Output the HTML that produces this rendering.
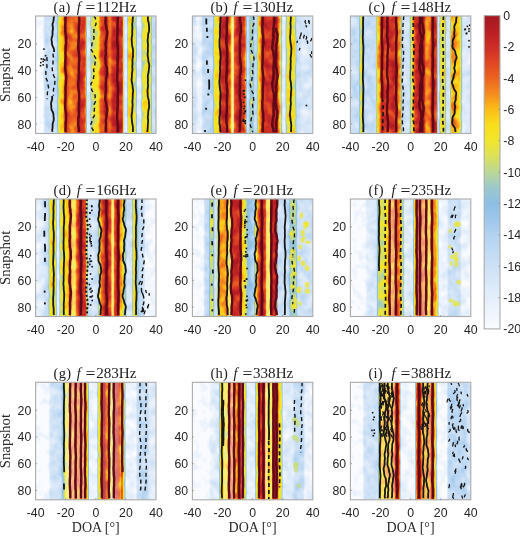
<!DOCTYPE html>
<html><head><meta charset="utf-8"><style>
html,body{margin:0;padding:0;background:#fff;width:520px;height:536px;overflow:hidden}
svg{display:block}
.ti{font-family:"Liberation Serif",serif;font-size:14.5px;fill:#222}
.eq{font-size:17.5px}
.lb{font-family:"Liberation Serif",serif;font-size:14px;fill:#2a2a2a}
.tk{font-family:"Liberation Sans",sans-serif;font-size:12.3px;fill:#262626}
</style></head><body>
<svg width="520" height="536" viewBox="0 0 520 536">
<defs><filter id="tex" x="0" y="0" width="1" height="1" color-interpolation-filters="sRGB"><feTurbulence type="fractalNoise" baseFrequency="0.12 0.1" numOctaves="2" seed="7" result="n"/><feColorMatrix in="n" type="matrix" values="1 0 0 0 0 1 0 0 0 0 1 0 0 0 0 0 0 0 0 1" result="ng"/><feComposite in="SourceGraphic" in2="ng" operator="arithmetic" k1="0" k2="1" k3="0.280" k4="-0.140" result="v"/><feComponentTransfer in="v"><feFuncR type="table" tableValues="0.9804 0.9569 0.9373 0.9176 0.8941 0.8706 0.8471 0.8275 0.8039 0.7765 0.7529 0.7255 0.6980 0.6588 0.6196 0.5882 0.5569 0.5804 0.6078 0.6667 0.7255 0.7922 0.8627 0.9020 0.9412 0.9608 0.9804 0.9804 0.9804 0.9725 0.9608 0.9451 0.9294 0.9020 0.8784 0.8392 0.8039 0.7647 0.7255 0.6863 0.6471"/><feFuncG type="table" tableValues="0.9882 0.9725 0.9608 0.9490 0.9333 0.9216 0.9098 0.8941 0.8824 0.8667 0.8549 0.8392 0.8235 0.8000 0.7765 0.7608 0.7451 0.7647 0.7843 0.8157 0.8431 0.8627 0.8824 0.8941 0.9020 0.8863 0.8706 0.8078 0.7451 0.6471 0.5490 0.4706 0.3922 0.3333 0.2745 0.2235 0.1725 0.1451 0.1176 0.1059 0.0941"/><feFuncB type="table" tableValues="1.0000 0.9961 0.9922 0.9882 0.9843 0.9804 0.9725 0.9686 0.9647 0.9569 0.9529 0.9490 0.9412 0.9333 0.9216 0.9098 0.9020 0.8549 0.8039 0.6980 0.5882 0.4706 0.3529 0.2667 0.1765 0.1412 0.1020 0.0980 0.0941 0.1059 0.1176 0.1216 0.1255 0.1333 0.1373 0.1412 0.1490 0.1451 0.1412 0.1373 0.1333"/></feComponentTransfer></filter>
<clipPath id="ca"><rect x="35.60" y="16.00" width="120.40" height="117.50"/></clipPath>
<clipPath id="cb"><rect x="192.40" y="16.00" width="120.40" height="117.50"/></clipPath>
<clipPath id="cc"><rect x="350.40" y="16.00" width="120.40" height="117.50"/></clipPath>
<clipPath id="cd"><rect x="35.60" y="199.00" width="120.40" height="117.50"/></clipPath>
<clipPath id="ce"><rect x="192.40" y="199.00" width="120.40" height="117.50"/></clipPath>
<clipPath id="cf"><rect x="350.40" y="199.00" width="120.40" height="117.50"/></clipPath>
<clipPath id="cg"><rect x="35.60" y="382.30" width="120.40" height="117.50"/></clipPath>
<clipPath id="ch"><rect x="192.40" y="382.30" width="120.40" height="117.50"/></clipPath>
<clipPath id="ci"><rect x="350.40" y="382.30" width="120.40" height="117.50"/></clipPath>
<linearGradient id="cbar" x1="0" x2="0" y1="0" y2="1"><stop offset="0.0000" stop-color="#a51822"/><stop offset="0.0250" stop-color="#af1b23"/><stop offset="0.0500" stop-color="#b91e24"/><stop offset="0.0750" stop-color="#c32525"/><stop offset="0.1000" stop-color="#cd2c26"/><stop offset="0.1250" stop-color="#d63924"/><stop offset="0.1500" stop-color="#e04623"/><stop offset="0.1750" stop-color="#e65522"/><stop offset="0.2000" stop-color="#ed6420"/><stop offset="0.2250" stop-color="#f1781f"/><stop offset="0.2500" stop-color="#f58c1e"/><stop offset="0.2750" stop-color="#f8a51b"/><stop offset="0.3000" stop-color="#fabe18"/><stop offset="0.3250" stop-color="#face19"/><stop offset="0.3500" stop-color="#fade1a"/><stop offset="0.3750" stop-color="#f5e224"/><stop offset="0.4000" stop-color="#f0e62d"/><stop offset="0.4250" stop-color="#e6e444"/><stop offset="0.4500" stop-color="#dce15a"/><stop offset="0.4750" stop-color="#cadc78"/><stop offset="0.5000" stop-color="#b9d796"/><stop offset="0.5250" stop-color="#aad0b2"/><stop offset="0.5500" stop-color="#9bc8cd"/><stop offset="0.5750" stop-color="#94c3da"/><stop offset="0.6000" stop-color="#8ebee6"/><stop offset="0.6250" stop-color="#96c2e8"/><stop offset="0.6500" stop-color="#9ec6eb"/><stop offset="0.6750" stop-color="#a8ccee"/><stop offset="0.7000" stop-color="#b2d2f0"/><stop offset="0.7250" stop-color="#b9d6f2"/><stop offset="0.7500" stop-color="#c0daf3"/><stop offset="0.7750" stop-color="#c6ddf4"/><stop offset="0.8000" stop-color="#cde1f6"/><stop offset="0.8250" stop-color="#d3e4f7"/><stop offset="0.8500" stop-color="#d8e8f8"/><stop offset="0.8750" stop-color="#deebfa"/><stop offset="0.9000" stop-color="#e4eefb"/><stop offset="0.9250" stop-color="#eaf2fc"/><stop offset="0.9500" stop-color="#eff5fd"/><stop offset="0.9750" stop-color="#f4f8fe"/><stop offset="1.0000" stop-color="#fafcff"/></linearGradient><filter id="soft" x="0" y="0" width="1" height="1" color-interpolation-filters="sRGB"><feGaussianBlur stdDeviation="0.4"/></filter></defs>
<g filter="url(#soft)"><rect width="520" height="536" fill="#fff"/>
<linearGradient id="ga" x1="0" x2="1" y1="0" y2="0"><stop offset="0.0042" stop-color="#000000"/><stop offset="0.0125" stop-color="#000000"/><stop offset="0.0208" stop-color="#000000"/><stop offset="0.0291" stop-color="#000000"/><stop offset="0.0374" stop-color="#000000"/><stop offset="0.0457" stop-color="#000000"/><stop offset="0.0540" stop-color="#000000"/><stop offset="0.0623" stop-color="#000000"/><stop offset="0.0706" stop-color="#1e1e1e"/><stop offset="0.0789" stop-color="#333333"/><stop offset="0.0872" stop-color="#343434"/><stop offset="0.0955" stop-color="#343434"/><stop offset="0.1038" stop-color="#353535"/><stop offset="0.1121" stop-color="#363636"/><stop offset="0.1204" stop-color="#363636"/><stop offset="0.1287" stop-color="#373737"/><stop offset="0.1370" stop-color="#373737"/><stop offset="0.1453" stop-color="#383838"/><stop offset="0.1537" stop-color="#393939"/><stop offset="0.1620" stop-color="#393939"/><stop offset="0.1703" stop-color="#3e3e3e"/><stop offset="0.1786" stop-color="#4a4a4a"/><stop offset="0.1869" stop-color="#7c7c7c"/><stop offset="0.1952" stop-color="#939393"/><stop offset="0.2035" stop-color="#9f9f9f"/><stop offset="0.2118" stop-color="#a8a8a8"/><stop offset="0.2201" stop-color="#acacac"/><stop offset="0.2284" stop-color="#b0b0b0"/><stop offset="0.2367" stop-color="#c3c3c3"/><stop offset="0.2450" stop-color="#e6e6e6"/><stop offset="0.2533" stop-color="#ebebeb"/><stop offset="0.2616" stop-color="#d9d9d9"/><stop offset="0.2699" stop-color="#d1d1d1"/><stop offset="0.2782" stop-color="#cdcdcd"/><stop offset="0.2865" stop-color="#c9c9c9"/><stop offset="0.2949" stop-color="#c5c5c5"/><stop offset="0.3032" stop-color="#c5c5c5"/><stop offset="0.3115" stop-color="#c7c7c7"/><stop offset="0.3198" stop-color="#cacaca"/><stop offset="0.3281" stop-color="#cdcdcd"/><stop offset="0.3364" stop-color="#d0d0d0"/><stop offset="0.3447" stop-color="#d3d3d3"/><stop offset="0.3530" stop-color="#e9e9e9"/><stop offset="0.3613" stop-color="#f2f2f2"/><stop offset="0.3696" stop-color="#e4e4e4"/><stop offset="0.3779" stop-color="#e2e2e2"/><stop offset="0.3862" stop-color="#e1e1e1"/><stop offset="0.3945" stop-color="#dfdfdf"/><stop offset="0.4028" stop-color="#dddddd"/><stop offset="0.4111" stop-color="#d2d2d2"/><stop offset="0.4194" stop-color="#b2b2b2"/><stop offset="0.4277" stop-color="#202020"/><stop offset="0.4360" stop-color="#222222"/><stop offset="0.4444" stop-color="#242424"/><stop offset="0.4527" stop-color="#262626"/><stop offset="0.4610" stop-color="#808080"/><stop offset="0.4693" stop-color="#858585"/><stop offset="0.4776" stop-color="#8a8a8a"/><stop offset="0.4859" stop-color="#8e8e8e"/><stop offset="0.4942" stop-color="#919191"/><stop offset="0.5025" stop-color="#939393"/><stop offset="0.5108" stop-color="#969696"/><stop offset="0.5191" stop-color="#9b9b9b"/><stop offset="0.5274" stop-color="#b2b2b2"/><stop offset="0.5357" stop-color="#c7c7c7"/><stop offset="0.5440" stop-color="#d5d5d5"/><stop offset="0.5523" stop-color="#d9d9d9"/><stop offset="0.5606" stop-color="#dddddd"/><stop offset="0.5689" stop-color="#e1e1e1"/><stop offset="0.5772" stop-color="#e8e8e8"/><stop offset="0.5855" stop-color="#f6f6f6"/><stop offset="0.5939" stop-color="#e6e6e6"/><stop offset="0.6022" stop-color="#d5d5d5"/><stop offset="0.6105" stop-color="#c9c9c9"/><stop offset="0.6188" stop-color="#c8c8c8"/><stop offset="0.6271" stop-color="#d3d3d3"/><stop offset="0.6354" stop-color="#dddddd"/><stop offset="0.6437" stop-color="#e5e5e5"/><stop offset="0.6520" stop-color="#e8e8e8"/><stop offset="0.6603" stop-color="#eaeaea"/><stop offset="0.6686" stop-color="#ededed"/><stop offset="0.6769" stop-color="#f6f6f6"/><stop offset="0.6852" stop-color="#f5f5f5"/><stop offset="0.6935" stop-color="#ededed"/><stop offset="0.7018" stop-color="#eaeaea"/><stop offset="0.7101" stop-color="#e7e7e7"/><stop offset="0.7184" stop-color="#e5e5e5"/><stop offset="0.7267" stop-color="#bbbbbb"/><stop offset="0.7350" stop-color="#353535"/><stop offset="0.7434" stop-color="#1a1a1a"/><stop offset="0.7517" stop-color="#1a1a1a"/><stop offset="0.7600" stop-color="#1a1a1a"/><stop offset="0.7683" stop-color="#9f9f9f"/><stop offset="0.7766" stop-color="#a1a1a1"/><stop offset="0.7849" stop-color="#a3a3a3"/><stop offset="0.7932" stop-color="#a5a5a5"/><stop offset="0.8015" stop-color="#a2a2a2"/><stop offset="0.8098" stop-color="#9a9a9a"/><stop offset="0.8181" stop-color="#919191"/><stop offset="0.8264" stop-color="#8b8b8b"/><stop offset="0.8347" stop-color="#868686"/><stop offset="0.8430" stop-color="#202020"/><stop offset="0.8513" stop-color="#202020"/><stop offset="0.8596" stop-color="#202020"/><stop offset="0.8679" stop-color="#202020"/><stop offset="0.8762" stop-color="#202020"/><stop offset="0.8846" stop-color="#808080"/><stop offset="0.8929" stop-color="#919191"/><stop offset="0.9012" stop-color="#969696"/><stop offset="0.9095" stop-color="#9a9a9a"/><stop offset="0.9178" stop-color="#9d9d9d"/><stop offset="0.9261" stop-color="#9f9f9f"/><stop offset="0.9344" stop-color="#9d9d9d"/><stop offset="0.9427" stop-color="#9a9a9a"/><stop offset="0.9510" stop-color="#969696"/><stop offset="0.9593" stop-color="#8f8f8f"/><stop offset="0.9676" stop-color="#393939"/><stop offset="0.9759" stop-color="#393939"/><stop offset="0.9842" stop-color="#393939"/><stop offset="0.9925" stop-color="#393939"/><stop offset="1.0000" stop-color="#393939"/></linearGradient>
<rect x="35.60" y="16.00" width="120.40" height="117.50" fill="url(#ga)" filter="url(#tex)"/>
<g clip-path="url(#ca)">
<path d="M54.2 16.0 L53.7 18.0 L53.6 20.0 L53.2 22.0 L52.5 24.0 L52.6 26.0 L53.0 28.0 L52.8 30.0 L52.5 32.0 L52.6 34.0 L52.3 36.0 L51.6 38.0 L51.5 40.0 L51.9 42.0 L52.0 44.0 L52.5 46.0 L53.6 48.0 L54.1 50.0 L54.1 52.0" fill="none" stroke="#161616" stroke-width="1.8"/>
<path d="M53.2 53.6 L53.1 55.6 L53.6 57.6 L53.5 59.6 L53.0 61.6 L53.0 63.6 L52.9 65.6 L52.3 67.6 L52.2 69.6 L52.8 71.6 L53.3 73.6 L53.6 75.6 L54.6 77.6 L55.2 79.6 L54.9 81.6 L54.7 83.6 L54.6 85.6 L54.0 87.6 L53.4 89.6 L53.5 91.6 L53.7 93.6 L53.4 95.6" fill="none" stroke="#141414" stroke-width="1.4" stroke-dasharray="4 3"/>
<path d="M46.9 57.1 L46.9 59.1 L47.2 61.1 L47.0 63.1 L46.8 65.1 L47.0 67.1 L46.6 69.1 L45.9 71.1 L45.8 73.1 L46.0 75.1 L45.9 77.1 L46.4 79.1 L47.4 81.1 L48.0 83.1 L48.1 85.1 L48.5 87.1 L48.5 89.1 L47.8 91.1 L47.3 93.1 L47.4 95.1 L47.2 97.1 L46.9 99.1" fill="none" stroke="#141414" stroke-width="1.4" stroke-dasharray="4 3"/>
<path d="M52.1 95.9 L52.2 97.9 L52.0 99.9 L51.3 101.9 L51.0 103.9 L51.3 105.9 L51.4 107.9 L51.6 109.9 L52.7 111.9 L53.4 113.9 L53.5 115.9 L53.7 117.9 L53.8 119.9 L53.2 121.9 L52.6 123.9 L52.6 125.9 L52.6 127.9 L52.2 129.9 L52.4 131.9" fill="none" stroke="#161616" stroke-width="1.8"/>
<path d="M65.5 16.0 L65.4 18.0 L65.4 20.0 L65.5 22.0 L65.3 24.0 L65.1 26.0 L65.2 28.0 L65.3 30.0 L65.3 32.0 L65.7 34.0 L66.0 36.0 L66.1 38.0 L66.1 40.0 L66.2 42.0 L66.1 44.0 L65.7 46.0 L65.6 48.0 L65.6 50.0 L65.4 52.0 L65.4 54.0 L65.6 56.0 L65.6 58.0 L65.3 60.0 L65.3 62.0 L65.3 64.0 L65.1 66.0 L65.1 68.0 L65.4 70.0 L65.7 72.0 L65.8 74.0 L66.1 76.0 L66.3 78.0 L66.1 80.0 L65.9 82.0 L65.9 84.0 L65.7 86.0 L65.4 88.0 L65.5 90.0 L65.6 92.0 L65.5 94.0 L65.5 96.0 L65.5 98.0 L65.4 100.0 L65.1 102.0 L65.1 104.0 L65.2 106.0 L65.2 108.0 L65.4 110.0 L65.9 112.0 L66.1 114.0 L66.1 116.0 L66.1 118.0 L66.1 120.0 L65.8 122.0 L65.6 124.0 L65.7 126.0 L65.6 128.0 L65.5 130.0 L65.6 132.0" fill="none" stroke="#5c0a16" stroke-width="2.4"/>
<path d="M79.2 16.0 L79.3 18.0 L79.3 20.0 L79.3 22.0 L79.3 24.0 L78.9 26.0 L78.8 28.0 L78.9 30.0 L78.8 32.0 L78.7 34.0 L78.8 36.0 L78.9 38.0 L78.6 40.0 L78.4 42.0 L78.4 44.0 L78.3 46.0 L78.2 48.0 L78.5 50.0 L78.8 52.0 L79.0 54.0 L79.2 56.0 L79.4 58.0 L79.3 60.0 L79.1 62.0 L79.0 64.0 L79.0 66.0 L78.8 68.0 L78.8 70.0 L79.0 72.0 L78.9 74.0 L78.7 76.0 L78.7 78.0 L78.6 80.0 L78.2 82.0 L78.1 84.0 L78.3 86.0 L78.4 88.0 L78.6 90.0 L79.0 92.0 L79.2 94.0 L79.2 96.0 L79.2 98.0 L79.2 100.0 L79.1 102.0 L78.8 104.0 L78.9 106.0 L79.0 108.0 L78.9 110.0 L78.9 112.0 L79.0 114.0 L78.8 116.0 L78.4 118.0 L78.3 120.0 L78.3 122.0 L78.1 124.0 L78.3 126.0 L78.7 128.0 L78.9 130.0 L79.0 132.0" fill="none" stroke="#5c0a16" stroke-width="2.4"/>
<path d="M94.0 16.0 L95.4 18.0 L95.5 20.0 L95.7 22.0 L96.1 24.0 L95.1 26.0 L93.9 28.0 L93.9 30.0 L94.0 32.0 L93.4 34.0 L93.6 36.0 L94.1 38.0 L93.5 40.0 L92.3 42.0 L92.0 44.0 L91.6 46.0 L90.8 48.0 L91.2 50.0 L92.7 52.0 L93.6 54.0 L94.3 56.0 L95.6 58.0 L96.2 60.0 L95.3 62.0 L94.8 64.0 L94.9 66.0 L94.1 68.0 L93.5 70.0 L94.1 72.0 L94.5 74.0 L93.8 76.0 L93.5 78.0 L93.3 80.0 L92.1 82.0 L90.9 84.0 L91.1 86.0 L91.5 88.0 L91.7 90.0 L92.9 92.0 L94.7 94.0 L95.2 96.0 L95.1 98.0 L95.6 100.0 L95.4 102.0 L94.2 104.0 L94.0 106.0 L94.5 108.0 L94.3 110.0 L94.1 112.0 L94.6 114.0 L94.3 116.0 L92.9 118.0 L92.0 120.0 L91.8 122.0 L90.9 124.0 L90.6 126.0 L91.9 128.0 L93.1 130.0 L93.6 132.0" fill="none" stroke="#141414" stroke-width="1.4" stroke-dasharray="4 3"/>
<path d="M105.6 16.0 L105.7 18.0 L105.6 20.0 L105.4 22.0 L105.7 24.0 L106.2 26.0 L106.4 28.0 L106.8 30.0 L107.3 32.0 L107.3 34.0 L106.8 36.0 L106.6 38.0 L106.3 40.0 L105.8 42.0 L105.5 44.0 L105.8 46.0 L105.8 48.0 L105.7 50.0 L105.8 52.0 L105.9 54.0 L105.5 56.0 L105.3 58.0 L105.5 60.0 L105.6 62.0 L105.7 64.0 L106.4 66.0 L107.0 68.0 L107.0 70.0 L107.1 72.0 L107.2 74.0 L106.8 76.0 L106.1 78.0 L106.0 80.0 L106.0 82.0 L105.7 84.0 L105.7 86.0 L106.0 88.0 L105.9 90.0 L105.6 92.0 L105.5 94.0 L105.5 96.0 L105.2 98.0 L105.3 100.0 L105.9 102.0 L106.3 104.0 L106.5 106.0 L107.1 108.0 L107.3 110.0 L107.0 112.0 L106.6 114.0 L106.5 116.0 L106.2 118.0 L105.8 120.0 L105.9 122.0 L106.1 124.0 L105.9 126.0 L105.8 128.0 L105.9 130.0 L105.6 132.0" fill="none" stroke="#5c0a16" stroke-width="2.4"/>
<path d="M118.0 16.0 L117.8 18.0 L117.8 20.0 L117.6 22.0 L117.5 24.0 L117.5 26.0 L117.6 28.0 L117.5 30.0 L117.5 32.0 L117.5 34.0 L117.4 36.0 L117.2 38.0 L117.2 40.0 L117.3 42.0 L117.4 44.0 L117.6 46.0 L117.9 48.0 L118.0 50.0 L118.0 52.0 L118.0 54.0 L117.9 56.0 L117.7 58.0 L117.6 60.0 L117.7 62.0 L117.6 64.0 L117.5 66.0 L117.6 68.0 L117.6 70.0 L117.4 72.0 L117.3 74.0 L117.3 76.0 L117.2 78.0 L117.1 80.0 L117.4 82.0 L117.6 84.0 L117.7 86.0 L117.9 88.0 L118.1 90.0 L118.0 92.0 L117.8 94.0 L117.8 96.0 L117.7 98.0 L117.6 100.0 L117.6 102.0 L117.7 104.0 L117.7 106.0 L117.5 108.0 L117.5 110.0 L117.4 112.0 L117.2 114.0 L117.1 116.0 L117.2 118.0 L117.3 120.0 L117.4 122.0 L117.7 124.0 L117.9 126.0 L117.9 128.0 L117.9 130.0 L117.9 132.0" fill="none" stroke="#5c0a16" stroke-width="2.4"/>
<path d="M133.1 16.0 L132.8 18.0 L132.7 20.0 L132.6 22.0 L132.2 24.0 L132.3 26.0 L132.4 28.0 L132.3 30.0 L132.2 32.0 L132.3 34.0 L132.1 36.0 L131.7 38.0 L131.7 40.0 L131.9 42.0 L131.9 44.0 L132.2 46.0 L132.7 48.0 L133.0 50.0 L133.0 52.0 L133.0 54.0 L133.1 56.0 L132.7 58.0 L132.4 60.0 L132.5 62.0 L132.5 64.0 L132.3 66.0 L132.4 68.0 L132.5 70.0 L132.2 72.0 L131.9 74.0 L131.9 76.0 L131.8 78.0 L131.6 80.0 L131.8 82.0 L132.3 84.0 L132.5 86.0 L132.7 88.0 L133.1 90.0 L133.1 92.0 L132.8 94.0 L132.7 96.0 L132.7 98.0 L132.5 100.0 L132.4 102.0 L132.6 104.0 L132.6 106.0 L132.4 108.0 L132.3 110.0 L132.2 112.0 L131.8 114.0 L131.6 116.0 L131.7 118.0 L131.9 120.0 L132.0 122.0 L132.4 124.0 L132.8 126.0 L132.9 128.0 L132.9 130.0 L133.0 132.0" fill="none" stroke="#161616" stroke-width="1.8"/>
<path d="M147.9 16.0 L147.9 18.0 L147.9 20.0 L148.5 22.0 L148.9 24.0 L149.0 26.0 L149.1 28.0 L149.2 30.0 L148.8 32.0 L148.2 34.0 L148.1 36.0 L147.9 38.0 L147.6 40.0 L147.7 42.0 L148.0 44.0 L148.0 46.0 L147.8 48.0 L147.9 50.0 L147.9 52.0 L147.6 54.0 L147.7 56.0 L148.1 58.0 L148.3 60.0 L148.5 62.0 L149.1 64.0 L149.3 66.0 L149.0 68.0 L148.8 70.0 L148.6 72.0 L148.2 74.0 L147.8 76.0 L147.9 78.0 L148.0 80.0 L147.8 82.0 L147.9 84.0 L148.1 86.0 L147.8 88.0 L147.5 90.0 L147.6 92.0 L147.7 94.0 L147.7 96.0 L148.1 98.0 L148.7 100.0 L148.9 102.0 L149.0 104.0 L149.2 106.0 L149.0 108.0 L148.5 110.0 L148.2 112.0 L148.2 114.0 L147.9 116.0 L147.8 118.0 L148.1 120.0 L148.1 122.0 L147.9 124.0 L147.8 126.0 L147.8 128.0 L147.5 130.0 L147.4 132.0" fill="none" stroke="#161616" stroke-width="1.8"/>
<rect x="42.4" y="64.1" width="1.6" height="1.6" fill="#141414"/>
<rect x="42.5" y="58.3" width="1.6" height="1.6" fill="#141414"/>
<rect x="40.5" y="58.1" width="1.6" height="1.6" fill="#141414"/>
<rect x="44.8" y="54.9" width="1.6" height="1.6" fill="#141414"/>
<rect x="44.0" y="59.2" width="1.6" height="1.6" fill="#141414"/>
<rect x="40.0" y="61.8" width="1.6" height="1.6" fill="#141414"/>
<rect x="43.1" y="48.3" width="1.6" height="1.6" fill="#141414"/>
<rect x="39.8" y="64.9" width="1.6" height="1.6" fill="#141414"/>
<rect x="42.4" y="60.6" width="1.6" height="1.6" fill="#141414"/>
</g>
<rect x="35.60" y="16.00" width="120.40" height="117.50" fill="none" stroke="#ababab" stroke-width="1.1"/>
<line x1="35.60" x2="37.10" y1="44.00" y2="44.00" stroke="#8a8a8a" stroke-width="0.8"/>
<line x1="35.60" x2="37.10" y1="70.70" y2="70.70" stroke="#8a8a8a" stroke-width="0.8"/>
<line x1="35.60" x2="37.10" y1="97.40" y2="97.40" stroke="#8a8a8a" stroke-width="0.8"/>
<line x1="35.60" x2="37.10" y1="124.10" y2="124.10" stroke="#8a8a8a" stroke-width="0.8"/>
<line x1="65.70" x2="65.70" y1="133.50" y2="132.00" stroke="#8a8a8a" stroke-width="0.8"/>
<line x1="95.80" x2="95.80" y1="133.50" y2="132.00" stroke="#8a8a8a" stroke-width="0.8"/>
<line x1="125.90" x2="125.90" y1="133.50" y2="132.00" stroke="#8a8a8a" stroke-width="0.8"/>
<text y="11.80" class="ti" x="53.60" letter-spacing="0.3" font-size="15.5px">(a)</text>
<text y="11.80" class="ti" x="76.80" font-style="italic" font-size="16px">f</text>
<text y="12.90" class="ti eq" x="85.60">=</text>
<text y="11.80" class="ti" x="96.20" font-size="15px" textLength="40.30" lengthAdjust="spacingAndGlyphs">112Hz</text>
<text x="35.60" y="151.00" class="tk" text-anchor="middle">-40</text>
<text x="65.70" y="151.00" class="tk" text-anchor="middle">-20</text>
<text x="95.80" y="151.00" class="tk" text-anchor="middle">0</text>
<text x="125.90" y="151.00" class="tk" text-anchor="middle">20</text>
<text x="156.00" y="151.00" class="tk" text-anchor="middle">40</text>
<text x="31.30" y="48.40" class="tk" text-anchor="end">20</text>
<text x="31.30" y="75.10" class="tk" text-anchor="end">40</text>
<text x="31.30" y="101.80" class="tk" text-anchor="end">60</text>
<text x="31.30" y="128.50" class="tk" text-anchor="end">80</text>
<linearGradient id="gb" x1="0" x2="1" y1="0" y2="0"><stop offset="0.0042" stop-color="#313131"/><stop offset="0.0125" stop-color="#2c2c2c"/><stop offset="0.0208" stop-color="#272727"/><stop offset="0.0291" stop-color="#222222"/><stop offset="0.0374" stop-color="#161616"/><stop offset="0.0457" stop-color="#0e0e0e"/><stop offset="0.0540" stop-color="#0f0f0f"/><stop offset="0.0623" stop-color="#111111"/><stop offset="0.0706" stop-color="#121212"/><stop offset="0.0789" stop-color="#202020"/><stop offset="0.0872" stop-color="#393939"/><stop offset="0.0955" stop-color="#3a3a3a"/><stop offset="0.1038" stop-color="#3b3b3b"/><stop offset="0.1121" stop-color="#3b3b3b"/><stop offset="0.1204" stop-color="#3c3c3c"/><stop offset="0.1287" stop-color="#3d3d3d"/><stop offset="0.1370" stop-color="#3d3d3d"/><stop offset="0.1453" stop-color="#3e3e3e"/><stop offset="0.1537" stop-color="#3f3f3f"/><stop offset="0.1620" stop-color="#3f3f3f"/><stop offset="0.1703" stop-color="#4f4f4f"/><stop offset="0.1786" stop-color="#828282"/><stop offset="0.1869" stop-color="#9f9f9f"/><stop offset="0.1952" stop-color="#a1a1a1"/><stop offset="0.2035" stop-color="#a2a2a2"/><stop offset="0.2118" stop-color="#a4a4a4"/><stop offset="0.2201" stop-color="#a6a6a6"/><stop offset="0.2284" stop-color="#c0c0c0"/><stop offset="0.2367" stop-color="#e6e6e6"/><stop offset="0.2450" stop-color="#e9e9e9"/><stop offset="0.2533" stop-color="#e9e9e9"/><stop offset="0.2616" stop-color="#e9e9e9"/><stop offset="0.2699" stop-color="#e9e9e9"/><stop offset="0.2782" stop-color="#ececec"/><stop offset="0.2865" stop-color="#f9f9f9"/><stop offset="0.2949" stop-color="#e8e8e8"/><stop offset="0.3032" stop-color="#dcdcdc"/><stop offset="0.3115" stop-color="#d2d2d2"/><stop offset="0.3198" stop-color="#bababa"/><stop offset="0.3281" stop-color="#999999"/><stop offset="0.3364" stop-color="#999999"/><stop offset="0.3447" stop-color="#cbcbcb"/><stop offset="0.3530" stop-color="#d5d5d5"/><stop offset="0.3613" stop-color="#dedede"/><stop offset="0.3696" stop-color="#e6e6e6"/><stop offset="0.3779" stop-color="#eaeaea"/><stop offset="0.3862" stop-color="#f1f1f1"/><stop offset="0.3945" stop-color="#fcfcfc"/><stop offset="0.4028" stop-color="#f2f2f2"/><stop offset="0.4111" stop-color="#e3e3e3"/><stop offset="0.4194" stop-color="#dddddd"/><stop offset="0.4277" stop-color="#d8d8d8"/><stop offset="0.4360" stop-color="#cbcbcb"/><stop offset="0.4444" stop-color="#b0b0b0"/><stop offset="0.4527" stop-color="#262626"/><stop offset="0.4610" stop-color="#333333"/><stop offset="0.4693" stop-color="#404040"/><stop offset="0.4776" stop-color="#626262"/><stop offset="0.4859" stop-color="#868686"/><stop offset="0.4942" stop-color="#818181"/><stop offset="0.5025" stop-color="#7c7c7c"/><stop offset="0.5108" stop-color="#4f4f4f"/><stop offset="0.5191" stop-color="#3c3c3c"/><stop offset="0.5274" stop-color="#414141"/><stop offset="0.5357" stop-color="#464646"/><stop offset="0.5440" stop-color="#9f9f9f"/><stop offset="0.5523" stop-color="#acacac"/><stop offset="0.5606" stop-color="#b9b9b9"/><stop offset="0.5689" stop-color="#c5c5c5"/><stop offset="0.5772" stop-color="#e0e0e0"/><stop offset="0.5855" stop-color="#f4f4f4"/><stop offset="0.5939" stop-color="#e4e4e4"/><stop offset="0.6022" stop-color="#e4e4e4"/><stop offset="0.6105" stop-color="#e4e4e4"/><stop offset="0.6188" stop-color="#e4e4e4"/><stop offset="0.6271" stop-color="#e4e4e4"/><stop offset="0.6354" stop-color="#e4e4e4"/><stop offset="0.6437" stop-color="#e4e4e4"/><stop offset="0.6520" stop-color="#e4e4e4"/><stop offset="0.6603" stop-color="#e4e4e4"/><stop offset="0.6686" stop-color="#f6f6f6"/><stop offset="0.6769" stop-color="#f6f6f6"/><stop offset="0.6852" stop-color="#f6f6f6"/><stop offset="0.6935" stop-color="#f6f6f6"/><stop offset="0.7018" stop-color="#f6f6f6"/><stop offset="0.7101" stop-color="#cecece"/><stop offset="0.7184" stop-color="#bcbcbc"/><stop offset="0.7267" stop-color="#aaaaaa"/><stop offset="0.7350" stop-color="#999999"/><stop offset="0.7434" stop-color="#353535"/><stop offset="0.7517" stop-color="#1a1a1a"/><stop offset="0.7600" stop-color="#1a1a1a"/><stop offset="0.7683" stop-color="#1a1a1a"/><stop offset="0.7766" stop-color="#4f4f4f"/><stop offset="0.7849" stop-color="#9b9b9b"/><stop offset="0.7932" stop-color="#9f9f9f"/><stop offset="0.8015" stop-color="#9f9f9f"/><stop offset="0.8098" stop-color="#9f9f9f"/><stop offset="0.8181" stop-color="#9f9f9f"/><stop offset="0.8264" stop-color="#9f9f9f"/><stop offset="0.8347" stop-color="#9f9f9f"/><stop offset="0.8430" stop-color="#9f9f9f"/><stop offset="0.8513" stop-color="#9f9f9f"/><stop offset="0.8596" stop-color="#626262"/><stop offset="0.8679" stop-color="#383838"/><stop offset="0.8762" stop-color="#363636"/><stop offset="0.8846" stop-color="#343434"/><stop offset="0.8929" stop-color="#303030"/><stop offset="0.9012" stop-color="#292929"/><stop offset="0.9095" stop-color="#232323"/><stop offset="0.9178" stop-color="#202020"/><stop offset="0.9261" stop-color="#222222"/><stop offset="0.9344" stop-color="#232323"/><stop offset="0.9427" stop-color="#242424"/><stop offset="0.9510" stop-color="#252525"/><stop offset="0.9593" stop-color="#272727"/><stop offset="0.9676" stop-color="#282828"/><stop offset="0.9759" stop-color="#292929"/><stop offset="0.9842" stop-color="#2a2a2a"/><stop offset="0.9925" stop-color="#2c2c2c"/><stop offset="1.0000" stop-color="#2d2d2d"/></linearGradient>
<rect x="192.40" y="16.00" width="120.40" height="117.50" fill="url(#gb)" filter="url(#tex)"/>
<g clip-path="url(#cb)">
<path d="M206.3 18.4 L206.3 20.4 L206.3 22.4 L206.4 24.4" fill="none" stroke="#161616" stroke-width="1.8"/>
<path d="M206.8 27.8 L206.9 29.8 L206.9 31.8" fill="none" stroke="#161616" stroke-width="1.8"/>
<path d="M207.4 36.0 L207.4 38.0" fill="none" stroke="#161616" stroke-width="1.8"/>
<path d="M206.9 60.6 L206.9 62.6 L206.9 64.7" fill="none" stroke="#161616" stroke-width="1.8"/>
<path d="M208.1 68.9 L208.1 70.9 L208.1 72.9" fill="none" stroke="#161616" stroke-width="1.8"/>
<path d="M209.0 79.5 L209.2 81.5 L209.2 83.5 L209.2 85.5 L209.2 87.5 L209.1 89.5" fill="none" stroke="#161616" stroke-width="1.8"/>
<path d="M208.3 93.5 L208.3 95.5" fill="none" stroke="#161616" stroke-width="1.8"/>
<path d="M206.1 107.7 L206.2 109.7" fill="none" stroke="#161616" stroke-width="1.8"/>
<path d="M205.0 130.0 L205.0 132.0" fill="none" stroke="#161616" stroke-width="1.8"/>
<rect x="231.70" y="16.00" width="2.20" height="117.50" fill="#ffffff" fill-opacity="0.50"/>
<path d="M220.6 16.0 L220.5 18.0 L220.4 20.0 L220.4 22.0 L220.2 24.0 L219.9 26.0 L220.0 28.0 L220.1 30.0 L219.9 32.0 L219.9 34.0 L220.0 36.0 L219.8 38.0 L219.5 40.0 L219.5 42.0 L219.5 44.0 L219.5 46.0 L219.7 48.0 L220.1 50.0 L220.3 52.0 L220.4 54.0 L220.6 56.0 L220.6 58.0 L220.3 60.0 L220.1 62.0 L220.2 64.0 L220.1 66.0 L219.9 68.0 L220.1 70.0 L220.2 72.0 L219.9 74.0 L219.8 76.0 L219.7 78.0 L219.5 80.0 L219.3 82.0 L219.5 84.0 L219.7 86.0 L219.8 88.0 L220.1 90.0 L220.5 92.0 L220.5 94.0 L220.4 96.0 L220.4 98.0 L220.3 100.0 L220.1 102.0 L220.0 104.0 L220.2 106.0 L220.2 108.0 L220.0 110.0 L220.1 112.0 L220.0 114.0 L219.6 116.0 L219.4 118.0 L219.5 120.0 L219.4 122.0 L219.5 124.0 L219.9 126.0 L220.2 128.0 L220.2 130.0 L220.4 132.0" fill="none" stroke="#161616" stroke-width="1.8"/>
<path d="M227.3 16.0 L227.1 18.0 L227.1 20.0 L227.0 22.0 L226.7 24.0 L226.7 26.0 L226.8 28.0 L226.8 30.0 L226.7 32.0 L226.7 34.0 L226.6 36.0 L226.4 38.0 L226.3 40.0 L226.4 42.0 L226.5 44.0 L226.6 46.0 L226.9 48.0 L227.2 50.0 L227.2 52.0 L227.2 54.0 L227.3 56.0 L227.1 58.0 L226.8 60.0 L226.9 62.0 L226.9 64.0 L226.8 66.0 L226.8 68.0 L226.9 70.0 L226.7 72.0 L226.5 74.0 L226.5 76.0 L226.4 78.0 L226.2 80.0 L226.3 82.0 L226.7 84.0 L226.8 86.0 L227.0 88.0 L227.2 90.0 L227.3 92.0 L227.1 94.0 L227.0 96.0 L227.0 98.0 L226.9 100.0 L226.8 102.0 L226.9 104.0 L227.0 106.0 L226.8 108.0 L226.8 110.0 L226.7 112.0 L226.5 114.0 L226.2 116.0 L226.3 118.0 L226.4 120.0 L226.4 122.0 L226.7 124.0 L227.1 126.0 L227.1 128.0 L227.1 130.0 L227.2 132.0" fill="none" stroke="#5c0a16" stroke-width="2.4"/>
<path d="M239.9 16.0 L239.9 18.0 L239.9 20.0 L240.2 22.0 L240.7 24.0 L240.8 26.0 L240.9 28.0 L241.1 30.0 L240.9 32.0 L240.4 34.0 L240.2 36.0 L240.1 38.0 L239.8 40.0 L239.7 42.0 L240.0 44.0 L240.0 46.0 L239.9 48.0 L239.9 50.0 L240.0 52.0 L239.7 54.0 L239.7 56.0 L240.0 58.0 L240.2 60.0 L240.3 62.0 L240.7 64.0 L241.1 66.0 L240.9 68.0 L240.8 70.0 L240.7 72.0 L240.4 74.0 L239.9 76.0 L239.9 78.0 L240.0 80.0 L239.9 82.0 L239.9 84.0 L240.1 86.0 L240.0 88.0 L239.7 90.0 L239.7 92.0 L239.8 94.0 L239.7 96.0 L239.9 98.0 L240.4 100.0 L240.7 102.0 L240.8 104.0 L241.0 106.0 L241.0 108.0 L240.6 110.0 L240.3 112.0 L240.3 114.0 L240.1 116.0 L239.9 118.0 L240.1 120.0 L240.2 122.0 L240.0 124.0 L239.9 126.0 L239.9 128.0 L239.7 130.0 L239.5 132.0" fill="none" stroke="#5c0a16" stroke-width="2.4"/>
<rect x="243.2" y="107.9" width="1.6" height="1.6" fill="#141414"/>
<rect x="242.9" y="101.6" width="1.6" height="1.6" fill="#141414"/>
<rect x="243.1" y="93.3" width="1.6" height="1.6" fill="#141414"/>
<rect x="243.6" y="105.6" width="1.6" height="1.6" fill="#141414"/>
<rect x="244.4" y="110.8" width="1.6" height="1.6" fill="#141414"/>
<rect x="244.4" y="120.0" width="1.6" height="1.6" fill="#141414"/>
<rect x="244.6" y="110.2" width="1.6" height="1.6" fill="#141414"/>
<rect x="242.6" y="120.3" width="1.6" height="1.6" fill="#141414"/>
<rect x="244.5" y="122.6" width="1.6" height="1.6" fill="#141414"/>
<rect x="243.6" y="112.5" width="1.6" height="1.6" fill="#141414"/>
<rect x="242.7" y="118.7" width="1.6" height="1.6" fill="#141414"/>
<rect x="243.6" y="89.8" width="1.6" height="1.6" fill="#141414"/>
<rect x="242.4" y="119.9" width="1.6" height="1.6" fill="#141414"/>
<rect x="244.6" y="79.4" width="1.6" height="1.6" fill="#141414"/>
<rect x="244.1" y="96.5" width="1.6" height="1.6" fill="#141414"/>
<rect x="242.6" y="90.3" width="1.6" height="1.6" fill="#141414"/>
<rect x="244.0" y="120.9" width="1.6" height="1.6" fill="#141414"/>
<path d="M253.1 16.0 L253.9 18.0 L253.8 20.0 L253.9 22.0 L253.9 24.0 L253.0 26.0 L252.3 28.0 L252.5 30.0 L252.5 32.0 L252.1 34.0 L252.4 36.0 L252.6 38.0 L251.9 40.0 L251.1 42.0 L251.0 44.0 L250.7 46.0 L250.3 48.0 L251.0 50.0 L252.1 52.0 L252.6 54.0 L253.2 56.0 L254.0 58.0 L254.0 60.0 L253.3 62.0 L253.1 64.0 L253.0 66.0 L252.4 68.0 L252.2 70.0 L252.8 72.0 L252.8 74.0 L252.2 76.0 L252.1 78.0 L251.8 80.0 L250.8 82.0 L250.2 84.0 L250.6 86.0 L251.0 88.0 L251.3 90.0 L252.4 92.0 L253.5 94.0 L253.5 96.0 L253.5 98.0 L253.7 100.0 L253.3 102.0 L252.5 104.0 L252.6 106.0 L253.0 108.0 L252.7 110.0 L252.7 112.0 L253.0 114.0 L252.5 116.0 L251.4 118.0 L251.0 120.0 L250.8 122.0 L250.2 124.0 L250.4 126.0 L251.5 128.0 L252.3 130.0 L252.6 132.0" fill="none" stroke="#141414" stroke-width="1.4" stroke-dasharray="4 3"/>
<path d="M262.7 16.0 L262.6 18.0 L262.6 20.0 L262.7 22.0 L262.5 24.0 L262.3 26.0 L262.4 28.0 L262.5 30.0 L262.5 32.0 L262.8 34.0 L263.2 36.0 L263.3 38.0 L263.3 40.0 L263.4 42.0 L263.3 44.0 L262.9 46.0 L262.8 48.0 L262.8 50.0 L262.6 52.0 L262.6 54.0 L262.7 56.0 L262.8 58.0 L262.6 60.0 L262.5 62.0 L262.5 64.0 L262.3 66.0 L262.3 68.0 L262.5 70.0 L262.8 72.0 L262.9 74.0 L263.2 76.0 L263.5 78.0 L263.4 80.0 L263.2 82.0 L263.1 84.0 L262.9 86.0 L262.7 88.0 L262.7 90.0 L262.8 92.0 L262.7 94.0 L262.7 96.0 L262.7 98.0 L262.6 100.0 L262.3 102.0 L262.3 104.0 L262.4 106.0 L262.4 108.0 L262.6 110.0 L263.0 112.0 L263.2 114.0 L263.3 116.0 L263.3 118.0 L263.4 120.0 L263.1 122.0 L262.8 124.0 L262.9 126.0 L262.8 128.0 L262.7 130.0 L262.8 132.0" fill="none" stroke="#5c0a16" stroke-width="2.4"/>
<path d="M273.9 16.0 L274.3 18.0 L274.3 20.0 L274.4 22.0 L274.3 24.0 L273.8 26.0 L273.4 28.0 L273.5 30.0 L273.5 32.0 L273.3 34.0 L273.4 36.0 L273.6 38.0 L273.1 40.0 L272.7 42.0 L272.6 44.0 L272.4 46.0 L272.2 48.0 L272.6 50.0 L273.3 52.0 L273.6 54.0 L273.9 56.0 L274.4 58.0 L274.4 60.0 L274.0 62.0 L273.9 64.0 L273.8 66.0 L273.5 68.0 L273.4 70.0 L273.7 72.0 L273.7 74.0 L273.4 76.0 L273.3 78.0 L273.1 80.0 L272.5 82.0 L272.2 84.0 L272.4 86.0 L272.6 88.0 L272.8 90.0 L273.5 92.0 L274.1 94.0 L274.1 96.0 L274.1 98.0 L274.3 100.0 L274.0 102.0 L273.5 104.0 L273.6 106.0 L273.8 108.0 L273.6 110.0 L273.6 112.0 L273.8 114.0 L273.5 116.0 L272.8 118.0 L272.6 120.0 L272.5 122.0 L272.2 124.0 L272.3 126.0 L273.0 128.0 L273.4 130.0 L273.6 132.0" fill="none" stroke="#5c0a16" stroke-width="2.4"/>
<path d="M276.1 27.8 L276.2 29.8 L276.6 31.8 L277.4 33.8 L277.6 35.8 L277.4 37.8 L277.3 39.8 L277.2 41.8 L276.5 43.8 L276.1 45.8 L276.2 47.8 L276.1 49.8 L275.9 51.8 L276.1 53.8 L276.3 55.8 L275.9 57.8 L275.6 59.8 L275.7 61.8 L275.7 63.8 L275.6 65.8 L276.1 67.8 L276.8 69.8 L277.0 71.8 L277.3 73.8 L277.7 75.8 L277.5 77.8 L276.9 79.8 L276.7 81.8 L276.5 83.8 L276.1 85.8 L276.0 87.8 L276.4 89.8 L276.3 91.8 L276.0 93.8 L276.0 95.8 L275.9 97.8 L275.5 99.8 L275.3 101.8 L275.7 103.8 L276.0 105.8 L276.3 107.8 L277.0 109.8 L277.5 111.8 L277.4 113.8 L277.3 115.8 L277.3 117.8 L276.8 119.8 L276.3 121.8 L276.3 123.8 L276.5 125.8 L276.3 127.8 L276.2 129.8 L276.4 131.8" fill="none" stroke="#5c0a16" stroke-width="2.4"/>
<path d="M290.9 16.0 L290.8 18.0 L290.8 20.0 L290.5 22.0 L290.5 24.0 L290.7 26.0 L290.7 28.0 L290.5 30.0 L290.5 32.0 L290.4 34.0 L290.1 36.0 L290.1 38.0 L290.3 40.0 L290.5 42.0 L290.7 44.0 L291.1 46.0 L291.4 48.0 L291.3 50.0 L291.2 52.0 L291.2 54.0 L290.9 56.0 L290.6 58.0 L290.7 60.0 L290.8 62.0 L290.6 64.0 L290.6 66.0 L290.7 68.0 L290.5 70.0 L290.2 72.0 L290.2 74.0 L290.2 76.0 L290.1 78.0 L290.3 80.0 L290.8 82.0 L291.0 84.0 L291.1 86.0 L291.3 88.0 L291.3 90.0 L291.0 92.0 L290.9 94.0 L290.9 96.0 L290.7 98.0 L290.6 100.0 L290.8 102.0 L290.9 104.0 L290.6 106.0 L290.5 108.0 L290.4 110.0 L290.1 112.0 L289.9 114.0 L290.1 116.0 L290.4 118.0 L290.5 120.0 L290.9 122.0 L291.2 124.0 L291.3 126.0 L291.1 128.0 L291.1 130.0 L291.0 132.0" fill="none" stroke="#161616" stroke-width="1.8"/>
<path d="M310.5 54.1 q-0.8 1.6 1.5 3.3" fill="none" stroke="#161616" stroke-width="1.3"/>
<path d="M297.6 40.7 q-0.4 1.0 -0.7 2.1" fill="none" stroke="#161616" stroke-width="1.3"/>
<path d="M306.2 25.0 q-0.7 1.1 0.8 2.1" fill="none" stroke="#161616" stroke-width="1.3"/>
<path d="M311.7 51.1 q0.1 1.5 -0.1 2.9" fill="none" stroke="#161616" stroke-width="1.3"/>
<path d="M306.7 40.5 q1.8 1.7 0.5 3.4" fill="none" stroke="#161616" stroke-width="1.3"/>
<path d="M304.5 34.7 q-0.8 1.9 -1.1 3.8" fill="none" stroke="#161616" stroke-width="1.3"/>
<path d="M312.0 37.9 q-0.3 1.7 -1.6 3.4" fill="none" stroke="#161616" stroke-width="1.3"/>
<path d="M305.7 20.2 q-1.8 1.8 0.6 3.5" fill="none" stroke="#161616" stroke-width="1.3"/>
<path d="M306.4 36.0 q0.8 1.8 -0.6 3.7" fill="none" stroke="#161616" stroke-width="1.3"/>
<path d="M308.2 20.3 q1.9 1.1 0.4 2.2" fill="none" stroke="#161616" stroke-width="1.3"/>
<path d="M300.4 35.6 q-0.5 1.7 -0.7 3.5" fill="none" stroke="#161616" stroke-width="1.3"/>
<path d="M301.4 32.5 q-0.5 1.7 -0.8 3.5" fill="none" stroke="#161616" stroke-width="1.3"/>
<path d="M308.8 20.5 q-0.8 1.7 0.9 3.4" fill="none" stroke="#161616" stroke-width="1.3"/>
<path d="M300.0 47.9 q-0.3 1.3 -0.9 2.6" fill="none" stroke="#161616" stroke-width="1.3"/>
<rect x="305.6" y="104.7" width="1.6" height="1.6" fill="#141414"/>
</g>
<rect x="192.40" y="16.00" width="120.40" height="117.50" fill="none" stroke="#ababab" stroke-width="1.1"/>
<line x1="192.40" x2="193.90" y1="44.00" y2="44.00" stroke="#8a8a8a" stroke-width="0.8"/>
<line x1="192.40" x2="193.90" y1="70.70" y2="70.70" stroke="#8a8a8a" stroke-width="0.8"/>
<line x1="192.40" x2="193.90" y1="97.40" y2="97.40" stroke="#8a8a8a" stroke-width="0.8"/>
<line x1="192.40" x2="193.90" y1="124.10" y2="124.10" stroke="#8a8a8a" stroke-width="0.8"/>
<line x1="222.50" x2="222.50" y1="133.50" y2="132.00" stroke="#8a8a8a" stroke-width="0.8"/>
<line x1="252.60" x2="252.60" y1="133.50" y2="132.00" stroke="#8a8a8a" stroke-width="0.8"/>
<line x1="282.70" x2="282.70" y1="133.50" y2="132.00" stroke="#8a8a8a" stroke-width="0.8"/>
<text y="11.80" class="ti" x="210.40" letter-spacing="0.3" font-size="15.5px">(b)</text>
<text y="11.80" class="ti" x="233.60" font-style="italic" font-size="16px">f</text>
<text y="12.90" class="ti eq" x="242.40">=</text>
<text y="11.80" class="ti" x="253.00" font-size="15px" textLength="40.30" lengthAdjust="spacingAndGlyphs">130Hz</text>
<text x="192.40" y="151.00" class="tk" text-anchor="middle">-40</text>
<text x="222.50" y="151.00" class="tk" text-anchor="middle">-20</text>
<text x="252.60" y="151.00" class="tk" text-anchor="middle">0</text>
<text x="282.70" y="151.00" class="tk" text-anchor="middle">20</text>
<text x="312.80" y="151.00" class="tk" text-anchor="middle">40</text>
<text x="188.10" y="48.40" class="tk" text-anchor="end">20</text>
<text x="188.10" y="75.10" class="tk" text-anchor="end">40</text>
<text x="188.10" y="101.80" class="tk" text-anchor="end">60</text>
<text x="188.10" y="128.50" class="tk" text-anchor="end">80</text>
<linearGradient id="gc" x1="0" x2="1" y1="0" y2="0"><stop offset="0.0042" stop-color="#333333"/><stop offset="0.0125" stop-color="#343434"/><stop offset="0.0208" stop-color="#353535"/><stop offset="0.0291" stop-color="#363636"/><stop offset="0.0374" stop-color="#363636"/><stop offset="0.0457" stop-color="#373737"/><stop offset="0.0540" stop-color="#383838"/><stop offset="0.0623" stop-color="#393939"/><stop offset="0.0706" stop-color="#393939"/><stop offset="0.0789" stop-color="#8c8c8c"/><stop offset="0.0872" stop-color="#8c8c8c"/><stop offset="0.0955" stop-color="#8c8c8c"/><stop offset="0.1038" stop-color="#818181"/><stop offset="0.1121" stop-color="#686868"/><stop offset="0.1204" stop-color="#393939"/><stop offset="0.1287" stop-color="#393939"/><stop offset="0.1370" stop-color="#393939"/><stop offset="0.1453" stop-color="#393939"/><stop offset="0.1537" stop-color="#393939"/><stop offset="0.1620" stop-color="#393939"/><stop offset="0.1703" stop-color="#393939"/><stop offset="0.1786" stop-color="#393939"/><stop offset="0.1869" stop-color="#393939"/><stop offset="0.1952" stop-color="#393939"/><stop offset="0.2035" stop-color="#393939"/><stop offset="0.2118" stop-color="#393939"/><stop offset="0.2201" stop-color="#a6a6a6"/><stop offset="0.2284" stop-color="#ababab"/><stop offset="0.2367" stop-color="#b0b0b0"/><stop offset="0.2450" stop-color="#bfbfbf"/><stop offset="0.2533" stop-color="#dbdbdb"/><stop offset="0.2616" stop-color="#f4f4f4"/><stop offset="0.2699" stop-color="#e7e7e7"/><stop offset="0.2782" stop-color="#e2e2e2"/><stop offset="0.2865" stop-color="#e0e0e0"/><stop offset="0.2949" stop-color="#dedede"/><stop offset="0.3032" stop-color="#e1e1e1"/><stop offset="0.3115" stop-color="#f0f0f0"/><stop offset="0.3198" stop-color="#e4e4e4"/><stop offset="0.3281" stop-color="#e4e4e4"/><stop offset="0.3364" stop-color="#e4e4e4"/><stop offset="0.3447" stop-color="#e4e4e4"/><stop offset="0.3530" stop-color="#e4e4e4"/><stop offset="0.3613" stop-color="#e4e4e4"/><stop offset="0.3696" stop-color="#e4e4e4"/><stop offset="0.3779" stop-color="#f4f4f4"/><stop offset="0.3862" stop-color="#dfdfdf"/><stop offset="0.3945" stop-color="#c7c7c7"/><stop offset="0.4028" stop-color="#c0c0c0"/><stop offset="0.4111" stop-color="#b9b9b9"/><stop offset="0.4194" stop-color="#b2b2b2"/><stop offset="0.4277" stop-color="#464646"/><stop offset="0.4360" stop-color="#3c3c3c"/><stop offset="0.4444" stop-color="#323232"/><stop offset="0.4527" stop-color="#2d2d2d"/><stop offset="0.4610" stop-color="#2d2d2d"/><stop offset="0.4693" stop-color="#2d2d2d"/><stop offset="0.4776" stop-color="#2d2d2d"/><stop offset="0.4859" stop-color="#2d2d2d"/><stop offset="0.4942" stop-color="#424242"/><stop offset="0.5025" stop-color="#8c8c8c"/><stop offset="0.5108" stop-color="#9d9d9d"/><stop offset="0.5191" stop-color="#aeaeae"/><stop offset="0.5274" stop-color="#c3c3c3"/><stop offset="0.5357" stop-color="#dddddd"/><stop offset="0.5440" stop-color="#e4e4e4"/><stop offset="0.5523" stop-color="#e8e8e8"/><stop offset="0.5606" stop-color="#ececec"/><stop offset="0.5689" stop-color="#fbfbfb"/><stop offset="0.5772" stop-color="#fbfbfb"/><stop offset="0.5855" stop-color="#fbfbfb"/><stop offset="0.5939" stop-color="#fbfbfb"/><stop offset="0.6022" stop-color="#fbfbfb"/><stop offset="0.6105" stop-color="#fbfbfb"/><stop offset="0.6188" stop-color="#d2d2d2"/><stop offset="0.6271" stop-color="#c3c3c3"/><stop offset="0.6354" stop-color="#bcbcbc"/><stop offset="0.6437" stop-color="#bebebe"/><stop offset="0.6520" stop-color="#c0c0c0"/><stop offset="0.6603" stop-color="#c2c2c2"/><stop offset="0.6686" stop-color="#d8d8d8"/><stop offset="0.6769" stop-color="#f0f0f0"/><stop offset="0.6852" stop-color="#fbfbfb"/><stop offset="0.6935" stop-color="#ededed"/><stop offset="0.7018" stop-color="#e5e5e5"/><stop offset="0.7101" stop-color="#dddddd"/><stop offset="0.7184" stop-color="#d4d4d4"/><stop offset="0.7267" stop-color="#313131"/><stop offset="0.7350" stop-color="#262626"/><stop offset="0.7434" stop-color="#6c6c6c"/><stop offset="0.7517" stop-color="#999999"/><stop offset="0.7600" stop-color="#9b9b9b"/><stop offset="0.7683" stop-color="#9c9c9c"/><stop offset="0.7766" stop-color="#9d9d9d"/><stop offset="0.7849" stop-color="#9f9f9f"/><stop offset="0.7932" stop-color="#444444"/><stop offset="0.8015" stop-color="#2d2d2d"/><stop offset="0.8098" stop-color="#2d2d2d"/><stop offset="0.8181" stop-color="#2d2d2d"/><stop offset="0.8264" stop-color="#2d2d2d"/><stop offset="0.8347" stop-color="#afafaf"/><stop offset="0.8430" stop-color="#b5b5b5"/><stop offset="0.8513" stop-color="#bbbbbb"/><stop offset="0.8596" stop-color="#b8b8b8"/><stop offset="0.8679" stop-color="#b6b6b6"/><stop offset="0.8762" stop-color="#b3b3b3"/><stop offset="0.8846" stop-color="#b0b0b0"/><stop offset="0.8929" stop-color="#adadad"/><stop offset="0.9012" stop-color="#aaaaaa"/><stop offset="0.9095" stop-color="#a7a7a7"/><stop offset="0.9178" stop-color="#8c8c8c"/><stop offset="0.9261" stop-color="#464646"/><stop offset="0.9344" stop-color="#202020"/><stop offset="0.9427" stop-color="#202020"/><stop offset="0.9510" stop-color="#202020"/><stop offset="0.9593" stop-color="#202020"/><stop offset="0.9676" stop-color="#202020"/><stop offset="0.9759" stop-color="#202020"/><stop offset="0.9842" stop-color="#202020"/><stop offset="0.9925" stop-color="#202020"/><stop offset="1.0000" stop-color="#202020"/></linearGradient>
<rect x="350.40" y="16.00" width="120.40" height="117.50" fill="url(#gc)" filter="url(#tex)"/>
<g clip-path="url(#cc)">
<path d="M363.2 16.0 L363.2 18.0 L363.1 20.0 L363.0 22.0 L363.0 24.0 L363.1 26.0 L363.1 28.0 L363.0 30.0 L363.0 32.0 L363.0 34.0 L362.8 36.0 L362.8 38.0 L362.9 40.0 L363.0 42.0 L363.1 44.0 L363.3 46.0 L363.4 48.0 L363.4 50.0 L363.3 52.0 L363.3 54.0 L363.2 56.0 L363.1 58.0 L363.1 60.0 L363.1 62.0 L363.1 64.0 L363.1 66.0 L363.1 68.0 L363.0 70.0 L362.9 72.0 L362.9 74.0 L362.9 76.0 L362.8 78.0 L362.9 80.0 L363.1 82.0 L363.2 84.0 L363.3 86.0 L363.4 88.0 L363.4 90.0 L363.3 92.0 L363.2 94.0 L363.2 96.0 L363.1 98.0 L363.1 100.0 L363.1 102.0 L363.2 104.0 L363.1 106.0 L363.0 108.0 L363.0 110.0 L362.9 112.0 L362.8 114.0 L362.8 116.0 L362.9 118.0 L363.0 120.0 L363.1 122.0 L363.3 124.0 L363.4 126.0 L363.3 128.0 L363.3 130.0 L363.3 132.0" fill="none" stroke="#161616" stroke-width="1.8"/>
<path d="M382.2 16.0 L382.1 18.0 L382.0 20.0 L381.9 22.0 L381.9 24.0 L382.0 26.0 L382.0 28.0 L381.8 30.0 L381.8 32.0 L381.8 34.0 L381.6 36.0 L381.6 38.0 L381.8 40.0 L381.9 42.0 L382.0 44.0 L382.3 46.0 L382.5 48.0 L382.4 50.0 L382.3 52.0 L382.3 54.0 L382.1 56.0 L381.9 58.0 L382.0 60.0 L382.0 62.0 L381.9 64.0 L381.9 66.0 L382.0 68.0 L381.9 70.0 L381.6 72.0 L381.6 74.0 L381.6 76.0 L381.6 78.0 L381.8 80.0 L382.1 82.0 L382.2 84.0 L382.3 86.0 L382.4 88.0 L382.4 90.0 L382.2 92.0 L382.1 94.0 L382.1 96.0 L382.0 98.0" fill="none" stroke="#5c0a16" stroke-width="2.4"/>
<path d="M382.4 98.2 L382.5 100.2 L382.7 102.2 L382.9 104.2 L383.0 106.2 L383.2 108.2 L383.3 110.2 L383.1 112.2 L383.0 114.2 L383.0 116.2 L382.8 118.2 L382.7 120.2 L382.7 122.2 L382.8 124.2 L382.7 126.2 L382.7 128.2 L382.7 130.2 L382.6 132.2" fill="none" stroke="#141414" stroke-width="1.7" stroke-dasharray="4 3"/>
<path d="M387.4 16.0 L387.5 18.0 L387.3 20.0 L387.3 22.0 L387.5 24.0 L387.4 26.0 L387.2 28.0 L387.2 30.0 L387.2 32.0 L387.0 34.0 L387.0 36.0 L387.3 38.0 L387.6 40.0 L387.7 42.0 L388.0 44.0 L388.2 46.0 L388.0 48.0 L387.8 50.0 L387.8 52.0 L387.6 54.0 L387.3 56.0 L387.4 58.0 L387.5 60.0 L387.4 62.0 L387.3 64.0 L387.4 66.0 L387.2 68.0 L387.0 70.0 L387.0 72.0 L387.1 74.0 L387.2 76.0 L387.4 78.0 L387.8 80.0 L388.0 82.0 L388.0 84.0 L388.0 86.0 L388.0 88.0 L387.7 90.0 L387.5 92.0 L387.6 94.0 L387.5 96.0 L387.4 98.0 L387.5 100.0 L387.6 102.0 L387.3 104.0 L387.1 106.0 L387.1 108.0 L387.0 110.0 L386.9 112.0 L387.1 114.0 L387.5 116.0 L387.6 118.0 L387.8 120.0 L388.1 122.0 L388.0 124.0 L387.8 126.0 L387.8 128.0 L387.7 130.0 L387.5 132.0" fill="none" stroke="#5c0a16" stroke-width="2.4"/>
<path d="M396.1 16.0 L396.1 18.0 L396.1 20.0 L396.0 22.0 L396.2 24.0 L396.4 26.0 L396.5 28.0 L396.6 30.0 L396.8 32.0 L396.8 34.0 L396.6 36.0 L396.5 38.0 L396.4 40.0 L396.1 42.0 L396.1 44.0 L396.2 46.0 L396.2 48.0 L396.1 50.0 L396.2 52.0 L396.2 54.0 L396.0 56.0 L396.0 58.0 L396.1 60.0 L396.1 62.0 L396.2 64.0 L396.5 66.0 L396.7 68.0 L396.7 70.0 L396.7 72.0 L396.7 74.0 L396.5 76.0 L396.3 78.0 L396.2 80.0 L396.2 82.0 L396.1 84.0 L396.2 86.0 L396.3 88.0 L396.2 90.0 L396.1 92.0 L396.1 94.0 L396.0 96.0 L395.9 98.0 L396.0 100.0 L396.3 102.0 L396.4 104.0 L396.5 106.0 L396.8 108.0 L396.8 110.0 L396.6 112.0 L396.5 114.0 L396.5 116.0 L396.3 118.0 L396.1 120.0 L396.2 122.0 L396.3 124.0 L396.2 126.0 L396.2 128.0 L396.2 130.0 L396.0 132.0" fill="none" stroke="#5c0a16" stroke-width="2.4"/>
<path d="M403.8 16.0 L403.6 18.0 L403.5 20.0 L403.4 22.0 L403.1 24.0 L402.9 26.0 L403.0 28.0 L403.0 30.0 L402.9 32.0 L402.9 34.0 L402.9 36.0 L402.6 38.0 L402.3 40.0 L402.4 42.0 L402.4 44.0 L402.4 46.0 L402.8 48.0 L403.3 50.0 L403.5 52.0 L403.6 54.0 L403.7 56.0 L403.6 58.0 L403.2 60.0 L403.1 62.0 L403.2 64.0 L403.0 66.0 L402.9 68.0 L403.2 70.0 L403.1 72.0 L402.8 74.0 L402.6 76.0 L402.6 78.0 L402.3 80.0 L402.2 82.0 L402.5 84.0 L402.8 86.0 L403.0 88.0 L403.4 90.0 L403.7 92.0 L403.6 94.0 L403.4 96.0 L403.4 98.0 L403.3 100.0 L403.0 102.0 L403.1 104.0 L403.3 106.0 L403.1 108.0 L403.0 110.0 L403.0 112.0 L402.8 114.0 L402.4 116.0 L402.3 118.0 L402.4 120.0 L402.3 122.0 L402.5 124.0 L403.1 126.0 L403.4 128.0 L403.4 130.0 L403.5 132.0" fill="none" stroke="#141414" stroke-width="1.4" stroke-dasharray="4 3"/>
<path d="M413.6 16.0 L413.5 18.0 L413.4 20.0 L413.2 22.0 L413.2 24.0 L413.4 26.0 L413.3 28.0 L413.1 30.0 L413.1 32.0 L413.0 34.0 L412.7 36.0 L412.7 38.0 L413.0 40.0 L413.2 42.0 L413.4 44.0 L413.9 46.0 L414.2 48.0 L414.0 50.0 L413.9 52.0 L413.9 54.0 L413.6 56.0 L413.3 58.0 L413.4 60.0 L413.5 62.0 L413.3 64.0 L413.3 66.0 L413.4 68.0 L413.1 70.0 L412.8 72.0 L412.8 74.0 L412.8 76.0 L412.7 78.0 L413.0 80.0 L413.5 82.0 L413.8 84.0 L413.9 86.0 L414.1 88.0 L414.1 90.0 L413.7 92.0 L413.6 94.0 L413.6 96.0 L413.4 98.0 L413.3 100.0 L413.5 102.0 L413.6 104.0 L413.3 106.0 L413.1 108.0 L413.1 110.0 L412.8 112.0 L412.5 114.0 L412.8 116.0 L413.1 118.0 L413.2 120.0 L413.6 122.0 L414.0 124.0 L414.0 126.0 L413.9 128.0 L413.9 130.0 L413.8 132.0" fill="none" stroke="#141414" stroke-width="1.7" stroke-dasharray="4 3"/>
<path d="M420.1 16.0 L419.9 18.0 L420.1 20.0 L420.1 22.0 L419.7 24.0 L419.5 26.0 L419.8 28.0 L419.9 30.0 L420.1 32.0 L420.8 34.0 L421.5 36.0 L421.5 38.0 L421.5 40.0 L421.6 42.0 L421.1 44.0 L420.4 46.0 L420.3 48.0 L420.2 50.0 L420.0 52.0 L420.0 54.0 L420.3 56.0 L420.2 58.0 L419.8 60.0 L419.7 62.0 L419.7 64.0 L419.4 66.0 L419.5 68.0 L420.2 70.0 L420.7 72.0 L421.0 74.0 L421.5 76.0 L421.8 78.0 L421.3 80.0 L421.0 82.0 L420.9 84.0 L420.4 86.0 L420.0 88.0 L420.2 90.0 L420.4 92.0 L420.2 94.0 L420.1 96.0 L420.2 98.0 L419.7 100.0 L419.3 102.0 L419.4 104.0 L419.7 106.0 L419.8 108.0 L420.3 110.0 L421.2 112.0 L421.4 114.0 L421.4 116.0 L421.5 118.0 L421.3 120.0 L420.7 122.0 L420.4 124.0 L420.5 126.0 L420.4 128.0 L420.2 130.0 L420.5 132.0" fill="none" stroke="#5c0a16" stroke-width="2.4"/>
<path d="M421.9 16.0 L422.0 18.0 L421.7 20.0 L421.7 22.0 L422.4 24.0 L422.9 26.0 L423.1 28.0 L423.5 30.0 L423.9 32.0 L423.5 34.0 L422.9 36.0 L422.7 38.0 L422.3 40.0 L421.7 42.0 L421.8 44.0 L422.1 46.0 L422.0 48.0 L421.9 50.0 L422.1 52.0 L422.0 54.0 L421.5 56.0 L421.6 58.0 L421.9 60.0 L422.1 62.0 L422.4 64.0 L423.2 66.0 L423.6 68.0 L423.5 70.0 L423.5 72.0 L423.4 74.0 L422.7 76.0 L422.1 78.0 L422.2 80.0 L422.1 82.0 L421.9 84.0 L422.1 86.0 L422.3 88.0 L422.0 90.0 L421.7 92.0 L421.7 94.0 L421.6 96.0 L421.4 98.0 L421.9 100.0 L422.6 102.0 L422.9 104.0 L423.3 106.0 L423.7 108.0 L423.6 110.0 L423.1 112.0 L422.8 114.0 L422.7 116.0 L422.2 118.0 L422.0 120.0 L422.3 122.0 L422.4 124.0 L422.0 126.0 L422.1 128.0 L422.0 130.0 L421.5 132.0" fill="none" stroke="#5c0a16" stroke-width="2.4"/>
<path d="M432.9 16.0 L432.9 18.0 L432.8 20.0 L432.8 22.0 L432.9 24.0 L432.8 26.0 L432.7 28.0 L432.7 30.0 L432.7 32.0 L432.6 34.0 L432.6 36.0 L432.8 38.0 L433.0 40.0 L433.1 42.0 L433.2 44.0 L433.3 46.0 L433.2 48.0 L433.1 50.0 L433.0 52.0 L432.9 54.0 L432.8 56.0 L432.8 58.0 L432.9 60.0 L432.8 62.0 L432.8 64.0 L432.8 66.0 L432.7 68.0 L432.5 70.0 L432.6 72.0 L432.7 74.0 L432.7 76.0 L432.9 78.0 L433.1 80.0 L433.2 82.0 L433.2 84.0 L433.2 86.0 L433.2 88.0 L433.0 90.0 L432.9 92.0 L432.9 94.0 L432.9 96.0 L432.8 98.0 L432.9 100.0 L432.9 102.0 L432.8 104.0 L432.7 106.0 L432.6 108.0 L432.6 110.0 L432.5 112.0 L432.7 114.0 L432.9 116.0 L433.0 118.0 L433.1 120.0 L433.3 122.0 L433.2 124.0 L433.1 126.0 L433.1 128.0 L433.0 130.0 L432.9 132.0" fill="none" stroke="#5c0a16" stroke-width="2.4"/>
<path d="M443.5 16.0 L443.4 18.0 L443.3 20.0 L443.2 22.0 L443.0 24.0 L443.0 26.0 L443.1 28.0 L443.1 30.0 L443.0 32.0 L443.0 34.0 L443.0 36.0 L442.7 38.0 L442.7 40.0 L442.8 42.0 L442.8 44.0 L442.9 46.0 L443.2 48.0 L443.4 50.0 L443.4 52.0 L443.5 54.0 L443.5 56.0 L443.3 58.0 L443.1 60.0 L443.2 62.0 L443.1 64.0 L443.1 66.0 L443.1 68.0 L443.2 70.0 L443.0 72.0 L442.8 74.0 L442.8 76.0 L442.7 78.0 L442.6 80.0 L442.7 82.0 L443.0 84.0 L443.1 86.0 L443.3 88.0 L443.5 90.0 L443.5 92.0 L443.4 94.0 L443.3 96.0 L443.3 98.0 L443.1 100.0 L443.1 102.0 L443.2 104.0 L443.2 106.0 L443.1 108.0 L443.1 110.0 L443.0 112.0 L442.8 114.0 L442.6 116.0 L442.7 118.0 L442.8 120.0 L442.8 122.0 L443.1 124.0 L443.3 126.0 L443.4 128.0 L443.4 130.0 L443.5 132.0" fill="none" stroke="#141414" stroke-width="1.7" stroke-dasharray="4 3"/>
<path d="M456.6 16.0 L456.4 18.0 L456.1 20.0 L456.1 22.0 L455.3 24.0 L454.3 26.0 L454.3 28.0 L454.6 30.0 L454.3 32.0 L454.1 34.0 L454.5 36.0 L454.0 38.0 L452.8 40.0 L452.6 42.0 L452.7 44.0 L452.3 46.0 L452.8 48.0 L454.4 50.0 L455.3 52.0 L455.6 54.0 L456.4 56.0 L456.6 58.0 L455.7 60.0 L455.0 62.0 L455.1 64.0 L454.7 66.0 L454.2 68.0 L454.7 70.0 L455.0 72.0 L454.3 74.0 L453.7 76.0 L453.5 78.0 L452.7 80.0 L451.8 82.0 L452.3 84.0 L453.2 86.0 L453.6 88.0 L454.6 90.0 L456.0 92.0 L456.3 94.0 L455.8 96.0 L455.8 98.0 L455.7 100.0 L454.8 102.0 L454.5 104.0 L455.1 106.0 L455.1 108.0 L454.6 110.0 L454.8 112.0 L454.5 114.0 L453.2 116.0 L452.4 118.0 L452.5 120.0 L452.2 122.0 L452.3 124.0 L453.6 126.0 L454.9 128.0 L455.2 130.0 L455.7 132.0" fill="none" stroke="#161616" stroke-width="1.8"/>
<rect x="466.6" y="25.6" width="1.6" height="1.6" fill="#141414"/>
<rect x="468.2" y="46.1" width="1.6" height="1.6" fill="#141414"/>
<rect x="464.5" y="28.4" width="1.6" height="1.6" fill="#141414"/>
<rect x="468.2" y="39.9" width="1.6" height="1.6" fill="#141414"/>
<rect x="468.2" y="30.5" width="1.6" height="1.6" fill="#141414"/>
<rect x="464.2" y="28.8" width="1.6" height="1.6" fill="#141414"/>
<rect x="468.2" y="28.1" width="1.6" height="1.6" fill="#141414"/>
<rect x="465.5" y="32.8" width="1.6" height="1.6" fill="#141414"/>
<rect x="465.9" y="32.5" width="1.6" height="1.6" fill="#141414"/>
<rect x="468.9" y="24.5" width="1.6" height="1.6" fill="#141414"/>
</g>
<rect x="350.40" y="16.00" width="120.40" height="117.50" fill="none" stroke="#ababab" stroke-width="1.1"/>
<line x1="350.40" x2="351.90" y1="44.00" y2="44.00" stroke="#8a8a8a" stroke-width="0.8"/>
<line x1="350.40" x2="351.90" y1="70.70" y2="70.70" stroke="#8a8a8a" stroke-width="0.8"/>
<line x1="350.40" x2="351.90" y1="97.40" y2="97.40" stroke="#8a8a8a" stroke-width="0.8"/>
<line x1="350.40" x2="351.90" y1="124.10" y2="124.10" stroke="#8a8a8a" stroke-width="0.8"/>
<line x1="380.50" x2="380.50" y1="133.50" y2="132.00" stroke="#8a8a8a" stroke-width="0.8"/>
<line x1="410.60" x2="410.60" y1="133.50" y2="132.00" stroke="#8a8a8a" stroke-width="0.8"/>
<line x1="440.70" x2="440.70" y1="133.50" y2="132.00" stroke="#8a8a8a" stroke-width="0.8"/>
<text y="11.80" class="ti" x="368.40" letter-spacing="0.3" font-size="15.5px">(c)</text>
<text y="11.80" class="ti" x="391.60" font-style="italic" font-size="16px">f</text>
<text y="12.90" class="ti eq" x="400.40">=</text>
<text y="11.80" class="ti" x="411.00" font-size="15px" textLength="40.30" lengthAdjust="spacingAndGlyphs">148Hz</text>
<text x="350.40" y="151.00" class="tk" text-anchor="middle">-40</text>
<text x="380.50" y="151.00" class="tk" text-anchor="middle">-20</text>
<text x="410.60" y="151.00" class="tk" text-anchor="middle">0</text>
<text x="440.70" y="151.00" class="tk" text-anchor="middle">20</text>
<text x="470.80" y="151.00" class="tk" text-anchor="middle">40</text>
<text x="346.10" y="48.40" class="tk" text-anchor="end">20</text>
<text x="346.10" y="75.10" class="tk" text-anchor="end">40</text>
<text x="346.10" y="101.80" class="tk" text-anchor="end">60</text>
<text x="346.10" y="128.50" class="tk" text-anchor="end">80</text>
<linearGradient id="gd" x1="0" x2="1" y1="0" y2="0"><stop offset="0.0042" stop-color="#141414"/><stop offset="0.0125" stop-color="#161616"/><stop offset="0.0208" stop-color="#181818"/><stop offset="0.0291" stop-color="#1a1a1a"/><stop offset="0.0374" stop-color="#1b1b1b"/><stop offset="0.0457" stop-color="#1d1d1d"/><stop offset="0.0540" stop-color="#1f1f1f"/><stop offset="0.0623" stop-color="#232323"/><stop offset="0.0706" stop-color="#2a2a2a"/><stop offset="0.0789" stop-color="#303030"/><stop offset="0.0872" stop-color="#373737"/><stop offset="0.0955" stop-color="#393939"/><stop offset="0.1038" stop-color="#393939"/><stop offset="0.1121" stop-color="#6f6f6f"/><stop offset="0.1204" stop-color="#9f9f9f"/><stop offset="0.1287" stop-color="#9f9f9f"/><stop offset="0.1370" stop-color="#9f9f9f"/><stop offset="0.1453" stop-color="#9c9c9c"/><stop offset="0.1537" stop-color="#959595"/><stop offset="0.1620" stop-color="#8f8f8f"/><stop offset="0.1703" stop-color="#888888"/><stop offset="0.1786" stop-color="#202020"/><stop offset="0.1869" stop-color="#232323"/><stop offset="0.1952" stop-color="#262626"/><stop offset="0.2035" stop-color="#8d8d8d"/><stop offset="0.2118" stop-color="#8f8f8f"/><stop offset="0.2201" stop-color="#919191"/><stop offset="0.2284" stop-color="#969696"/><stop offset="0.2367" stop-color="#9e9e9e"/><stop offset="0.2450" stop-color="#a6a6a6"/><stop offset="0.2533" stop-color="#a7a7a7"/><stop offset="0.2616" stop-color="#a9a9a9"/><stop offset="0.2699" stop-color="#ababab"/><stop offset="0.2782" stop-color="#bdbdbd"/><stop offset="0.2865" stop-color="#f2f2f2"/><stop offset="0.2949" stop-color="#c2c2c2"/><stop offset="0.3032" stop-color="#ababab"/><stop offset="0.3115" stop-color="#aaaaaa"/><stop offset="0.3198" stop-color="#a8a8a8"/><stop offset="0.3281" stop-color="#a6a6a6"/><stop offset="0.3364" stop-color="#c3c3c3"/><stop offset="0.3447" stop-color="#d3d3d3"/><stop offset="0.3530" stop-color="#e3e3e3"/><stop offset="0.3613" stop-color="#f6f6f6"/><stop offset="0.3696" stop-color="#f6f6f6"/><stop offset="0.3779" stop-color="#f6f6f6"/><stop offset="0.3862" stop-color="#f6f6f6"/><stop offset="0.3945" stop-color="#e3e3e3"/><stop offset="0.4028" stop-color="#e0e0e0"/><stop offset="0.4111" stop-color="#dddddd"/><stop offset="0.4194" stop-color="#c7c7c7"/><stop offset="0.4277" stop-color="#838383"/><stop offset="0.4360" stop-color="#323232"/><stop offset="0.4444" stop-color="#2f2f2f"/><stop offset="0.4527" stop-color="#2d2d2d"/><stop offset="0.4610" stop-color="#2b2b2b"/><stop offset="0.4693" stop-color="#282828"/><stop offset="0.4776" stop-color="#272727"/><stop offset="0.4859" stop-color="#2a2a2a"/><stop offset="0.4942" stop-color="#2e2e2e"/><stop offset="0.5025" stop-color="#323232"/><stop offset="0.5108" stop-color="#363636"/><stop offset="0.5191" stop-color="#393939"/><stop offset="0.5274" stop-color="#8c8c8c"/><stop offset="0.5357" stop-color="#a6a6a6"/><stop offset="0.5440" stop-color="#c3c3c3"/><stop offset="0.5523" stop-color="#cdcdcd"/><stop offset="0.5606" stop-color="#d7d7d7"/><stop offset="0.5689" stop-color="#e1e1e1"/><stop offset="0.5772" stop-color="#f6f6f6"/><stop offset="0.5855" stop-color="#f6f6f6"/><stop offset="0.5939" stop-color="#f6f6f6"/><stop offset="0.6022" stop-color="#f6f6f6"/><stop offset="0.6105" stop-color="#dadada"/><stop offset="0.6188" stop-color="#d7d7d7"/><stop offset="0.6271" stop-color="#d4d4d4"/><stop offset="0.6354" stop-color="#9f9f9f"/><stop offset="0.6437" stop-color="#9f9f9f"/><stop offset="0.6520" stop-color="#c6c6c6"/><stop offset="0.6603" stop-color="#dfdfdf"/><stop offset="0.6686" stop-color="#e2e2e2"/><stop offset="0.6769" stop-color="#f6f6f6"/><stop offset="0.6852" stop-color="#f6f6f6"/><stop offset="0.6935" stop-color="#f6f6f6"/><stop offset="0.7018" stop-color="#bbbbbb"/><stop offset="0.7101" stop-color="#b4b4b4"/><stop offset="0.7184" stop-color="#afafaf"/><stop offset="0.7267" stop-color="#999999"/><stop offset="0.7350" stop-color="#828282"/><stop offset="0.7434" stop-color="#7a7a7a"/><stop offset="0.7517" stop-color="#4f4f4f"/><stop offset="0.7600" stop-color="#2d2d2d"/><stop offset="0.7683" stop-color="#2d2d2d"/><stop offset="0.7766" stop-color="#2d2d2d"/><stop offset="0.7849" stop-color="#2d2d2d"/><stop offset="0.7932" stop-color="#2d2d2d"/><stop offset="0.8015" stop-color="#2d2d2d"/><stop offset="0.8098" stop-color="#9f9f9f"/><stop offset="0.8181" stop-color="#9f9f9f"/><stop offset="0.8264" stop-color="#9f9f9f"/><stop offset="0.8347" stop-color="#999999"/><stop offset="0.8430" stop-color="#7e7e7e"/><stop offset="0.8513" stop-color="#5b5b5b"/><stop offset="0.8596" stop-color="#454545"/><stop offset="0.8679" stop-color="#3d3d3d"/><stop offset="0.8762" stop-color="#373737"/><stop offset="0.8846" stop-color="#343434"/><stop offset="0.8929" stop-color="#313131"/><stop offset="0.9012" stop-color="#2e2e2e"/><stop offset="0.9095" stop-color="#0d0d0d"/><stop offset="0.9178" stop-color="#0c0c0c"/><stop offset="0.9261" stop-color="#0c0c0c"/><stop offset="0.9344" stop-color="#0b0b0b"/><stop offset="0.9427" stop-color="#0a0a0a"/><stop offset="0.9510" stop-color="#0a0a0a"/><stop offset="0.9593" stop-color="#090909"/><stop offset="0.9676" stop-color="#090909"/><stop offset="0.9759" stop-color="#080808"/><stop offset="0.9842" stop-color="#070707"/><stop offset="0.9925" stop-color="#070707"/><stop offset="1.0000" stop-color="#060606"/></linearGradient>
<rect x="35.60" y="199.00" width="120.40" height="117.50" fill="url(#gd)" filter="url(#tex)"/>
<g clip-path="url(#cd)">
<rect x="71.50" y="199.00" width="4.00" height="117.50" fill="#ffffff" fill-opacity="0.30"/>
<rect x="111.30" y="199.00" width="2.60" height="117.50" fill="#ffffff" fill-opacity="0.35"/>
<rect x="56.70" y="199.00" width="2.40" height="117.50" fill="#ffffff" fill-opacity="0.30"/>
<path d="M45.0 201.3 L45.0 203.3 L45.1 205.3 L45.1 207.3" fill="none" stroke="#161616" stroke-width="1.8"/>
<path d="M45.1 213.1 L45.1 215.1 L44.9 217.1 L44.8 219.1 L44.8 221.1" fill="none" stroke="#161616" stroke-width="1.8"/>
<path d="M44.3 230.7 L44.3 232.7 L44.3 234.7 L44.3 236.7" fill="none" stroke="#161616" stroke-width="1.8"/>
<path d="M44.8 243.7 L44.9 245.7 L45.1 247.7 L45.1 249.7 L45.0 251.7" fill="none" stroke="#161616" stroke-width="1.8"/>
<path d="M44.9 257.8 L44.9 259.8 L45.1 261.8" fill="none" stroke="#161616" stroke-width="1.8"/>
<path d="M44.7 290.6 L44.6 292.6" fill="none" stroke="#161616" stroke-width="1.8"/>
<path d="M44.8 302.4 L44.9 304.4" fill="none" stroke="#161616" stroke-width="1.8"/>
<path d="M53.9 199.0 L53.7 201.0 L53.7 203.0 L53.6 205.0 L53.4 207.0 L53.4 209.0 L53.5 211.0 L53.5 213.0 L53.4 215.0 L53.4 217.0 L53.4 219.0 L53.2 221.0 L53.1 223.0 L53.2 225.0 L53.3 227.0 L53.3 229.0 L53.6 231.0 L53.8 233.0 L53.8 235.0 L53.8 237.0 L53.8 239.0 L53.7 241.0 L53.5 243.0 L53.5 245.0 L53.5 247.0 L53.5 249.0 L53.5 251.0 L53.6 253.0 L53.4 255.0 L53.3 257.0 L53.3 259.0 L53.2 261.0 L53.1 263.0 L53.2 265.0 L53.4 267.0 L53.5 269.0 L53.6 271.0 L53.8 273.0 L53.9 275.0 L53.7 277.0 L53.7 279.0 L53.7 281.0 L53.5 283.0 L53.5 285.0 L53.6 287.0 L53.6 289.0 L53.5 291.0 L53.5 293.0 L53.4 295.0 L53.2 297.0 L53.1 299.0 L53.2 301.0 L53.2 303.0 L53.2 305.0 L53.5 307.0 L53.7 309.0 L53.7 311.0 L53.7 313.0 L53.8 315.0" fill="none" stroke="#161616" stroke-width="1.8"/>
<path d="M63.7 199.0 L63.7 201.0 L63.7 203.0 L63.6 205.0 L63.5 207.0 L63.6 209.0 L63.7 211.0 L63.8 213.0 L64.0 215.0 L64.2 217.0 L64.2 219.0 L64.1 221.0 L64.1 223.0 L64.0 225.0 L63.7 227.0 L63.7 229.0 L63.7 231.0 L63.7 233.0 L63.7 235.0 L63.7 237.0 L63.7 239.0 L63.6 241.0 L63.5 243.0 L63.6 245.0 L63.5 247.0 L63.6 249.0 L63.8 251.0 L64.0 253.0 L64.1 255.0 L64.2 257.0 L64.2 259.0 L64.1 261.0 L63.9 263.0 L63.9 265.0 L63.8 267.0 L63.7 269.0 L63.7 271.0 L63.8 273.0 L63.7 275.0 L63.6 277.0 L63.7 279.0 L63.6 281.0 L63.4 283.0 L63.5 285.0 L63.7 287.0 L63.7 289.0 L63.9 291.0 L64.1 293.0 L64.2 295.0 L64.1 297.0 L64.1 299.0 L64.0 301.0 L63.8 303.0 L63.7 305.0 L63.8 307.0 L63.8 309.0 L63.7 311.0 L63.8 313.0 L63.8 315.0" fill="none" stroke="#161616" stroke-width="1.8"/>
<path d="M69.8 199.0 L69.8 201.0 L69.7 203.0 L69.6 205.0 L69.8 207.0 L70.2 209.0 L70.3 211.0 L70.6 213.0 L71.0 215.0 L70.9 217.0 L70.6 219.0 L70.5 221.0 L70.3 223.0 L69.9 225.0 L69.7 227.0 L69.9 229.0 L69.9 231.0 L69.8 233.0 L69.9 235.0 L70.0 237.0 L69.7 239.0 L69.5 241.0 L69.7 243.0 L69.8 245.0 L69.8 247.0 L70.3 249.0 L70.7 251.0 L70.8 253.0 L70.8 255.0 L70.9 257.0 L70.6 259.0 L70.1 261.0 L70.0 263.0 L70.0 265.0 L69.8 267.0 L69.8 269.0 L70.1 271.0 L70.0 273.0 L69.7 275.0 L69.7 277.0 L69.7 279.0 L69.5 281.0 L69.5 283.0 L70.0 285.0 L70.2 287.0 L70.4 289.0 L70.8 291.0 L71.0 293.0 L70.7 295.0 L70.5 297.0 L70.4 299.0 L70.1 301.0 L69.9 303.0 L70.0 305.0 L70.1 307.0 L70.0 309.0 L69.9 311.0 L70.0 313.0 L69.7 315.0" fill="none" stroke="#5c0a16" stroke-width="2.4"/>
<path d="M80.8 199.0 L80.7 201.0 L80.8 203.0 L80.8 205.0 L80.6 207.0 L80.6 209.0 L80.7 211.0 L80.7 213.0 L80.8 215.0 L81.1 217.0 L81.3 219.0 L81.3 221.0 L81.3 223.0 L81.3 225.0 L81.1 227.0 L80.9 229.0 L80.8 231.0 L80.8 233.0 L80.7 235.0 L80.8 237.0 L80.9 239.0 L80.8 241.0 L80.6 243.0 L80.6 245.0 L80.6 247.0 L80.5 249.0 L80.6 251.0 L80.9 253.0 L81.0 255.0 L81.1 257.0 L81.4 259.0 L81.4 261.0 L81.2 263.0 L81.1 265.0 L81.0 267.0 L80.9 269.0 L80.8 271.0 L80.9 273.0 L80.9 275.0 L80.8 277.0 L80.8 279.0 L80.8 281.0 L80.6 283.0 L80.5 285.0 L80.5 287.0 L80.7 289.0 L80.7 291.0 L80.9 293.0 L81.2 295.0 L81.3 297.0 L81.3 299.0 L81.3 301.0 L81.2 303.0 L81.0 305.0 L80.9 307.0 L80.9 309.0 L80.9 311.0 L80.8 313.0 L80.9 315.0" fill="none" stroke="#5c0a16" stroke-width="2.4"/>
<path d="M86.7 199.0 L86.7 201.0 L86.5 203.0 L86.7 205.0 L86.8 207.0 L86.5 209.0 L86.3 211.0 L86.4 213.0 L86.3 215.0 L86.2 217.0 L86.7 219.0 L87.2 221.0 L87.4 223.0 L87.6 225.0 L87.9 227.0 L87.7 229.0 L87.3 231.0 L87.1 233.0 L87.0 235.0 L86.7 237.0 L86.6 239.0 L86.9 241.0 L86.8 243.0 L86.6 245.0 L86.6 247.0 L86.5 249.0 L86.1 251.0 L86.0 253.0 L86.4 255.0 L86.6 257.0 L86.8 259.0 L87.4 261.0 L87.8 263.0 L87.7 265.0 L87.6 267.0 L87.6 269.0 L87.2 271.0 L86.8 273.0 L86.9 275.0 L87.0 277.0 L86.8 279.0 L86.8 281.0 L86.9 283.0 L86.7 285.0 L86.2 287.0 L86.2 289.0 L86.2 291.0 L86.1 293.0 L86.4 295.0 L87.0 297.0 L87.3 299.0 L87.4 301.0 L87.7 303.0 L87.8 305.0 L87.4 307.0 L87.1 309.0 L87.2 311.0 L87.0 313.0 L86.8 315.0" fill="none" stroke="#141414" stroke-width="2" stroke-dasharray="2 2.2"/>
<rect x="89.5" y="240.9" width="1.6" height="1.6" fill="#141414"/>
<rect x="89.3" y="212.1" width="1.6" height="1.6" fill="#141414"/>
<rect x="90.4" y="235.2" width="1.6" height="1.6" fill="#141414"/>
<rect x="91.0" y="209.6" width="1.6" height="1.6" fill="#141414"/>
<rect x="91.3" y="278.2" width="1.6" height="1.6" fill="#141414"/>
<rect x="91.4" y="299.7" width="1.6" height="1.6" fill="#141414"/>
<rect x="91.3" y="265.9" width="1.6" height="1.6" fill="#141414"/>
<rect x="88.6" y="283.7" width="1.6" height="1.6" fill="#141414"/>
<rect x="89.1" y="236.6" width="1.6" height="1.6" fill="#141414"/>
<rect x="90.6" y="260.4" width="1.6" height="1.6" fill="#141414"/>
<rect x="89.8" y="304.2" width="1.6" height="1.6" fill="#141414"/>
<rect x="90.4" y="241.0" width="1.6" height="1.6" fill="#141414"/>
<rect x="89.4" y="296.0" width="1.6" height="1.6" fill="#141414"/>
<rect x="90.0" y="287.6" width="1.6" height="1.6" fill="#141414"/>
<rect x="89.7" y="225.7" width="1.6" height="1.6" fill="#141414"/>
<rect x="90.2" y="291.3" width="1.6" height="1.6" fill="#141414"/>
<rect x="89.1" y="288.6" width="1.6" height="1.6" fill="#141414"/>
<rect x="91.4" y="290.1" width="1.6" height="1.6" fill="#141414"/>
<rect x="91.1" y="205.7" width="1.6" height="1.6" fill="#141414"/>
<rect x="90.5" y="296.1" width="1.6" height="1.6" fill="#141414"/>
<rect x="88.7" y="233.6" width="1.6" height="1.6" fill="#141414"/>
<rect x="89.4" y="260.6" width="1.6" height="1.6" fill="#141414"/>
<rect x="89.9" y="254.9" width="1.6" height="1.6" fill="#141414"/>
<rect x="90.9" y="205.1" width="1.6" height="1.6" fill="#141414"/>
<rect x="88.8" y="218.3" width="1.6" height="1.6" fill="#141414"/>
<rect x="89.0" y="212.1" width="1.6" height="1.6" fill="#141414"/>
<rect x="91.5" y="295.2" width="1.6" height="1.6" fill="#141414"/>
<rect x="88.9" y="258.0" width="1.6" height="1.6" fill="#141414"/>
<rect x="89.5" y="238.1" width="1.6" height="1.6" fill="#141414"/>
<rect x="89.7" y="273.3" width="1.6" height="1.6" fill="#141414"/>
<rect x="90.4" y="243.0" width="1.6" height="1.6" fill="#141414"/>
<rect x="89.2" y="239.6" width="1.6" height="1.6" fill="#141414"/>
<rect x="89.0" y="263.6" width="1.6" height="1.6" fill="#141414"/>
<rect x="90.7" y="245.1" width="1.6" height="1.6" fill="#141414"/>
<rect x="88.8" y="223.8" width="1.6" height="1.6" fill="#141414"/>
<path d="M99.9 199.0 L99.8 201.0 L99.5 203.0 L99.1 205.0 L99.3 207.0 L99.7 209.0 L99.4 211.0 L98.9 213.0 L99.0 215.0 L98.6 217.0 L98.1 219.0 L98.4 221.0 L99.3 223.0 L99.6 225.0 L100.2 227.0 L101.2 229.0 L101.5 231.0 L101.0 233.0 L100.8 235.0 L100.6 237.0 L99.8 239.0 L99.4 241.0 L99.7 243.0 L99.7 245.0 L99.4 247.0 L99.5 249.0 L99.5 251.0 L98.8 253.0 L98.2 255.0 L98.4 257.0 L98.4 259.0 L98.5 261.0 L99.4 263.0 L100.5 265.0 L100.8 267.0 L101.0 269.0 L101.3 271.0 L101.0 273.0 L100.1 275.0 L100.0 277.0 L100.0 279.0 L99.6 281.0 L99.6 283.0 L100.0 285.0 L99.8 287.0 L99.1 289.0 L98.9 291.0 L98.7 293.0 L98.0 295.0 L98.0 297.0 L98.8 299.0 L99.3 301.0 L99.7 303.0 L100.7 305.0 L101.3 307.0 L100.9 309.0 L100.6 311.0 L100.6 313.0 L100.2 315.0" fill="none" stroke="#161616" stroke-width="1.8"/>
<path d="M106.4 199.0 L106.4 201.0 L106.4 203.0 L106.5 205.0 L106.4 207.0 L106.2 209.0 L106.3 211.0 L106.3 213.0 L106.3 215.0 L106.5 217.0 L106.7 219.0 L106.8 221.0 L106.8 223.0 L106.9 225.0 L106.8 227.0 L106.6 229.0 L106.5 231.0 L106.5 233.0 L106.4 235.0 L106.3 237.0 L106.5 239.0 L106.5 241.0 L106.4 243.0 L106.3 245.0 L106.3 247.0 L106.2 249.0 L106.1 251.0 L106.3 253.0 L106.5 255.0 L106.6 257.0 L106.7 259.0 L106.9 261.0 L106.9 263.0 L106.7 265.0 L106.7 267.0 L106.6 269.0 L106.4 271.0 L106.4 273.0 L106.5 275.0 L106.5 277.0 L106.4 279.0 L106.5 281.0 L106.4 283.0 L106.2 285.0 L106.2 287.0 L106.2 289.0 L106.2 291.0 L106.3 293.0 L106.6 295.0 L106.8 297.0 L106.8 299.0 L106.8 301.0 L106.9 303.0 L106.7 305.0 L106.5 307.0 L106.6 309.0 L106.5 311.0 L106.5 313.0 L106.5 315.0" fill="none" stroke="#5c0a16" stroke-width="2.4"/>
<path d="M118.0 199.0 L118.1 201.0 L118.1 203.0 L117.9 205.0 L117.9 207.0 L118.1 209.0 L118.2 211.0 L118.3 213.0 L118.5 215.0 L118.6 217.0 L118.6 219.0 L118.5 221.0 L118.4 223.0 L118.2 225.0 L118.1 227.0 L118.1 229.0 L118.1 231.0 L118.1 233.0 L118.1 235.0 L118.2 237.0 L118.1 239.0 L117.9 241.0 L118.0 243.0 L118.0 245.0 L118.0 247.0 L118.1 249.0 L118.4 251.0 L118.5 253.0 L118.5 255.0 L118.6 257.0 L118.6 259.0 L118.4 261.0 L118.2 263.0 L118.2 265.0 L118.1 267.0 L118.0 269.0 L118.1 271.0 L118.2 273.0 L118.1 275.0 L118.0 277.0 L118.0 279.0 L117.9 281.0 L117.8 283.0 L118.0 285.0 L118.1 287.0 L118.2 289.0 L118.4 291.0 L118.6 293.0 L118.6 295.0 L118.5 297.0 L118.4 299.0 L118.4 301.0 L118.2 303.0 L118.1 305.0 L118.2 307.0 L118.2 309.0 L118.1 311.0 L118.2 313.0 L118.1 315.0" fill="none" stroke="#5c0a16" stroke-width="2.4"/>
<path d="M124.5 199.0 L124.4 201.0 L124.1 203.0 L123.7 205.0 L124.0 207.0 L124.3 209.0 L123.9 211.0 L123.5 213.0 L123.6 215.0 L123.2 217.0 L122.7 219.0 L123.1 221.0 L123.9 223.0 L124.3 225.0 L124.9 227.0 L125.9 229.0 L126.0 231.0 L125.5 233.0 L125.3 235.0 L125.1 237.0 L124.3 239.0 L123.9 241.0 L124.3 243.0 L124.3 245.0 L124.0 247.0 L124.1 249.0 L124.1 251.0 L123.3 253.0 L122.8 255.0 L123.0 257.0 L123.1 259.0 L123.2 261.0 L124.2 263.0 L125.2 265.0 L125.4 267.0 L125.6 269.0 L125.9 271.0 L125.5 273.0 L124.7 275.0 L124.6 277.0 L124.6 279.0 L124.2 281.0 L124.2 283.0 L124.6 285.0 L124.4 287.0 L123.7 289.0 L123.5 291.0 L123.2 293.0 L122.6 295.0 L122.6 297.0 L123.4 299.0 L124.0 301.0 L124.4 303.0 L125.4 305.0 L125.9 307.0 L125.5 309.0 L125.2 311.0 L125.2 313.0 L124.7 315.0" fill="none" stroke="#161616" stroke-width="1.8"/>
<path d="M135.9 199.0 L135.9 201.0 L135.9 203.0 L135.8 205.0 L135.8 207.0 L136.0 209.0 L136.2 211.0 L136.3 213.0 L136.5 215.0 L136.6 217.0 L136.5 219.0 L136.4 221.0 L136.3 223.0 L136.1 225.0 L135.9 227.0 L135.9 229.0 L136.0 231.0 L135.9 233.0 L136.0 235.0 L136.0 237.0 L135.9 239.0 L135.8 241.0 L135.8 243.0 L135.9 245.0 L135.9 247.0 L136.1 249.0 L136.4 251.0 L136.5 253.0 L136.5 255.0 L136.6 257.0 L136.5 259.0 L136.2 261.0 L136.1 263.0 L136.1 265.0 L136.0 267.0 L135.9 269.0 L136.0 271.0 L136.1 273.0 L135.9 275.0 L135.9 277.0 L135.9 279.0 L135.7 281.0 L135.7 283.0 L135.9 285.0 L136.1 287.0 L136.2 289.0 L136.4 291.0 L136.6 293.0 L136.5 295.0 L136.4 297.0 L136.4 299.0 L136.2 301.0 L136.0 303.0 L136.0 305.0 L136.1 307.0 L136.1 309.0 L136.0 311.0 L136.1 313.0 L136.0 315.0" fill="none" stroke="#161616" stroke-width="1.8"/>
<path d="M142.2 199.0 L141.9 201.0 L142.1 203.0 L142.3 205.0 L141.8 207.0 L141.3 209.0 L141.6 211.0 L141.8 213.0 L141.8 215.0 L142.6 217.0 L143.6 219.0 L143.8 221.0 L143.8 223.0 L144.1 225.0 L143.7 227.0 L142.8 229.0 L142.4 231.0 L142.4 233.0 L142.0 235.0 L141.9 237.0 L142.4 239.0 L142.4 241.0 L141.9 243.0 L141.7 245.0 L141.7 247.0 L141.3 249.0 L141.2 251.0 L142.0 253.0 L142.6 255.0 L142.9 257.0 L143.7 259.0 L144.2 261.0 L143.9 263.0 L143.4 265.0 L143.2 267.0 L142.8 269.0 L142.1 271.0 L142.2 273.0 L142.6 275.0 L142.3 277.0 L142.1 279.0 L142.3 281.0 L141.9 283.0 L141.2 285.0 L141.2 287.0 L141.5 289.0 L141.5 291.0 L142.0 293.0 L143.1 295.0 L143.7 297.0 L143.6 299.0 L143.8 301.0 L143.8 303.0 L143.1 305.0 L142.6 307.0 L142.7 309.0 L142.6 311.0 L142.3 313.0 L142.5 315.0" fill="none" stroke="#141414" stroke-width="1.4" stroke-dasharray="4 3"/>
<path d="M145.8 289.8 q-0.3 1.6 0.8 3.2" fill="none" stroke="#161616" stroke-width="1.3"/>
<path d="M148.9 293.2 q0.8 1.3 0.1 2.6" fill="none" stroke="#161616" stroke-width="1.3"/>
<path d="M141.5 291.9 q1.7 1.5 1.2 3.1" fill="none" stroke="#161616" stroke-width="1.3"/>
<path d="M145.1 310.2 q-0.1 2.0 -1.1 4.0" fill="none" stroke="#161616" stroke-width="1.3"/>
<path d="M142.1 306.9 q1.2 1.8 1.5 3.7" fill="none" stroke="#161616" stroke-width="1.3"/>
<path d="M148.6 303.8 q0.4 1.7 -1.4 3.4" fill="none" stroke="#161616" stroke-width="1.3"/>
<path d="M140.7 280.9 q-1.6 2.0 -1.7 3.9" fill="none" stroke="#161616" stroke-width="1.3"/>
<path d="M141.8 309.5 q1.4 1.2 -1.1 2.4" fill="none" stroke="#161616" stroke-width="1.3"/>
<path d="M142.1 308.1 q1.8 1.8 1.3 3.7" fill="none" stroke="#161616" stroke-width="1.3"/>
<path d="M147.5 306.3 q0.0 1.0 0.6 2.1" fill="none" stroke="#161616" stroke-width="1.3"/>
</g>
<rect x="35.60" y="199.00" width="120.40" height="117.50" fill="none" stroke="#ababab" stroke-width="1.1"/>
<line x1="35.60" x2="37.10" y1="227.00" y2="227.00" stroke="#8a8a8a" stroke-width="0.8"/>
<line x1="35.60" x2="37.10" y1="253.70" y2="253.70" stroke="#8a8a8a" stroke-width="0.8"/>
<line x1="35.60" x2="37.10" y1="280.40" y2="280.40" stroke="#8a8a8a" stroke-width="0.8"/>
<line x1="35.60" x2="37.10" y1="307.10" y2="307.10" stroke="#8a8a8a" stroke-width="0.8"/>
<line x1="65.70" x2="65.70" y1="316.50" y2="315.00" stroke="#8a8a8a" stroke-width="0.8"/>
<line x1="95.80" x2="95.80" y1="316.50" y2="315.00" stroke="#8a8a8a" stroke-width="0.8"/>
<line x1="125.90" x2="125.90" y1="316.50" y2="315.00" stroke="#8a8a8a" stroke-width="0.8"/>
<text y="194.80" class="ti" x="53.60" letter-spacing="0.3" font-size="15.5px">(d)</text>
<text y="194.80" class="ti" x="76.80" font-style="italic" font-size="16px">f</text>
<text y="195.90" class="ti eq" x="85.60">=</text>
<text y="194.80" class="ti" x="96.20" font-size="15px" textLength="40.30" lengthAdjust="spacingAndGlyphs">166Hz</text>
<text x="35.60" y="334.00" class="tk" text-anchor="middle">-40</text>
<text x="65.70" y="334.00" class="tk" text-anchor="middle">-20</text>
<text x="95.80" y="334.00" class="tk" text-anchor="middle">0</text>
<text x="125.90" y="334.00" class="tk" text-anchor="middle">20</text>
<text x="156.00" y="334.00" class="tk" text-anchor="middle">40</text>
<text x="31.30" y="231.40" class="tk" text-anchor="end">20</text>
<text x="31.30" y="258.10" class="tk" text-anchor="end">40</text>
<text x="31.30" y="284.80" class="tk" text-anchor="end">60</text>
<text x="31.30" y="311.50" class="tk" text-anchor="end">80</text>
<linearGradient id="ge" x1="0" x2="1" y1="0" y2="0"><stop offset="0.0042" stop-color="#000000"/><stop offset="0.0125" stop-color="#010101"/><stop offset="0.0208" stop-color="#010101"/><stop offset="0.0291" stop-color="#020202"/><stop offset="0.0374" stop-color="#030303"/><stop offset="0.0457" stop-color="#030303"/><stop offset="0.0540" stop-color="#040404"/><stop offset="0.0623" stop-color="#040404"/><stop offset="0.0706" stop-color="#050505"/><stop offset="0.0789" stop-color="#060606"/><stop offset="0.0872" stop-color="#060606"/><stop offset="0.0955" stop-color="#171717"/><stop offset="0.1038" stop-color="#393939"/><stop offset="0.1121" stop-color="#3b3b3b"/><stop offset="0.1204" stop-color="#3d3d3d"/><stop offset="0.1287" stop-color="#3e3e3e"/><stop offset="0.1370" stop-color="#404040"/><stop offset="0.1453" stop-color="#797979"/><stop offset="0.1537" stop-color="#868686"/><stop offset="0.1620" stop-color="#868686"/><stop offset="0.1703" stop-color="#868686"/><stop offset="0.1786" stop-color="#606060"/><stop offset="0.1869" stop-color="#2d2d2d"/><stop offset="0.1952" stop-color="#2f2f2f"/><stop offset="0.2035" stop-color="#323232"/><stop offset="0.2118" stop-color="#b3b3b3"/><stop offset="0.2201" stop-color="#b7b7b7"/><stop offset="0.2284" stop-color="#bbbbbb"/><stop offset="0.2367" stop-color="#bbbbbb"/><stop offset="0.2450" stop-color="#bbbbbb"/><stop offset="0.2533" stop-color="#bbbbbb"/><stop offset="0.2616" stop-color="#bbbbbb"/><stop offset="0.2699" stop-color="#bbbbbb"/><stop offset="0.2782" stop-color="#bbbbbb"/><stop offset="0.2865" stop-color="#e4e4e4"/><stop offset="0.2949" stop-color="#999999"/><stop offset="0.3032" stop-color="#979797"/><stop offset="0.3115" stop-color="#959595"/><stop offset="0.3198" stop-color="#9b9b9b"/><stop offset="0.3281" stop-color="#dddddd"/><stop offset="0.3364" stop-color="#e5e5e5"/><stop offset="0.3447" stop-color="#e5e5e5"/><stop offset="0.3530" stop-color="#e6e6e6"/><stop offset="0.3613" stop-color="#e6e6e6"/><stop offset="0.3696" stop-color="#e7e7e7"/><stop offset="0.3779" stop-color="#e8e8e8"/><stop offset="0.3862" stop-color="#e8e8e8"/><stop offset="0.3945" stop-color="#e9e9e9"/><stop offset="0.4028" stop-color="#f6f6f6"/><stop offset="0.4111" stop-color="#aeaeae"/><stop offset="0.4194" stop-color="#a0a0a0"/><stop offset="0.4277" stop-color="#979797"/><stop offset="0.4360" stop-color="#939393"/><stop offset="0.4444" stop-color="#8e8e8e"/><stop offset="0.4527" stop-color="#737373"/><stop offset="0.4610" stop-color="#646464"/><stop offset="0.4693" stop-color="#5f5f5f"/><stop offset="0.4776" stop-color="#5b5b5b"/><stop offset="0.4859" stop-color="#565656"/><stop offset="0.4942" stop-color="#525252"/><stop offset="0.5025" stop-color="#4d4d4d"/><stop offset="0.5108" stop-color="#484848"/><stop offset="0.5191" stop-color="#808080"/><stop offset="0.5274" stop-color="#a1a1a1"/><stop offset="0.5357" stop-color="#b1b1b1"/><stop offset="0.5440" stop-color="#c5c5c5"/><stop offset="0.5523" stop-color="#d7d7d7"/><stop offset="0.5606" stop-color="#e7e7e7"/><stop offset="0.5689" stop-color="#fbfbfb"/><stop offset="0.5772" stop-color="#f9f9f9"/><stop offset="0.5855" stop-color="#f7f7f7"/><stop offset="0.5939" stop-color="#e2e2e2"/><stop offset="0.6022" stop-color="#dfdfdf"/><stop offset="0.6105" stop-color="#cbcbcb"/><stop offset="0.6188" stop-color="#9f9f9f"/><stop offset="0.6271" stop-color="#9f9f9f"/><stop offset="0.6354" stop-color="#9f9f9f"/><stop offset="0.6437" stop-color="#9f9f9f"/><stop offset="0.6520" stop-color="#e7e7e7"/><stop offset="0.6603" stop-color="#ececec"/><stop offset="0.6686" stop-color="#ededed"/><stop offset="0.6769" stop-color="#ededed"/><stop offset="0.6852" stop-color="#ededed"/><stop offset="0.6935" stop-color="#e8e8e8"/><stop offset="0.7018" stop-color="#9c9c9c"/><stop offset="0.7101" stop-color="#333333"/><stop offset="0.7184" stop-color="#333333"/><stop offset="0.7267" stop-color="#333333"/><stop offset="0.7350" stop-color="#333333"/><stop offset="0.7434" stop-color="#333333"/><stop offset="0.7517" stop-color="#333333"/><stop offset="0.7600" stop-color="#333333"/><stop offset="0.7683" stop-color="#333333"/><stop offset="0.7766" stop-color="#333333"/><stop offset="0.7849" stop-color="#363636"/><stop offset="0.7932" stop-color="#3d3d3d"/><stop offset="0.8015" stop-color="#434343"/><stop offset="0.8098" stop-color="#686868"/><stop offset="0.8181" stop-color="#808080"/><stop offset="0.8264" stop-color="#808080"/><stop offset="0.8347" stop-color="#808080"/><stop offset="0.8430" stop-color="#808080"/><stop offset="0.8513" stop-color="#808080"/><stop offset="0.8596" stop-color="#808080"/><stop offset="0.8679" stop-color="#4f4f4f"/><stop offset="0.8762" stop-color="#333333"/><stop offset="0.8846" stop-color="#323232"/><stop offset="0.8929" stop-color="#323232"/><stop offset="0.9012" stop-color="#323232"/><stop offset="0.9095" stop-color="#313131"/><stop offset="0.9178" stop-color="#313131"/><stop offset="0.9261" stop-color="#303030"/><stop offset="0.9344" stop-color="#303030"/><stop offset="0.9427" stop-color="#2f2f2f"/><stop offset="0.9510" stop-color="#2f2f2f"/><stop offset="0.9593" stop-color="#2f2f2f"/><stop offset="0.9676" stop-color="#2e2e2e"/><stop offset="0.9759" stop-color="#2e2e2e"/><stop offset="0.9842" stop-color="#2d2d2d"/><stop offset="0.9925" stop-color="#2d2d2d"/><stop offset="1.0000" stop-color="#2d2d2d"/></linearGradient>
<rect x="192.40" y="199.00" width="120.40" height="117.50" fill="url(#ge)" filter="url(#tex)"/>
<g clip-path="url(#ce)">
<rect x="227.80" y="199.00" width="3.00" height="117.50" fill="#ffffff" fill-opacity="0.30"/>
<rect x="266.00" y="199.00" width="4.00" height="117.50" fill="#ffffff" fill-opacity="0.35"/>
<path d="M212.2 202.5 L212.2 204.5 L212.1 206.5" fill="none" stroke="#161616" stroke-width="1.8"/>
<path d="M212.0 214.3 L212.0 216.3 L212.0 218.3" fill="none" stroke="#161616" stroke-width="1.8"/>
<path d="M212.5 227.2 L212.5 229.2 L212.6 231.2" fill="none" stroke="#161616" stroke-width="1.8"/>
<path d="M212.1 241.3 L212.2 243.3 L212.2 245.3" fill="none" stroke="#161616" stroke-width="1.8"/>
<path d="M212.3 254.2 L212.4 256.2" fill="none" stroke="#161616" stroke-width="1.8"/>
<path d="M212.8 269.5 L212.9 271.5 L212.9 273.5" fill="none" stroke="#161616" stroke-width="1.8"/>
<path d="M211.9 283.6 L211.7 285.6" fill="none" stroke="#161616" stroke-width="1.8"/>
<path d="M212.5 298.9 L212.4 300.9" fill="none" stroke="#161616" stroke-width="1.8"/>
<path d="M212.4 309.4 L212.3 311.4" fill="none" stroke="#161616" stroke-width="1.8"/>
<path d="M219.1 199.0 L219.0 201.0 L218.9 203.0 L218.9 205.0 L218.7 207.0 L218.6 209.0 L218.7 211.0 L218.7 213.0 L218.6 215.0 L218.7 217.0 L218.7 219.0 L218.5 221.0 L218.4 223.0 L218.4 225.0 L218.4 227.0 L218.4 229.0 L218.6 231.0 L218.9 233.0 L218.9 235.0 L219.0 237.0 L219.1 239.0 L219.0 241.0 L218.8 243.0 L218.8 245.0 L218.8 247.0 L218.7 249.0 L218.7 251.0 L218.8 253.0 L218.7 255.0 L218.6 257.0 L218.5 259.0 L218.5 261.0 L218.3 263.0 L218.3 265.0 L218.5 267.0 L218.6 269.0 L218.7 271.0 L218.9 273.0 L219.1 275.0 L219.0 277.0 L218.9 279.0 L218.9 281.0 L218.8 283.0 L218.7 285.0 L218.8 287.0 L218.8 289.0 L218.8 291.0 L218.7 293.0 L218.7 295.0 L218.6 297.0 L218.4 299.0 L218.3 301.0 L218.4 303.0 L218.4 305.0 L218.5 307.0 L218.8 309.0 L218.9 311.0 L218.9 313.0 L219.0 315.0" fill="none" stroke="#161616" stroke-width="1.8"/>
<path d="M227.8 199.0 L227.6 201.0 L227.5 203.0 L227.3 205.0 L227.0 207.0 L227.1 209.0 L227.2 211.0 L227.1 213.0 L227.0 215.0 L227.1 217.0 L226.8 219.0 L226.5 221.0 L226.5 223.0 L226.7 225.0 L226.8 227.0 L227.1 229.0 L227.6 231.0 L227.8 233.0 L227.8 235.0 L227.8 237.0 L227.8 239.0 L227.4 241.0 L227.2 243.0 L227.3 245.0 L227.2 247.0 L227.1 249.0 L227.2 251.0 L227.3 253.0 L227.0 255.0 L226.7 257.0 L226.7 259.0 L226.5 261.0 L226.4 263.0 L226.7 265.0 L227.2 267.0 L227.4 269.0 L227.6 271.0 L227.9 273.0 L227.9 275.0 L227.6 277.0 L227.5 279.0 L227.5 281.0 L227.2 283.0 L227.2 285.0 L227.4 287.0 L227.4 289.0 L227.1 291.0 L227.1 293.0 L227.0 295.0 L226.5 297.0 L226.4 299.0 L226.6 301.0 L226.7 303.0 L226.8 305.0 L227.3 307.0 L227.7 309.0 L227.7 311.0 L227.7 313.0 L227.8 315.0" fill="none" stroke="#161616" stroke-width="1.8"/>
<path d="M231.3 199.0 L231.2 201.0 L231.3 203.0 L231.4 205.0 L231.2 207.0 L230.9 209.0 L231.0 211.0 L231.1 213.0 L231.1 215.0 L231.5 217.0 L232.0 219.0 L232.1 221.0 L232.2 223.0 L232.3 225.0 L232.1 227.0 L231.7 229.0 L231.5 231.0 L231.5 233.0 L231.3 235.0 L231.2 237.0 L231.4 239.0 L231.5 241.0 L231.2 243.0 L231.1 245.0 L231.1 247.0 L230.9 249.0 L230.8 251.0 L231.2 253.0 L231.5 255.0 L231.7 257.0 L232.0 259.0 L232.4 261.0 L232.2 263.0 L231.9 265.0 L231.9 267.0 L231.7 269.0 L231.3 271.0 L231.4 273.0 L231.5 275.0 L231.4 277.0 L231.3 279.0 L231.4 281.0 L231.2 283.0 L230.9 285.0 L230.8 287.0 L231.0 289.0 L231.0 291.0 L231.2 293.0 L231.8 295.0 L232.1 297.0 L232.1 299.0 L232.2 301.0 L232.2 303.0 L231.8 305.0 L231.6 307.0 L231.6 309.0 L231.6 311.0 L231.4 313.0 L231.5 315.0" fill="none" stroke="#5c0a16" stroke-width="2.4"/>
<path d="M240.5 199.0 L240.5 201.0 L240.6 203.0 L240.4 205.0 L240.4 207.0 L240.5 209.0 L240.7 211.0 L240.7 213.0 L241.0 215.0 L241.2 217.0 L241.2 219.0 L241.1 221.0 L241.0 223.0 L240.9 225.0 L240.6 227.0 L240.5 229.0 L240.6 231.0 L240.5 233.0 L240.5 235.0 L240.6 237.0 L240.6 239.0 L240.4 241.0 L240.4 243.0 L240.4 245.0 L240.4 247.0 L240.5 249.0 L240.8 251.0 L241.0 253.0 L241.0 255.0 L241.1 257.0 L241.2 259.0 L241.0 261.0 L240.8 263.0 L240.8 265.0 L240.7 267.0 L240.5 269.0 L240.6 271.0 L240.7 273.0 L240.6 275.0 L240.5 277.0 L240.5 279.0 L240.4 281.0 L240.3 283.0 L240.3 285.0 L240.5 287.0 L240.6 289.0 L240.8 291.0 L241.1 293.0 L241.2 295.0 L241.1 297.0 L241.0 299.0 L241.0 301.0 L240.7 303.0 L240.6 305.0 L240.7 307.0 L240.7 309.0 L240.6 311.0 L240.7 313.0 L240.7 315.0" fill="none" stroke="#5c0a16" stroke-width="2.4"/>
<rect x="244.5" y="242.2" width="1.6" height="1.6" fill="#141414"/>
<rect x="244.5" y="240.2" width="1.6" height="1.6" fill="#141414"/>
<rect x="244.6" y="208.8" width="1.6" height="1.6" fill="#141414"/>
<rect x="244.9" y="313.3" width="1.6" height="1.6" fill="#141414"/>
<rect x="244.6" y="286.8" width="1.6" height="1.6" fill="#141414"/>
<rect x="243.7" y="280.2" width="1.6" height="1.6" fill="#141414"/>
<rect x="245.8" y="278.2" width="1.6" height="1.6" fill="#141414"/>
<rect x="245.0" y="255.8" width="1.6" height="1.6" fill="#141414"/>
<rect x="245.4" y="304.4" width="1.6" height="1.6" fill="#141414"/>
<rect x="243.6" y="210.3" width="1.6" height="1.6" fill="#141414"/>
<rect x="245.8" y="306.7" width="1.6" height="1.6" fill="#141414"/>
<rect x="245.0" y="251.1" width="1.6" height="1.6" fill="#141414"/>
<rect x="245.7" y="220.9" width="1.6" height="1.6" fill="#141414"/>
<rect x="244.1" y="222.4" width="1.6" height="1.6" fill="#141414"/>
<rect x="245.2" y="236.0" width="1.6" height="1.6" fill="#141414"/>
<rect x="243.9" y="280.2" width="1.6" height="1.6" fill="#141414"/>
<rect x="246.5" y="233.8" width="1.6" height="1.6" fill="#141414"/>
<rect x="245.6" y="247.6" width="1.6" height="1.6" fill="#141414"/>
<rect x="246.2" y="267.7" width="1.6" height="1.6" fill="#141414"/>
<rect x="244.1" y="224.6" width="1.6" height="1.6" fill="#141414"/>
<rect x="243.2" y="255.3" width="1.6" height="1.6" fill="#141414"/>
<rect x="244.5" y="219.2" width="1.6" height="1.6" fill="#141414"/>
<rect x="244.4" y="236.8" width="1.6" height="1.6" fill="#141414"/>
<rect x="245.9" y="215.9" width="1.6" height="1.6" fill="#141414"/>
<rect x="246.7" y="255.4" width="1.6" height="1.6" fill="#141414"/>
<rect x="245.3" y="254.0" width="1.6" height="1.6" fill="#141414"/>
<rect x="246.1" y="295.5" width="1.6" height="1.6" fill="#141414"/>
<rect x="245.1" y="255.6" width="1.6" height="1.6" fill="#141414"/>
<rect x="245.7" y="299.7" width="1.6" height="1.6" fill="#141414"/>
<rect x="244.5" y="285.2" width="1.6" height="1.6" fill="#141414"/>
<rect x="246.6" y="253.9" width="1.6" height="1.6" fill="#141414"/>
<rect x="243.9" y="226.6" width="1.6" height="1.6" fill="#141414"/>
<rect x="245.7" y="278.4" width="1.6" height="1.6" fill="#141414"/>
<rect x="246.6" y="299.3" width="1.6" height="1.6" fill="#141414"/>
<rect x="244.0" y="221.3" width="1.6" height="1.6" fill="#141414"/>
<rect x="244.0" y="221.0" width="1.6" height="1.6" fill="#141414"/>
<rect x="245.6" y="299.9" width="1.6" height="1.6" fill="#141414"/>
<rect x="246.3" y="229.0" width="1.6" height="1.6" fill="#141414"/>
<rect x="246.2" y="235.8" width="1.6" height="1.6" fill="#141414"/>
<path d="M256.0 199.0 L256.0 201.0 L255.7 203.0 L255.5 205.0 L255.9 207.0 L256.0 209.0 L255.4 211.0 L255.2 213.0 L255.2 215.0 L254.8 217.0 L254.6 219.0 L255.4 221.0 L256.2 223.0 L256.5 225.0 L257.3 227.0 L258.0 229.0 L257.6 231.0 L257.1 233.0 L256.9 235.0 L256.5 237.0 L255.7 239.0 L255.8 241.0 L256.2 243.0 L256.0 245.0 L255.7 247.0 L255.9 249.0 L255.5 251.0 L254.7 253.0 L254.6 255.0 L255.0 257.0 L255.0 259.0 L255.5 261.0 L256.7 263.0 L257.4 265.0 L257.4 267.0 L257.5 269.0 L257.6 271.0 L256.8 273.0 L256.2 275.0 L256.3 277.0 L256.2 279.0 L255.9 281.0 L256.1 283.0 L256.4 285.0 L255.8 287.0 L255.2 289.0 L255.1 291.0 L254.7 293.0 L254.3 295.0 L254.8 297.0 L255.8 299.0 L256.2 301.0 L256.8 303.0 L257.6 305.0 L257.7 307.0 L257.1 309.0 L256.9 311.0 L256.8 313.0 L256.2 315.0" fill="none" stroke="#161616" stroke-width="1.8"/>
<path d="M261.8 199.0 L261.8 201.0 L261.8 203.0 L261.7 205.0 L261.6 207.0 L261.7 209.0 L261.8 211.0 L261.9 213.0 L262.0 215.0 L262.3 217.0 L262.3 219.0 L262.2 221.0 L262.2 223.0 L262.1 225.0 L261.9 227.0 L261.8 229.0 L261.8 231.0 L261.8 233.0 L261.7 235.0 L261.8 237.0 L261.9 239.0 L261.7 241.0 L261.6 243.0 L261.7 245.0 L261.6 247.0 L261.7 249.0 L261.9 251.0 L262.1 253.0 L262.1 255.0 L262.2 257.0 L262.3 259.0 L262.2 261.0 L262.0 263.0 L262.0 265.0 L261.9 267.0 L261.8 269.0 L261.8 271.0 L261.9 273.0 L261.9 275.0 L261.8 277.0 L261.8 279.0 L261.7 281.0 L261.6 283.0 L261.6 285.0 L261.7 287.0 L261.8 289.0 L261.9 291.0 L262.2 293.0 L262.3 295.0 L262.2 297.0 L262.2 299.0 L262.2 301.0 L262.0 303.0 L261.8 305.0 L261.9 307.0 L261.9 309.0 L261.8 311.0 L261.9 313.0 L261.9 315.0" fill="none" stroke="#5c0a16" stroke-width="2.4"/>
<path d="M271.4 199.0 L271.5 201.0 L271.4 203.0 L271.4 205.0 L271.4 207.0 L271.2 209.0 L271.2 211.0 L271.2 213.0 L271.2 215.0 L271.2 217.0 L271.2 219.0 L271.2 221.0 L271.0 223.0 L271.0 225.0 L271.0 227.0 L270.9 229.0 L270.9 231.0 L271.1 233.0 L271.3 235.0 L271.3 237.0 L271.4 239.0 L271.5 241.0 L271.4 243.0 L271.3 245.0 L271.3 247.0 L271.3 249.0 L271.2 251.0 L271.2 253.0 L271.3 255.0 L271.2 257.0 L271.1 259.0 L271.1 261.0 L271.0 263.0 L270.9 265.0 L270.9 267.0 L271.0 269.0 L271.0 271.0 L271.1 273.0 L271.3 275.0 L271.4 277.0 L271.4 279.0 L271.4 281.0 L271.4 283.0 L271.3 285.0 L271.2 287.0 L271.3 289.0 L271.3 291.0 L271.2 293.0 L271.3 295.0 L271.3 297.0 L271.1 299.0 L271.0 301.0 L271.0 303.0 L270.9 305.0 L270.9 307.0 L271.0 309.0 L271.2 311.0 L271.3 313.0 L271.3 315.0" fill="none" stroke="#5c0a16" stroke-width="2.4"/>
<path d="M277.2 199.0 L277.3 201.0 L277.2 203.0 L277.2 205.0 L277.0 207.0 L276.4 209.0 L276.2 211.0 L276.4 213.0 L276.3 215.0 L276.2 217.0 L276.4 219.0 L276.3 221.0 L275.7 223.0 L275.4 225.0 L275.5 227.0 L275.3 229.0 L275.3 231.0 L276.0 233.0 L276.6 235.0 L276.8 237.0 L277.1 239.0 L277.5 241.0 L277.1 243.0 L276.7 245.0 L276.7 247.0 L276.6 249.0 L276.2 251.0 L276.4 253.0 L276.7 255.0 L276.4 257.0 L276.1 259.0 L276.0 261.0 L275.7 263.0 L275.1 265.0 L275.1 267.0 L275.5 269.0 L275.7 271.0 L276.1 273.0 L276.9 275.0 L277.2 277.0 L277.0 279.0 L277.0 281.0 L277.1 283.0 L276.6 285.0 L276.3 287.0 L276.6 289.0 L276.7 291.0 L276.5 293.0 L276.5 295.0 L276.5 297.0 L276.0 299.0 L275.4 301.0 L275.4 303.0 L275.2 305.0 L275.1 307.0 L275.6 309.0 L276.3 311.0 L276.6 313.0 L276.8 315.0" fill="none" stroke="#5c0a16" stroke-width="2.4"/>
<path d="M284.8 199.0 L284.8 201.0 L284.8 203.0 L284.6 205.0 L284.8 207.0 L285.0 209.0 L285.2 211.0 L285.3 213.0 L285.6 215.0 L285.6 217.0 L285.4 219.0 L285.3 221.0 L285.1 223.0 L284.9 225.0 L284.7 227.0 L284.8 229.0 L284.9 231.0 L284.8 233.0 L284.9 235.0 L284.9 237.0 L284.7 239.0 L284.6 241.0 L284.7 243.0 L284.8 245.0 L284.8 247.0 L285.1 249.0 L285.4 251.0 L285.5 253.0 L285.5 255.0 L285.5 257.0 L285.3 259.0 L285.0 261.0 L285.0 263.0 L284.9 265.0 L284.8 267.0 L284.8 269.0 L285.0 271.0 L284.9 273.0 L284.7 275.0 L284.7 277.0 L284.7 279.0 L284.6 281.0 L284.6 283.0 L284.9 285.0 L285.1 287.0 L285.2 289.0 L285.5 291.0 L285.6 293.0 L285.4 295.0 L285.3 297.0 L285.2 299.0 L285.0 301.0 L284.8 303.0 L284.9 305.0 L285.0 307.0 L284.9 309.0 L284.9 311.0 L284.9 313.0 L284.7 315.0" fill="none" stroke="#161616" stroke-width="1.8"/>
<path d="M294.2 199.0 L293.8 201.0 L293.7 203.0 L293.3 205.0 L293.0 207.0 L293.3 209.0 L293.4 211.0 L293.1 213.0 L293.0 215.0 L293.0 217.0 L292.4 219.0 L292.0 221.0 L292.4 223.0 L292.8 225.0 L293.0 227.0 L293.7 229.0 L294.6 231.0 L294.6 233.0 L294.4 235.0 L294.5 237.0 L294.2 239.0 L293.5 241.0 L293.3 243.0 L293.5 245.0 L293.4 247.0 L293.2 249.0 L293.5 251.0 L293.3 253.0 L292.6 255.0 L292.4 257.0 L292.4 259.0 L292.1 261.0 L292.2 263.0 L293.1 265.0 L293.8 267.0 L294.0 269.0 L294.5 271.0 L294.8 273.0 L294.4 275.0 L293.9 277.0 L293.9 279.0 L293.7 281.0 L293.3 283.0 L293.5 285.0 L293.8 287.0 L293.5 289.0 L293.1 291.0 L293.0 293.0 L292.6 295.0 L291.9 297.0 L292.0 299.0 L292.5 301.0 L292.7 303.0 L293.2 305.0 L294.1 307.0 L294.5 309.0 L294.3 311.0 L294.3 313.0 L294.3 315.0" fill="none" stroke="#141414" stroke-width="1.4" stroke-dasharray="4 3"/>
<ellipse cx="292.5" cy="266.2" rx="2.5" ry="1.5" fill="#f0e62d" fill-opacity="0.75"/>
<ellipse cx="292.4" cy="251.0" rx="2.2" ry="1.9" fill="#f0e62d" fill-opacity="0.75"/>
<ellipse cx="293.9" cy="305.9" rx="2.1" ry="2.6" fill="#f0e62d" fill-opacity="0.75"/>
<ellipse cx="291.1" cy="233.9" rx="2.5" ry="1.7" fill="#f0e62d" fill-opacity="0.75"/>
<ellipse cx="295.7" cy="301.0" rx="1.6" ry="3.4" fill="#f0e62d" fill-opacity="0.75"/>
<ellipse cx="292.6" cy="286.6" rx="2.6" ry="2.1" fill="#f0e62d" fill-opacity="0.75"/>
<ellipse cx="294.5" cy="274.0" rx="2.7" ry="2.0" fill="#f0e62d" fill-opacity="0.75"/>
<ellipse cx="294.9" cy="306.5" rx="2.5" ry="2.6" fill="#f0e62d" fill-opacity="0.75"/>
<ellipse cx="291.1" cy="257.1" rx="2.0" ry="2.9" fill="#f0e62d" fill-opacity="0.75"/>
<ellipse cx="294.5" cy="264.8" rx="1.8" ry="2.8" fill="#f0e62d" fill-opacity="0.75"/>
<ellipse cx="306.0" cy="223.8" rx="2.8" ry="2.8" fill="#f0e62d" fill-opacity="0.75"/>
<ellipse cx="299.9" cy="303.4" rx="1.7" ry="2.2" fill="#f0e62d" fill-opacity="0.75"/>
<ellipse cx="307.0" cy="268.1" rx="2.3" ry="2.8" fill="#f0e62d" fill-opacity="0.75"/>
<ellipse cx="303.9" cy="237.9" rx="1.8" ry="1.6" fill="#f0e62d" fill-opacity="0.75"/>
<ellipse cx="307.0" cy="284.7" rx="2.3" ry="3.0" fill="#f0e62d" fill-opacity="0.75"/>
<ellipse cx="302.7" cy="233.0" rx="2.1" ry="3.2" fill="#f0e62d" fill-opacity="0.75"/>
<ellipse cx="298.9" cy="258.2" rx="1.9" ry="3.0" fill="#f0e62d" fill-opacity="0.75"/>
<ellipse cx="302.6" cy="240.1" rx="2.1" ry="2.6" fill="#f0e62d" fill-opacity="0.75"/>
<ellipse cx="307.7" cy="242.2" rx="2.8" ry="1.7" fill="#f0e62d" fill-opacity="0.75"/>
<ellipse cx="301.6" cy="215.4" rx="1.7" ry="3.1" fill="#f0e62d" fill-opacity="0.75"/>
<ellipse cx="307.1" cy="224.4" rx="1.8" ry="2.3" fill="#f0e62d" fill-opacity="0.75"/>
<ellipse cx="307.3" cy="291.1" rx="2.6" ry="2.7" fill="#f0e62d" fill-opacity="0.75"/>
<ellipse cx="300.2" cy="247.0" rx="1.8" ry="2.6" fill="#f0e62d" fill-opacity="0.75"/>
<ellipse cx="305.2" cy="226.2" rx="1.9" ry="3.1" fill="#f0e62d" fill-opacity="0.75"/>
<ellipse cx="298.8" cy="289.8" rx="2.8" ry="3.4" fill="#f0e62d" fill-opacity="0.75"/>
<ellipse cx="303.0" cy="263.3" rx="2.4" ry="2.8" fill="#f0e62d" fill-opacity="0.75"/>
</g>
<rect x="192.40" y="199.00" width="120.40" height="117.50" fill="none" stroke="#ababab" stroke-width="1.1"/>
<line x1="192.40" x2="193.90" y1="227.00" y2="227.00" stroke="#8a8a8a" stroke-width="0.8"/>
<line x1="192.40" x2="193.90" y1="253.70" y2="253.70" stroke="#8a8a8a" stroke-width="0.8"/>
<line x1="192.40" x2="193.90" y1="280.40" y2="280.40" stroke="#8a8a8a" stroke-width="0.8"/>
<line x1="192.40" x2="193.90" y1="307.10" y2="307.10" stroke="#8a8a8a" stroke-width="0.8"/>
<line x1="222.50" x2="222.50" y1="316.50" y2="315.00" stroke="#8a8a8a" stroke-width="0.8"/>
<line x1="252.60" x2="252.60" y1="316.50" y2="315.00" stroke="#8a8a8a" stroke-width="0.8"/>
<line x1="282.70" x2="282.70" y1="316.50" y2="315.00" stroke="#8a8a8a" stroke-width="0.8"/>
<text y="194.80" class="ti" x="210.40" letter-spacing="0.3" font-size="15.5px">(e)</text>
<text y="194.80" class="ti" x="233.60" font-style="italic" font-size="16px">f</text>
<text y="195.90" class="ti eq" x="242.40">=</text>
<text y="194.80" class="ti" x="253.00" font-size="15px" textLength="40.30" lengthAdjust="spacingAndGlyphs">201Hz</text>
<text x="192.40" y="334.00" class="tk" text-anchor="middle">-40</text>
<text x="222.50" y="334.00" class="tk" text-anchor="middle">-20</text>
<text x="252.60" y="334.00" class="tk" text-anchor="middle">0</text>
<text x="282.70" y="334.00" class="tk" text-anchor="middle">20</text>
<text x="312.80" y="334.00" class="tk" text-anchor="middle">40</text>
<text x="188.10" y="231.40" class="tk" text-anchor="end">20</text>
<text x="188.10" y="258.10" class="tk" text-anchor="end">40</text>
<text x="188.10" y="284.80" class="tk" text-anchor="end">60</text>
<text x="188.10" y="311.50" class="tk" text-anchor="end">80</text>
<linearGradient id="gf" x1="0" x2="1" y1="0" y2="0"><stop offset="0.0042" stop-color="#000000"/><stop offset="0.0125" stop-color="#000000"/><stop offset="0.0208" stop-color="#000000"/><stop offset="0.0291" stop-color="#040404"/><stop offset="0.0374" stop-color="#040404"/><stop offset="0.0457" stop-color="#000000"/><stop offset="0.0540" stop-color="#000000"/><stop offset="0.0623" stop-color="#000000"/><stop offset="0.0706" stop-color="#000000"/><stop offset="0.0789" stop-color="#000000"/><stop offset="0.0872" stop-color="#000000"/><stop offset="0.0955" stop-color="#000000"/><stop offset="0.1038" stop-color="#000000"/><stop offset="0.1121" stop-color="#000000"/><stop offset="0.1204" stop-color="#000000"/><stop offset="0.1287" stop-color="#0d0d0d"/><stop offset="0.1370" stop-color="#1a1a1a"/><stop offset="0.1453" stop-color="#202020"/><stop offset="0.1537" stop-color="#212121"/><stop offset="0.1620" stop-color="#222222"/><stop offset="0.1703" stop-color="#222222"/><stop offset="0.1786" stop-color="#232323"/><stop offset="0.1869" stop-color="#242424"/><stop offset="0.1952" stop-color="#242424"/><stop offset="0.2035" stop-color="#252525"/><stop offset="0.2118" stop-color="#262626"/><stop offset="0.2201" stop-color="#3b3b3b"/><stop offset="0.2284" stop-color="#868686"/><stop offset="0.2367" stop-color="#888888"/><stop offset="0.2450" stop-color="#8b8b8b"/><stop offset="0.2533" stop-color="#8c8c8c"/><stop offset="0.2616" stop-color="#8c8c8c"/><stop offset="0.2699" stop-color="#8c8c8c"/><stop offset="0.2782" stop-color="#8c8c8c"/><stop offset="0.2865" stop-color="#999999"/><stop offset="0.2949" stop-color="#a9a9a9"/><stop offset="0.3032" stop-color="#adadad"/><stop offset="0.3115" stop-color="#b0b0b0"/><stop offset="0.3198" stop-color="#bbbbbb"/><stop offset="0.3281" stop-color="#e1e1e1"/><stop offset="0.3364" stop-color="#bcbcbc"/><stop offset="0.3447" stop-color="#bdbdbd"/><stop offset="0.3530" stop-color="#bfbfbf"/><stop offset="0.3613" stop-color="#c1c1c1"/><stop offset="0.3696" stop-color="#c3c3c3"/><stop offset="0.3779" stop-color="#f6f6f6"/><stop offset="0.3862" stop-color="#d9d9d9"/><stop offset="0.3945" stop-color="#c9c9c9"/><stop offset="0.4028" stop-color="#c5c5c5"/><stop offset="0.4111" stop-color="#bfbfbf"/><stop offset="0.4194" stop-color="#aeaeae"/><stop offset="0.4277" stop-color="#8a8a8a"/><stop offset="0.4360" stop-color="#838383"/><stop offset="0.4444" stop-color="#3d3d3d"/><stop offset="0.4527" stop-color="#1a1a1a"/><stop offset="0.4610" stop-color="#1b1b1b"/><stop offset="0.4693" stop-color="#1b1b1b"/><stop offset="0.4776" stop-color="#1c1c1c"/><stop offset="0.4859" stop-color="#1d1d1d"/><stop offset="0.4942" stop-color="#1e1e1e"/><stop offset="0.5025" stop-color="#1e1e1e"/><stop offset="0.5108" stop-color="#1f1f1f"/><stop offset="0.5191" stop-color="#202020"/><stop offset="0.5274" stop-color="#8f8f8f"/><stop offset="0.5357" stop-color="#a3a3a3"/><stop offset="0.5440" stop-color="#b4b4b4"/><stop offset="0.5523" stop-color="#eeeeee"/><stop offset="0.5606" stop-color="#dddddd"/><stop offset="0.5689" stop-color="#e3e3e3"/><stop offset="0.5772" stop-color="#f3f3f3"/><stop offset="0.5855" stop-color="#d7d7d7"/><stop offset="0.5939" stop-color="#cacaca"/><stop offset="0.6022" stop-color="#c8c8c8"/><stop offset="0.6105" stop-color="#c6c6c6"/><stop offset="0.6188" stop-color="#c4c4c4"/><stop offset="0.6271" stop-color="#dadada"/><stop offset="0.6354" stop-color="#b6b6b6"/><stop offset="0.6437" stop-color="#a7a7a7"/><stop offset="0.6520" stop-color="#a9a9a9"/><stop offset="0.6603" stop-color="#ababab"/><stop offset="0.6686" stop-color="#c7c7c7"/><stop offset="0.6769" stop-color="#fbfbfb"/><stop offset="0.6852" stop-color="#d4d4d4"/><stop offset="0.6935" stop-color="#bfbfbf"/><stop offset="0.7018" stop-color="#bababa"/><stop offset="0.7101" stop-color="#b5b5b5"/><stop offset="0.7184" stop-color="#9e9e9e"/><stop offset="0.7267" stop-color="#858585"/><stop offset="0.7350" stop-color="#0d0d0d"/><stop offset="0.7434" stop-color="#0d0d0d"/><stop offset="0.7517" stop-color="#0e0e0e"/><stop offset="0.7600" stop-color="#0f0f0f"/><stop offset="0.7683" stop-color="#101010"/><stop offset="0.7766" stop-color="#101010"/><stop offset="0.7849" stop-color="#111111"/><stop offset="0.7932" stop-color="#121212"/><stop offset="0.8015" stop-color="#131313"/><stop offset="0.8098" stop-color="#232323"/><stop offset="0.8181" stop-color="#333333"/><stop offset="0.8264" stop-color="#333333"/><stop offset="0.8347" stop-color="#333333"/><stop offset="0.8430" stop-color="#333333"/><stop offset="0.8513" stop-color="#333333"/><stop offset="0.8596" stop-color="#333333"/><stop offset="0.8679" stop-color="#333333"/><stop offset="0.8762" stop-color="#333333"/><stop offset="0.8846" stop-color="#333333"/><stop offset="0.8929" stop-color="#333333"/><stop offset="0.9012" stop-color="#333333"/><stop offset="0.9095" stop-color="#333333"/><stop offset="0.9178" stop-color="#202020"/><stop offset="0.9261" stop-color="#0d0d0d"/><stop offset="0.9344" stop-color="#0e0e0e"/><stop offset="0.9427" stop-color="#0e0e0e"/><stop offset="0.9510" stop-color="#0f0f0f"/><stop offset="0.9593" stop-color="#101010"/><stop offset="0.9676" stop-color="#101010"/><stop offset="0.9759" stop-color="#111111"/><stop offset="0.9842" stop-color="#121212"/><stop offset="0.9925" stop-color="#131313"/><stop offset="1.0000" stop-color="#131313"/></linearGradient>
<rect x="350.40" y="199.00" width="120.40" height="117.50" fill="url(#gf)" filter="url(#tex)"/>
<g clip-path="url(#cf)">
<rect x="390.50" y="199.00" width="4.40" height="117.50" fill="#ffffff" fill-opacity="0.35"/>
<rect x="421.10" y="199.00" width="4.00" height="117.50" fill="#ffffff" fill-opacity="0.35"/>
<rect x="417.70" y="199.00" width="1.40" height="117.50" fill="#ffffff" fill-opacity="0.25"/>
<rect x="427.20" y="199.00" width="3.40" height="117.50" fill="#ffffff" fill-opacity="0.30"/>
<path d="M379.0 199.0 L379.0 201.0 L379.0 203.0 L379.1 205.0 L379.4 207.0 L379.4 209.0 L379.5 211.0 L379.5 213.0 L379.4 215.0 L379.2 217.0 L379.1 219.0 L379.0 221.0 L378.9 223.0 L378.9 225.0 L379.0 227.0 L379.0 229.0 L378.9 231.0 L379.0 233.0 L379.0 235.0 L378.8 237.0 L378.8 239.0 L379.0 241.0 L379.1 243.0 L379.2 245.0 L379.4 247.0 L379.5 249.0 L379.5 251.0 L379.4 253.0 L379.3 255.0 L379.1 257.0 L379.0 259.0 L379.0 261.0 L379.0 263.0 L378.9 265.0 L379.0 267.0 L379.1 269.0 L379.0 271.0" fill="none" stroke="#161616" stroke-width="1.8"/>
<path d="M385.2 199.0 L385.1 201.0 L385.2 203.0 L385.2 205.0 L385.0 207.0 L385.0 209.0 L385.1 211.0 L385.2 213.0 L385.3 215.0 L385.6 217.0 L385.7 219.0 L385.6 221.0 L385.6 223.0 L385.6 225.0 L385.4 227.0 L385.2 229.0 L385.2 231.0 L385.2 233.0 L385.1 235.0 L385.2 237.0 L385.3 239.0 L385.2 241.0 L385.1 243.0 L385.1 245.0 L385.1 247.0 L385.0 249.0 L385.1 251.0 L385.4 253.0 L385.5 255.0 L385.6 257.0 L385.7 259.0 L385.7 261.0 L385.5 263.0 L385.4 265.0 L385.4 267.0 L385.2 269.0 L385.2 271.0 L385.3 273.0 L385.3 275.0 L385.2 277.0 L385.2 279.0 L385.2 281.0 L385.0 283.0 L384.9 285.0 L385.0 287.0 L385.1 289.0 L385.2 291.0 L385.4 293.0 L385.6 295.0 L385.6 297.0 L385.6 299.0 L385.6 301.0 L385.5 303.0 L385.3 305.0 L385.3 307.0 L385.3 309.0 L385.3 311.0 L385.2 313.0 L385.3 315.0" fill="none" stroke="#141414" stroke-width="1.7" stroke-dasharray="4 3"/>
<path d="M389.8 199.0 L389.7 201.0 L389.7 203.0 L389.6 205.0 L389.5 207.0 L389.6 209.0 L389.6 211.0 L389.5 213.0 L389.5 215.0 L389.5 217.0 L389.4 219.0 L389.3 221.0 L389.4 223.0 L389.5 225.0 L389.5 227.0 L389.7 229.0 L389.9 231.0 L389.9 233.0 L389.8 235.0 L389.8 237.0 L389.8 239.0 L389.6 241.0 L389.6 243.0 L389.6 245.0 L389.6 247.0 L389.6 249.0 L389.6 251.0 L389.6 253.0 L389.4 255.0 L389.4 257.0 L389.4 259.0 L389.3 261.0 L389.4 263.0 L389.6 265.0 L389.7 267.0 L389.7 269.0 L389.8 271.0 L389.9 273.0 L389.8 275.0 L389.7 277.0 L389.7 279.0 L389.7 281.0 L389.6 283.0 L389.6 285.0 L389.7 287.0 L389.6 289.0 L389.5 291.0 L389.5 293.0 L389.4 295.0 L389.3 297.0 L389.3 299.0 L389.4 301.0 L389.5 303.0 L389.6 305.0 L389.8 307.0 L389.8 309.0 L389.8 311.0 L389.8 313.0 L389.8 315.0" fill="none" stroke="#5c0a16" stroke-width="2.4"/>
<path d="M395.8 199.0 L395.8 201.0 L395.7 203.0 L395.7 205.0 L395.8 207.0 L396.0 209.0 L396.0 211.0 L396.1 213.0 L396.3 215.0 L396.2 217.0 L396.1 219.0 L396.0 221.0 L395.9 223.0 L395.8 225.0 L395.7 227.0 L395.8 229.0 L395.8 231.0 L395.8 233.0 L395.8 235.0 L395.8 237.0 L395.7 239.0 L395.7 241.0 L395.8 243.0 L395.8 245.0 L395.8 247.0 L396.0 249.0 L396.2 251.0 L396.2 253.0 L396.2 255.0 L396.2 257.0 L396.0 259.0 L395.9 261.0 L395.9 263.0 L395.8 265.0 L395.8 267.0 L395.8 269.0 L395.9 271.0 L395.8 273.0 L395.7 275.0 L395.7 277.0 L395.7 279.0 L395.6 281.0 L395.7 283.0 L395.9 285.0 L396.0 287.0 L396.1 289.0 L396.2 291.0 L396.2 293.0 L396.1 295.0 L396.0 297.0 L396.0 299.0 L395.9 301.0 L395.8 303.0 L395.9 305.0 L395.9 307.0 L395.8 309.0 L395.8 311.0 L395.8 313.0 L395.7 315.0" fill="none" stroke="#5c0a16" stroke-width="2.4"/>
<path d="M400.7 199.0 L400.7 201.0 L400.7 203.0 L400.7 205.0 L400.8 207.0 L400.7 209.0 L400.6 211.0 L400.6 213.0 L400.6 215.0 L400.5 217.0 L400.6 219.0 L400.8 221.0 L401.0 223.0 L401.0 225.0 L401.2 227.0 L401.2 229.0 L401.0 231.0 L400.9 233.0 L400.9 235.0 L400.8 237.0 L400.7 239.0 L400.8 241.0 L400.8 243.0 L400.7 245.0 L400.7 247.0 L400.7 249.0 L400.5 251.0 L400.4 253.0 L400.5 255.0 L400.6 257.0 L400.7 259.0 L400.9 261.0 L401.1 263.0 L401.1 265.0 L401.1 267.0 L401.1 269.0 L401.0 271.0 L400.8 273.0 L400.8 275.0 L400.8 277.0 L400.8 279.0 L400.7 281.0 L400.8 283.0 L400.8 285.0 L400.6 287.0 L400.5 289.0 L400.5 291.0 L400.4 293.0 L400.5 295.0 L400.7 297.0 L400.9 299.0 L401.0 301.0 L401.1 303.0 L401.2 305.0 L401.1 307.0 L400.9 309.0 L400.9 311.0 L400.9 313.0 L400.8 315.0" fill="none" stroke="#141414" stroke-width="1.7" stroke-dasharray="4 3"/>
<path d="M416.6 199.0 L416.6 201.0 L416.6 203.0 L416.7 205.0 L416.6 207.0 L416.5 209.0 L416.5 211.0 L416.5 213.0 L416.5 215.0 L416.7 217.0 L416.9 219.0 L416.9 221.0 L417.0 223.0 L417.0 225.0 L417.0 227.0 L416.8 229.0 L416.7 231.0 L416.7 233.0 L416.6 235.0 L416.6 237.0 L416.7 239.0 L416.7 241.0 L416.6 243.0 L416.5 245.0 L416.6 247.0 L416.5 249.0 L416.4 251.0 L416.5 253.0 L416.7 255.0 L416.7 257.0 L416.9 259.0 L417.0 261.0 L417.0 263.0 L416.9 265.0 L416.9 267.0 L416.8 269.0 L416.7 271.0 L416.6 273.0 L416.7 275.0 L416.7 277.0 L416.6 279.0 L416.7 281.0 L416.6 283.0 L416.5 285.0 L416.4 287.0 L416.5 289.0 L416.5 291.0 L416.6 293.0 L416.8 295.0 L416.9 297.0 L416.9 299.0 L417.0 301.0 L417.0 303.0 L416.9 305.0 L416.7 307.0 L416.7 309.0 L416.7 311.0 L416.7 313.0 L416.7 315.0" fill="none" stroke="#5c0a16" stroke-width="2.4"/>
<path d="M420.0 199.0 L420.0 201.0 L420.0 203.0 L420.0 205.0 L419.9 207.0 L419.9 209.0 L420.0 211.0 L420.1 213.0 L420.2 215.0 L420.4 217.0 L420.4 219.0 L420.4 221.0 L420.3 223.0 L420.3 225.0 L420.1 227.0 L420.0 229.0 L420.0 231.0 L420.0 233.0 L420.0 235.0 L420.0 237.0 L420.1 239.0 L419.9 241.0 L419.9 243.0 L419.9 245.0 L419.9 247.0 L419.9 249.0 L420.1 251.0 L420.2 253.0 L420.3 255.0 L420.4 257.0 L420.4 259.0 L420.4 261.0 L420.2 263.0 L420.2 265.0 L420.1 267.0 L420.0 269.0 L420.0 271.0 L420.1 273.0 L420.1 275.0 L420.0 277.0 L420.0 279.0 L420.0 281.0 L419.8 283.0 L419.8 285.0 L420.0 287.0 L420.0 289.0 L420.1 291.0 L420.3 293.0 L420.4 295.0 L420.4 297.0 L420.3 299.0 L420.3 301.0 L420.2 303.0 L420.1 305.0 L420.1 307.0 L420.1 309.0 L420.1 311.0 L420.1 313.0 L420.1 315.0" fill="none" stroke="#5c0a16" stroke-width="2.4"/>
<path d="M426.2 199.0 L426.4 201.0 L426.4 203.0 L426.4 205.0 L426.5 207.0 L426.4 209.0 L426.3 211.0 L426.2 213.0 L426.3 215.0 L426.2 217.0 L426.2 219.0 L426.3 221.0 L426.2 223.0 L426.1 225.0 L426.0 227.0 L426.0 229.0 L425.9 231.0 L425.9 233.0 L426.1 235.0 L426.2 237.0 L426.3 239.0 L426.4 241.0 L426.5 243.0 L426.4 245.0 L426.3 247.0 L426.4 249.0 L426.3 251.0 L426.2 253.0 L426.3 255.0 L426.3 257.0 L426.2 259.0 L426.2 261.0 L426.2 263.0 L426.1 265.0 L425.9 267.0 L425.9 269.0 L426.0 271.0 L426.0 273.0 L426.1 275.0 L426.3 277.0 L426.4 279.0 L426.4 281.0 L426.4 283.0 L426.4 285.0 L426.3 287.0 L426.2 289.0 L426.3 291.0 L426.3 293.0 L426.3 295.0 L426.3 297.0 L426.3 299.0 L426.1 301.0 L426.0 303.0 L426.0 305.0 L425.9 307.0 L425.8 309.0 L426.0 311.0 L426.1 313.0 L426.2 315.0" fill="none" stroke="#5c0a16" stroke-width="2.4"/>
<path d="M431.8 199.0 L431.8 201.0 L431.8 203.0 L431.7 205.0 L431.7 207.0 L431.8 209.0 L431.9 211.0 L432.0 213.0 L432.1 215.0 L432.2 217.0 L432.2 219.0 L432.1 221.0 L432.1 223.0 L432.0 225.0 L431.8 227.0 L431.8 229.0 L431.8 231.0 L431.8 233.0 L431.8 235.0 L431.9 237.0 L431.8 239.0 L431.7 241.0 L431.7 243.0 L431.7 245.0 L431.7 247.0 L431.8 249.0 L432.0 251.0 L432.1 253.0 L432.1 255.0 L432.2 257.0 L432.2 259.0 L432.1 261.0 L431.9 263.0 L431.9 265.0 L431.9 267.0 L431.8 269.0 L431.8 271.0 L431.9 273.0 L431.8 275.0 L431.8 277.0 L431.8 279.0 L431.7 281.0 L431.6 283.0 L431.7 285.0 L431.8 287.0 L431.9 289.0 L432.0 291.0 L432.2 293.0 L432.2 295.0 L432.1 297.0 L432.1 299.0 L432.0 301.0 L431.9 303.0 L431.8 305.0 L431.9 307.0 L431.9 309.0 L431.8 311.0 L431.9 313.0 L431.9 315.0" fill="none" stroke="#5c0a16" stroke-width="2.4"/>
<ellipse cx="456.0" cy="259.9" rx="2.3" ry="2.4" fill="#e6e444" fill-opacity="0.75"/>
<ellipse cx="451.3" cy="263.6" rx="1.6" ry="2.5" fill="#e6e444" fill-opacity="0.75"/>
<ellipse cx="455.9" cy="255.1" rx="2.3" ry="3.4" fill="#e6e444" fill-opacity="0.75"/>
<ellipse cx="458.3" cy="224.3" rx="2.7" ry="2.7" fill="#e6e444" fill-opacity="0.75"/>
<ellipse cx="449.9" cy="246.7" rx="1.9" ry="1.7" fill="#e6e444" fill-opacity="0.75"/>
<ellipse cx="454.8" cy="303.6" rx="2.0" ry="3.2" fill="#e6e444" fill-opacity="0.75"/>
<ellipse cx="456.3" cy="224.2" rx="2.8" ry="2.7" fill="#e6e444" fill-opacity="0.75"/>
<ellipse cx="458.7" cy="282.3" rx="2.6" ry="2.2" fill="#e6e444" fill-opacity="0.75"/>
<ellipse cx="457.5" cy="303.8" rx="2.8" ry="2.4" fill="#e6e444" fill-opacity="0.75"/>
<ellipse cx="457.0" cy="259.2" rx="1.7" ry="1.6" fill="#e6e444" fill-opacity="0.75"/>
<ellipse cx="450.2" cy="230.8" rx="1.7" ry="2.5" fill="#e6e444" fill-opacity="0.75"/>
<ellipse cx="456.4" cy="264.4" rx="2.1" ry="2.8" fill="#e6e444" fill-opacity="0.75"/>
<ellipse cx="452.4" cy="257.1" rx="2.6" ry="2.3" fill="#e6e444" fill-opacity="0.75"/>
<ellipse cx="451.2" cy="300.6" rx="2.6" ry="2.2" fill="#e6e444" fill-opacity="0.75"/>
<path d="M455.1 236.0 q-2.0 1.7 -1.1 3.5" fill="none" stroke="#161616" stroke-width="1.3"/>
<path d="M453.5 250.9 q-1.2 1.2 -0.1 2.4" fill="none" stroke="#161616" stroke-width="1.3"/>
<path d="M453.5 214.9 q-1.9 1.5 -1.1 3.0" fill="none" stroke="#161616" stroke-width="1.3"/>
<path d="M452.5 214.8 q-1.9 1.6 -1.4 3.2" fill="none" stroke="#161616" stroke-width="1.3"/>
<path d="M455.9 228.8 q-0.4 1.9 -1.7 3.8" fill="none" stroke="#161616" stroke-width="1.3"/>
<path d="M455.4 206.4 q-1.6 2.2 -1.4 4.4" fill="none" stroke="#161616" stroke-width="1.3"/>
<path d="M456.1 214.6 q-1.5 1.8 -0.6 3.6" fill="none" stroke="#161616" stroke-width="1.3"/>
<path d="M451.9 247.6 q-0.1 1.3 0.9 2.7" fill="none" stroke="#161616" stroke-width="1.3"/>
</g>
<rect x="350.40" y="199.00" width="120.40" height="117.50" fill="none" stroke="#ababab" stroke-width="1.1"/>
<line x1="350.40" x2="351.90" y1="227.00" y2="227.00" stroke="#8a8a8a" stroke-width="0.8"/>
<line x1="350.40" x2="351.90" y1="253.70" y2="253.70" stroke="#8a8a8a" stroke-width="0.8"/>
<line x1="350.40" x2="351.90" y1="280.40" y2="280.40" stroke="#8a8a8a" stroke-width="0.8"/>
<line x1="350.40" x2="351.90" y1="307.10" y2="307.10" stroke="#8a8a8a" stroke-width="0.8"/>
<line x1="380.50" x2="380.50" y1="316.50" y2="315.00" stroke="#8a8a8a" stroke-width="0.8"/>
<line x1="410.60" x2="410.60" y1="316.50" y2="315.00" stroke="#8a8a8a" stroke-width="0.8"/>
<line x1="440.70" x2="440.70" y1="316.50" y2="315.00" stroke="#8a8a8a" stroke-width="0.8"/>
<text y="194.80" class="ti" x="368.40" letter-spacing="0.3" font-size="15.5px">(f)</text>
<text y="194.80" class="ti" x="391.60" font-style="italic" font-size="16px">f</text>
<text y="195.90" class="ti eq" x="400.40">=</text>
<text y="194.80" class="ti" x="411.00" font-size="15px" textLength="40.30" lengthAdjust="spacingAndGlyphs">235Hz</text>
<text x="350.40" y="334.00" class="tk" text-anchor="middle">-40</text>
<text x="380.50" y="334.00" class="tk" text-anchor="middle">-20</text>
<text x="410.60" y="334.00" class="tk" text-anchor="middle">0</text>
<text x="440.70" y="334.00" class="tk" text-anchor="middle">20</text>
<text x="470.80" y="334.00" class="tk" text-anchor="middle">40</text>
<text x="346.10" y="231.40" class="tk" text-anchor="end">20</text>
<text x="346.10" y="258.10" class="tk" text-anchor="end">40</text>
<text x="346.10" y="284.80" class="tk" text-anchor="end">60</text>
<text x="346.10" y="311.50" class="tk" text-anchor="end">80</text>
<linearGradient id="gg" x1="0" x2="1" y1="0" y2="0"><stop offset="0.0042" stop-color="#000000"/><stop offset="0.0125" stop-color="#000000"/><stop offset="0.0208" stop-color="#000000"/><stop offset="0.0291" stop-color="#000000"/><stop offset="0.0374" stop-color="#000000"/><stop offset="0.0457" stop-color="#000000"/><stop offset="0.0540" stop-color="#000000"/><stop offset="0.0623" stop-color="#000000"/><stop offset="0.0706" stop-color="#000000"/><stop offset="0.0789" stop-color="#000000"/><stop offset="0.0872" stop-color="#000000"/><stop offset="0.0955" stop-color="#000000"/><stop offset="0.1038" stop-color="#000000"/><stop offset="0.1121" stop-color="#101010"/><stop offset="0.1204" stop-color="#232323"/><stop offset="0.1287" stop-color="#2d2d2d"/><stop offset="0.1370" stop-color="#2e2e2e"/><stop offset="0.1453" stop-color="#2e2e2e"/><stop offset="0.1537" stop-color="#2f2f2f"/><stop offset="0.1620" stop-color="#2f2f2f"/><stop offset="0.1703" stop-color="#303030"/><stop offset="0.1786" stop-color="#313131"/><stop offset="0.1869" stop-color="#313131"/><stop offset="0.1952" stop-color="#323232"/><stop offset="0.2035" stop-color="#333333"/><stop offset="0.2118" stop-color="#3d3d3d"/><stop offset="0.2201" stop-color="#515151"/><stop offset="0.2284" stop-color="#686868"/><stop offset="0.2367" stop-color="#818181"/><stop offset="0.2450" stop-color="#8e8e8e"/><stop offset="0.2533" stop-color="#939393"/><stop offset="0.2616" stop-color="#939393"/><stop offset="0.2699" stop-color="#939393"/><stop offset="0.2782" stop-color="#939393"/><stop offset="0.2865" stop-color="#ededed"/><stop offset="0.2949" stop-color="#c3c3c3"/><stop offset="0.3032" stop-color="#c3c3c3"/><stop offset="0.3115" stop-color="#c3c3c3"/><stop offset="0.3198" stop-color="#c3c3c3"/><stop offset="0.3281" stop-color="#dcdcdc"/><stop offset="0.3364" stop-color="#e0e0e0"/><stop offset="0.3447" stop-color="#cbcbcb"/><stop offset="0.3530" stop-color="#cbcbcb"/><stop offset="0.3613" stop-color="#cbcbcb"/><stop offset="0.3696" stop-color="#cbcbcb"/><stop offset="0.3779" stop-color="#f3f3f3"/><stop offset="0.3862" stop-color="#cbcbcb"/><stop offset="0.3945" stop-color="#cbcbcb"/><stop offset="0.4028" stop-color="#cbcbcb"/><stop offset="0.4111" stop-color="#e9e9e9"/><stop offset="0.4194" stop-color="#a5a5a5"/><stop offset="0.4277" stop-color="#a3a3a3"/><stop offset="0.4360" stop-color="#a0a0a0"/><stop offset="0.4444" stop-color="#131313"/><stop offset="0.4527" stop-color="#131313"/><stop offset="0.4610" stop-color="#131313"/><stop offset="0.4693" stop-color="#131313"/><stop offset="0.4776" stop-color="#131313"/><stop offset="0.4859" stop-color="#131313"/><stop offset="0.4942" stop-color="#131313"/><stop offset="0.5025" stop-color="#131313"/><stop offset="0.5108" stop-color="#131313"/><stop offset="0.5191" stop-color="#939393"/><stop offset="0.5274" stop-color="#959595"/><stop offset="0.5357" stop-color="#979797"/><stop offset="0.5440" stop-color="#999999"/><stop offset="0.5523" stop-color="#f6f6f6"/><stop offset="0.5606" stop-color="#f5f5f5"/><stop offset="0.5689" stop-color="#f4f4f4"/><stop offset="0.5772" stop-color="#f3f3f3"/><stop offset="0.5855" stop-color="#c3c3c3"/><stop offset="0.5939" stop-color="#c3c3c3"/><stop offset="0.6022" stop-color="#c3c3c3"/><stop offset="0.6105" stop-color="#ededed"/><stop offset="0.6188" stop-color="#939393"/><stop offset="0.6271" stop-color="#939393"/><stop offset="0.6354" stop-color="#939393"/><stop offset="0.6437" stop-color="#939393"/><stop offset="0.6520" stop-color="#f1f1f1"/><stop offset="0.6603" stop-color="#e8e8e8"/><stop offset="0.6686" stop-color="#e7e7e7"/><stop offset="0.6769" stop-color="#e6e6e6"/><stop offset="0.6852" stop-color="#e5e5e5"/><stop offset="0.6935" stop-color="#cbcbcb"/><stop offset="0.7018" stop-color="#b7b7b7"/><stop offset="0.7101" stop-color="#bfbfbf"/><stop offset="0.7184" stop-color="#e5e5e5"/><stop offset="0.7267" stop-color="#a3a3a3"/><stop offset="0.7350" stop-color="#8f8f8f"/><stop offset="0.7434" stop-color="#636363"/><stop offset="0.7517" stop-color="#0d0d0d"/><stop offset="0.7600" stop-color="#0e0e0e"/><stop offset="0.7683" stop-color="#0e0e0e"/><stop offset="0.7766" stop-color="#0f0f0f"/><stop offset="0.7849" stop-color="#0f0f0f"/><stop offset="0.7932" stop-color="#101010"/><stop offset="0.8015" stop-color="#111111"/><stop offset="0.8098" stop-color="#111111"/><stop offset="0.8181" stop-color="#121212"/><stop offset="0.8264" stop-color="#121212"/><stop offset="0.8347" stop-color="#131313"/><stop offset="0.8430" stop-color="#393939"/><stop offset="0.8513" stop-color="#393939"/><stop offset="0.8596" stop-color="#393939"/><stop offset="0.8679" stop-color="#393939"/><stop offset="0.8762" stop-color="#393939"/><stop offset="0.8846" stop-color="#393939"/><stop offset="0.8929" stop-color="#393939"/><stop offset="0.9012" stop-color="#393939"/><stop offset="0.9095" stop-color="#393939"/><stop offset="0.9178" stop-color="#393939"/><stop offset="0.9261" stop-color="#393939"/><stop offset="0.9344" stop-color="#393939"/><stop offset="0.9427" stop-color="#202020"/><stop offset="0.9510" stop-color="#202020"/><stop offset="0.9593" stop-color="#202020"/><stop offset="0.9676" stop-color="#202020"/><stop offset="0.9759" stop-color="#202020"/><stop offset="0.9842" stop-color="#202020"/><stop offset="0.9925" stop-color="#202020"/><stop offset="1.0000" stop-color="#202020"/></linearGradient>
<rect x="35.60" y="382.30" width="120.40" height="117.50" fill="url(#gg)" filter="url(#tex)"/>
<g clip-path="url(#cg)">
<rect x="70.80" y="382.30" width="4.00" height="117.50" fill="#ffffff" fill-opacity="0.45"/>
<rect x="76.60" y="382.30" width="3.60" height="117.50" fill="#ffffff" fill-opacity="0.40"/>
<rect x="81.90" y="382.30" width="2.80" height="117.50" fill="#ffffff" fill-opacity="0.40"/>
<rect x="114.40" y="382.30" width="4.40" height="117.50" fill="#ffffff" fill-opacity="0.35"/>
<rect x="109.80" y="382.30" width="3.60" height="117.50" fill="#ffffff" fill-opacity="0.45"/>
<rect x="65.30" y="382.30" width="4.00" height="117.50" fill="#ffffff" fill-opacity="0.40"/>
<rect x="103.10" y="382.30" width="3.00" height="117.50" fill="#ffffff" fill-opacity="0.20"/>
<path d="M63.9 382.3 L63.9 384.3 L63.9 386.3 L63.9 388.3 L64.1 390.3 L64.1 392.3 L64.2 394.3 L64.3 396.3 L64.2 398.3 L64.1 400.3 L64.0 402.3 L64.0 404.3 L63.9 406.3 L63.9 408.3 L63.9 410.3 L64.0 412.3 L63.9 414.3 L63.9 416.3 L63.9 418.3 L63.9 420.3 L63.8 422.3 L63.9 424.3 L64.0 426.3 L64.0 428.3 L64.1 430.3 L64.2 432.3 L64.2 434.3 L64.2 436.3 L64.2 438.3 L64.1 440.3 L64.0 442.3 L63.9 444.3 L64.0 446.3 L63.9 448.3 L63.9 450.3 L64.0 452.3 L64.0 454.3 L63.9 456.3 L63.8 458.3 L63.9 460.3 L63.8 462.3 L63.9 464.3 L64.0 466.3 L64.1 468.3 L64.1 470.3 L64.2 472.3" fill="none" stroke="#161616" stroke-width="1.8"/>
<path d="M63.9 483.4 L63.9 485.4 L64.0 487.4 L64.0 489.4" fill="none" stroke="#161616" stroke-width="1.8"/>
<path d="M70.4 382.3 L70.2 384.3 L70.2 386.3 L70.1 388.3 L70.0 390.3 L70.1 392.3 L70.1 394.3 L70.1 396.3 L70.0 398.3 L70.0 400.3 L70.0 402.3 L69.8 404.3 L69.8 406.3 L69.9 408.3 L69.9 410.3 L70.0 412.3 L70.3 414.3 L70.4 416.3 L70.3 418.3 L70.4 420.3 L70.3 422.3 L70.2 424.3 L70.1 426.3 L70.1 428.3 L70.1 430.3 L70.1 432.3 L70.1 434.3 L70.1 436.3 L70.0 438.3 L69.9 440.3 L69.9 442.3 L69.8 444.3 L69.8 446.3 L69.9 448.3 L70.1 450.3 L70.2 452.3 L70.3 454.3 L70.4 456.3 L70.4 458.3 L70.2 460.3 L70.2 462.3 L70.2 464.3 L70.1 466.3 L70.1 468.3 L70.2 470.3 L70.2 472.3 L70.1 474.3 L70.1 476.3 L70.0 478.3 L69.8 480.3 L69.8 482.3 L69.8 484.3 L69.9 486.3 L70.0 488.3 L70.1 490.3 L70.3 492.3 L70.3 494.3 L70.3 496.3 L70.3 498.3" fill="none" stroke="#5c0a16" stroke-width="2.4"/>
<path d="M75.8 382.3 L75.7 384.3 L75.7 386.3 L75.6 388.3 L75.5 390.3 L75.6 392.3 L75.6 394.3 L75.6 396.3 L75.5 398.3 L75.5 400.3 L75.4 402.3 L75.3 404.3 L75.3 406.3 L75.4 408.3 L75.5 410.3 L75.6 412.3 L75.8 414.3 L75.9 416.3 L75.8 418.3 L75.9 420.3 L75.8 422.3 L75.7 424.3 L75.6 426.3 L75.6 428.3 L75.6 430.3 L75.6 432.3 L75.6 434.3 L75.6 436.3 L75.5 438.3 L75.4 440.3 L75.4 442.3 L75.3 444.3 L75.3 446.3 L75.5 448.3 L75.6 450.3 L75.7 452.3 L75.8 454.3 L75.9 456.3 L75.9 458.3 L75.7 460.3 L75.7 462.3 L75.7 464.3 L75.6 466.3 L75.6 468.3 L75.7 470.3 L75.7 472.3 L75.6 474.3 L75.5 476.3 L75.5 478.3 L75.3 480.3 L75.3 482.3 L75.4 484.3 L75.4 486.3 L75.5 488.3 L75.7 490.3 L75.8 492.3 L75.8 494.3 L75.8 496.3 L75.8 498.3" fill="none" stroke="#5c0a16" stroke-width="2.4"/>
<path d="M80.9 382.3 L80.9 384.3 L80.9 386.3 L80.8 388.3 L80.8 390.3 L81.0 392.3 L81.1 394.3 L81.1 396.3 L81.3 398.3 L81.4 400.3 L81.2 402.3 L81.2 404.3 L81.1 406.3 L81.0 408.3 L80.9 410.3 L80.9 412.3 L80.9 414.3 L80.9 416.3 L80.9 418.3 L81.0 420.3 L80.9 422.3 L80.8 424.3 L80.8 426.3 L80.9 428.3 L80.9 430.3 L81.0 432.3 L81.2 434.3 L81.3 436.3 L81.3 438.3 L81.3 440.3 L81.2 442.3 L81.1 444.3 L81.0 446.3 L81.0 448.3 L80.9 450.3 L80.9 452.3 L81.0 454.3 L81.0 456.3 L80.9 458.3 L80.8 460.3 L80.8 462.3 L80.8 464.3 L80.7 466.3 L80.9 468.3 L81.0 470.3 L81.1 472.3 L81.2 474.3 L81.3 476.3 L81.3 478.3 L81.2 480.3 L81.2 482.3 L81.1 484.3 L80.9 486.3 L80.9 488.3 L81.0 490.3 L81.0 492.3 L80.9 494.3 L81.0 496.3 L80.9 498.3" fill="none" stroke="#5c0a16" stroke-width="2.4"/>
<path d="M85.1 382.3 L85.1 384.3 L85.1 386.3 L85.2 388.3 L85.0 390.3 L85.0 392.3 L85.0 394.3 L85.1 396.3 L85.1 398.3 L85.2 400.3 L85.4 402.3 L85.5 404.3 L85.5 406.3 L85.5 408.3 L85.4 410.3 L85.2 412.3 L85.2 414.3 L85.2 416.3 L85.1 418.3 L85.1 420.3 L85.2 422.3 L85.2 424.3 L85.1 426.3 L85.0 428.3 L85.0 430.3 L84.9 432.3 L84.9 434.3 L85.1 436.3 L85.2 438.3 L85.3 440.3 L85.4 442.3 L85.5 444.3 L85.5 446.3 L85.4 448.3 L85.3 450.3 L85.2 452.3 L85.1 454.3 L85.1 456.3 L85.2 458.3 L85.2 460.3 L85.1 462.3 L85.2 464.3 L85.1 466.3 L84.9 468.3 L84.9 470.3 L85.0 472.3 L85.0 474.3 L85.1 476.3 L85.3 478.3 L85.4 480.3 L85.4 482.3 L85.5 484.3 L85.5 486.3 L85.3 488.3 L85.2 490.3 L85.2 492.3 L85.2 494.3 L85.2 496.3 L85.2 498.3" fill="none" stroke="#5c0a16" stroke-width="2.4"/>
<path d="M101.8 382.3 L101.7 384.3 L101.7 386.3 L101.6 388.3 L101.6 390.3 L101.7 392.3 L101.7 394.3 L101.6 396.3 L101.6 398.3 L101.5 400.3 L101.4 402.3 L101.4 404.3 L101.6 406.3 L101.6 408.3 L101.7 410.3 L101.9 412.3 L102.0 414.3 L102.0 416.3 L101.9 418.3 L101.9 420.3 L101.8 422.3 L101.7 424.3 L101.7 426.3 L101.7 428.3 L101.7 430.3 L101.7 432.3 L101.7 434.3 L101.6 436.3 L101.5 438.3 L101.5 440.3 L101.5 442.3 L101.4 444.3 L101.6 446.3 L101.8 448.3 L101.9 450.3 L101.9 452.3 L102.0 454.3 L102.0 456.3 L101.8 458.3 L101.8 460.3 L101.8 462.3 L101.7 464.3 L101.7 466.3 L101.8 468.3 L101.8 470.3 L101.6 472.3 L101.6 474.3 L101.6 476.3 L101.4 478.3 L101.4 480.3 L101.5 482.3 L101.6 484.3 L101.6 486.3 L101.8 488.3 L102.0 490.3 L101.9 492.3 L101.9 494.3 L101.9 496.3 L101.8 498.3" fill="none" stroke="#5c0a16" stroke-width="2.4"/>
<path d="M109.4 382.3 L109.4 384.3 L109.3 386.3 L109.3 388.3 L109.3 390.3 L109.1 392.3 L109.1 394.3 L109.1 396.3 L109.1 398.3 L109.1 400.3 L109.1 402.3 L109.1 404.3 L108.9 406.3 L108.9 408.3 L108.9 410.3 L108.8 412.3 L108.8 414.3 L109.0 416.3 L109.2 418.3 L109.2 420.3 L109.3 422.3 L109.4 424.3 L109.3 426.3 L109.2 428.3 L109.2 430.3 L109.2 432.3 L109.1 434.3 L109.1 436.3 L109.2 438.3 L109.1 440.3 L109.0 442.3 L109.0 444.3 L108.9 446.3 L108.8 448.3 L108.8 450.3 L108.9 452.3 L109.0 454.3 L109.1 456.3 L109.3 458.3 L109.3 460.3 L109.3 462.3 L109.3 464.3 L109.3 466.3 L109.2 468.3 L109.1 470.3 L109.2 472.3 L109.2 474.3 L109.1 476.3 L109.2 478.3 L109.2 480.3 L109.0 482.3 L108.9 484.3 L108.9 486.3 L108.8 488.3 L108.8 490.3 L108.9 492.3 L109.1 494.3 L109.2 496.3 L109.2 498.3" fill="none" stroke="#5c0a16" stroke-width="2.4"/>
<path d="M113.7 382.3 L113.7 384.3 L113.7 386.3 L113.7 388.3 L113.6 390.3 L113.6 392.3 L113.7 394.3 L113.7 396.3 L113.8 398.3 L114.0 400.3 L114.1 402.3 L114.1 404.3 L114.1 406.3 L114.1 408.3 L113.9 410.3 L113.7 412.3 L113.7 414.3 L113.7 416.3 L113.7 418.3 L113.7 420.3 L113.8 422.3 L113.7 424.3 L113.6 426.3 L113.6 428.3 L113.6 430.3 L113.5 432.3 L113.7 434.3 L113.8 436.3 L113.9 438.3 L114.0 440.3 L114.1 442.3 L114.1 444.3 L114.0 446.3 L113.9 448.3 L113.9 450.3 L113.8 452.3 L113.7 454.3 L113.8 456.3 L113.8 458.3 L113.7 460.3 L113.7 462.3 L113.7 464.3 L113.6 466.3 L113.5 468.3 L113.6 470.3 L113.7 472.3 L113.7 474.3 L113.9 476.3 L114.1 478.3 L114.1 480.3 L114.0 482.3 L114.1 484.3 L114.0 486.3 L113.8 488.3 L113.8 490.3 L113.8 492.3 L113.8 494.3 L113.8 496.3 L113.8 498.3" fill="none" stroke="#5c0a16" stroke-width="2.4"/>
<path d="M122.2 382.3 L122.2 384.3 L122.2 386.3 L122.3 388.3 L122.4 390.3 L122.5 392.3 L122.5 394.3 L122.6 396.3 L122.5 398.3 L122.4 400.3 L122.3 402.3 L122.3 404.3 L122.2 406.3 L122.2 408.3 L122.2 410.3 L122.2 412.3 L122.2 414.3 L122.2 416.3 L122.2 418.3 L122.2 420.3 L122.1 422.3 L122.2 424.3 L122.3 426.3 L122.3 428.3 L122.5 430.3 L122.6 432.3 L122.5 434.3 L122.5 436.3 L122.4 438.3 L122.3 440.3 L122.2 442.3 L122.2 444.3 L122.2 446.3 L122.2 448.3 L122.2 450.3 L122.3 452.3 L122.2 454.3 L122.1 456.3 L122.2 458.3 L122.2 460.3 L122.2 462.3 L122.2 464.3 L122.4 466.3 L122.5 468.3 L122.5 470.3 L122.5 472.3" fill="none" stroke="#5c0a16" stroke-width="2.4"/>
<path d="M140.1 382.3 L140.0 384.3 L140.0 386.3 L140.2 388.3 L140.0 390.3 L139.8 392.3 L139.8 394.3 L139.9 396.3 L139.9 398.3 L140.1 400.3 L140.7 402.3 L140.9 404.3 L140.9 406.3 L141.1 408.3 L141.0 410.3 L140.6 412.3 L140.3 414.3 L140.3 416.3 L140.1 418.3 L140.0 420.3 L140.2 422.3 L140.3 424.3 L140.1 426.3 L139.9 428.3 L140.0 430.3 L139.7 432.3 L139.6 434.3 L139.9 436.3 L140.2 438.3 L140.4 440.3 L140.7 442.3 L141.1 444.3 L141.1 446.3 L140.8 448.3 L140.7 450.3 L140.6 452.3 L140.2 454.3 L140.1 456.3 L140.3 458.3 L140.3 460.3 L140.1 462.3 L140.2 464.3 L140.1 466.3 L139.8 468.3 L139.6 470.3 L139.7 472.3 L139.8 474.3 L139.9 476.3 L140.4 478.3 L140.8 480.3 L140.8 482.3 L140.9 484.3 L141.0 486.3 L140.8 488.3 L140.4 490.3 L140.4 492.3" fill="none" stroke="#141414" stroke-width="1.4" stroke-dasharray="4 3"/>
<path d="M145.8 382.3 L146.3 384.3 L146.3 386.3 L146.4 388.3 L146.5 390.3 L146.3 392.3 L145.9 394.3 L145.9 396.3 L145.9 398.3 L145.8 400.3 L145.8 402.3 L146.0 404.3 L145.8 406.3 L145.5 408.3 L145.4 410.3 L145.3 412.3 L145.0 414.3 L145.1 416.3 L145.5 418.3 L145.7 420.3 L145.9 422.3 L146.3 424.3 L146.5 426.3 L146.3 428.3 L146.2 430.3 L146.2 432.3 L146.0 434.3 L145.8 436.3 L145.9 438.3 L146.1 440.3 L145.9 442.3 L145.8 444.3 L145.8 446.3 L145.4 448.3 L145.0 450.3 L145.1 452.3 L145.2 454.3 L145.2 456.3 L145.5 458.3 L146.1 460.3 L146.2 462.3 L146.2 464.3 L146.4 466.3 L146.3 468.3 L146.0 470.3 L145.9 472.3 L146.1 474.3 L146.0 476.3 L145.9 478.3 L146.1 480.3 L146.0 482.3 L145.6 484.3 L145.4 486.3 L145.3 488.3 L145.0 490.3 L144.9 492.3" fill="none" stroke="#141414" stroke-width="1.4" stroke-dasharray="4 3"/>
</g>
<rect x="35.60" y="382.30" width="120.40" height="117.50" fill="none" stroke="#ababab" stroke-width="1.1"/>
<line x1="35.60" x2="37.10" y1="410.30" y2="410.30" stroke="#8a8a8a" stroke-width="0.8"/>
<line x1="35.60" x2="37.10" y1="437.00" y2="437.00" stroke="#8a8a8a" stroke-width="0.8"/>
<line x1="35.60" x2="37.10" y1="463.70" y2="463.70" stroke="#8a8a8a" stroke-width="0.8"/>
<line x1="35.60" x2="37.10" y1="490.40" y2="490.40" stroke="#8a8a8a" stroke-width="0.8"/>
<line x1="65.70" x2="65.70" y1="499.80" y2="498.30" stroke="#8a8a8a" stroke-width="0.8"/>
<line x1="95.80" x2="95.80" y1="499.80" y2="498.30" stroke="#8a8a8a" stroke-width="0.8"/>
<line x1="125.90" x2="125.90" y1="499.80" y2="498.30" stroke="#8a8a8a" stroke-width="0.8"/>
<text y="378.10" class="ti" x="53.60" letter-spacing="0.3" font-size="15.5px">(g)</text>
<text y="378.10" class="ti" x="76.80" font-style="italic" font-size="16px">f</text>
<text y="379.20" class="ti eq" x="85.60">=</text>
<text y="378.10" class="ti" x="96.20" font-size="15px" textLength="40.30" lengthAdjust="spacingAndGlyphs">283Hz</text>
<text x="35.60" y="517.30" class="tk" text-anchor="middle">-40</text>
<text x="65.70" y="517.30" class="tk" text-anchor="middle">-20</text>
<text x="95.80" y="517.30" class="tk" text-anchor="middle">0</text>
<text x="125.90" y="517.30" class="tk" text-anchor="middle">20</text>
<text x="156.00" y="517.30" class="tk" text-anchor="middle">40</text>
<text x="31.30" y="414.70" class="tk" text-anchor="end">20</text>
<text x="31.30" y="441.40" class="tk" text-anchor="end">40</text>
<text x="31.30" y="468.10" class="tk" text-anchor="end">60</text>
<text x="31.30" y="494.80" class="tk" text-anchor="end">80</text>
<linearGradient id="gh" x1="0" x2="1" y1="0" y2="0"><stop offset="0.0042" stop-color="#000000"/><stop offset="0.0125" stop-color="#000000"/><stop offset="0.0208" stop-color="#000000"/><stop offset="0.0291" stop-color="#000000"/><stop offset="0.0374" stop-color="#000000"/><stop offset="0.0457" stop-color="#000000"/><stop offset="0.0540" stop-color="#000000"/><stop offset="0.0623" stop-color="#000000"/><stop offset="0.0706" stop-color="#000000"/><stop offset="0.0789" stop-color="#000000"/><stop offset="0.0872" stop-color="#000000"/><stop offset="0.0955" stop-color="#000000"/><stop offset="0.1038" stop-color="#000000"/><stop offset="0.1121" stop-color="#000000"/><stop offset="0.1204" stop-color="#000000"/><stop offset="0.1287" stop-color="#000000"/><stop offset="0.1370" stop-color="#000000"/><stop offset="0.1453" stop-color="#101010"/><stop offset="0.1537" stop-color="#1a1a1a"/><stop offset="0.1620" stop-color="#1b1b1b"/><stop offset="0.1703" stop-color="#1c1c1c"/><stop offset="0.1786" stop-color="#1d1d1d"/><stop offset="0.1869" stop-color="#1e1e1e"/><stop offset="0.1952" stop-color="#1f1f1f"/><stop offset="0.2035" stop-color="#202020"/><stop offset="0.2118" stop-color="#202020"/><stop offset="0.2201" stop-color="#202020"/><stop offset="0.2284" stop-color="#959595"/><stop offset="0.2367" stop-color="#9e9e9e"/><stop offset="0.2450" stop-color="#bfbfbf"/><stop offset="0.2533" stop-color="#ababab"/><stop offset="0.2616" stop-color="#999999"/><stop offset="0.2699" stop-color="#999999"/><stop offset="0.2782" stop-color="#999999"/><stop offset="0.2865" stop-color="#999999"/><stop offset="0.2949" stop-color="#b3b3b3"/><stop offset="0.3032" stop-color="#efefef"/><stop offset="0.3115" stop-color="#d7d7d7"/><stop offset="0.3198" stop-color="#cbcbcb"/><stop offset="0.3281" stop-color="#cbcbcb"/><stop offset="0.3364" stop-color="#cbcbcb"/><stop offset="0.3447" stop-color="#ededed"/><stop offset="0.3530" stop-color="#b3b3b3"/><stop offset="0.3613" stop-color="#b9b9b9"/><stop offset="0.3696" stop-color="#bfbfbf"/><stop offset="0.3779" stop-color="#dbdbdb"/><stop offset="0.3862" stop-color="#ffffff"/><stop offset="0.3945" stop-color="#f7f7f7"/><stop offset="0.4028" stop-color="#eeeeee"/><stop offset="0.4111" stop-color="#e2e2e2"/><stop offset="0.4194" stop-color="#e4e4e4"/><stop offset="0.4277" stop-color="#919191"/><stop offset="0.4360" stop-color="#8b8b8b"/><stop offset="0.4444" stop-color="#868686"/><stop offset="0.4527" stop-color="#141414"/><stop offset="0.4610" stop-color="#151515"/><stop offset="0.4693" stop-color="#171717"/><stop offset="0.4776" stop-color="#181818"/><stop offset="0.4859" stop-color="#1a1a1a"/><stop offset="0.4942" stop-color="#1b1b1b"/><stop offset="0.5025" stop-color="#1c1c1c"/><stop offset="0.5108" stop-color="#1e1e1e"/><stop offset="0.5191" stop-color="#1f1f1f"/><stop offset="0.5274" stop-color="#8a8a8a"/><stop offset="0.5357" stop-color="#9b9b9b"/><stop offset="0.5440" stop-color="#9e9e9e"/><stop offset="0.5523" stop-color="#cfcfcf"/><stop offset="0.5606" stop-color="#d7d7d7"/><stop offset="0.5689" stop-color="#dadada"/><stop offset="0.5772" stop-color="#e3e3e3"/><stop offset="0.5855" stop-color="#f5f5f5"/><stop offset="0.5939" stop-color="#f7f7f7"/><stop offset="0.6022" stop-color="#e7e7e7"/><stop offset="0.6105" stop-color="#a6a6a6"/><stop offset="0.6188" stop-color="#a6a6a6"/><stop offset="0.6271" stop-color="#a8a8a8"/><stop offset="0.6354" stop-color="#bfbfbf"/><stop offset="0.6437" stop-color="#a0a0a0"/><stop offset="0.6520" stop-color="#a2a2a2"/><stop offset="0.6603" stop-color="#a5a5a5"/><stop offset="0.6686" stop-color="#eeeeee"/><stop offset="0.6769" stop-color="#f1f1f1"/><stop offset="0.6852" stop-color="#f4f4f4"/><stop offset="0.6935" stop-color="#f7f7f7"/><stop offset="0.7018" stop-color="#f1f1f1"/><stop offset="0.7101" stop-color="#cccccc"/><stop offset="0.7184" stop-color="#b2b2b2"/><stop offset="0.7267" stop-color="#9c9c9c"/><stop offset="0.7350" stop-color="#8f8f8f"/><stop offset="0.7434" stop-color="#888888"/><stop offset="0.7517" stop-color="#1a1a1a"/><stop offset="0.7600" stop-color="#1a1a1a"/><stop offset="0.7683" stop-color="#1b1b1b"/><stop offset="0.7766" stop-color="#1b1b1b"/><stop offset="0.7849" stop-color="#1c1c1c"/><stop offset="0.7932" stop-color="#1d1d1d"/><stop offset="0.8015" stop-color="#1d1d1d"/><stop offset="0.8098" stop-color="#1e1e1e"/><stop offset="0.8181" stop-color="#1e1e1e"/><stop offset="0.8264" stop-color="#1f1f1f"/><stop offset="0.8347" stop-color="#202020"/><stop offset="0.8430" stop-color="#323232"/><stop offset="0.8513" stop-color="#3a3a3a"/><stop offset="0.8596" stop-color="#3a3a3a"/><stop offset="0.8679" stop-color="#3b3b3b"/><stop offset="0.8762" stop-color="#3c3c3c"/><stop offset="0.8846" stop-color="#3c3c3c"/><stop offset="0.8929" stop-color="#3b3b3b"/><stop offset="0.9012" stop-color="#3b3b3b"/><stop offset="0.9095" stop-color="#3a3a3a"/><stop offset="0.9178" stop-color="#3a3a3a"/><stop offset="0.9261" stop-color="#333333"/><stop offset="0.9344" stop-color="#131313"/><stop offset="0.9427" stop-color="#131313"/><stop offset="0.9510" stop-color="#131313"/><stop offset="0.9593" stop-color="#131313"/><stop offset="0.9676" stop-color="#131313"/><stop offset="0.9759" stop-color="#131313"/><stop offset="0.9842" stop-color="#131313"/><stop offset="0.9925" stop-color="#131313"/><stop offset="1.0000" stop-color="#131313"/></linearGradient>
<rect x="192.40" y="382.30" width="120.40" height="117.50" fill="url(#gh)" filter="url(#tex)"/>
<g clip-path="url(#ch)">
<rect x="223.70" y="382.30" width="4.00" height="117.50" fill="#ffffff" fill-opacity="0.35"/>
<rect x="230.10" y="382.30" width="3.00" height="117.50" fill="#ffffff" fill-opacity="0.45"/>
<rect x="240.60" y="382.30" width="2.00" height="117.50" fill="#ffffff" fill-opacity="0.20"/>
<rect x="265.00" y="382.30" width="2.80" height="117.50" fill="#ffffff" fill-opacity="0.45"/>
<rect x="269.80" y="382.30" width="2.40" height="117.50" fill="#ffffff" fill-opacity="0.30"/>
<path d="M222.1 382.3 L222.2 384.3 L222.2 386.3 L222.3 388.3 L222.3 390.3 L222.1 392.3 L222.0 394.3 L222.0 396.3 L222.0 398.3 L222.0 400.3 L222.0 402.3 L222.1 404.3 L222.0 406.3 L221.8 408.3 L221.8 410.3 L221.8 412.3 L221.7 414.3 L221.8 416.3 L221.9 418.3 L222.0 420.3 L222.1 422.3 L222.3 424.3 L222.3 426.3 L222.2 428.3 L222.1 430.3 L222.1 432.3 L222.0 434.3 L222.0 436.3 L222.1 438.3 L222.1 440.3 L222.0 442.3 L222.0 444.3 L221.9 446.3 L221.8 448.3 L221.7 450.3 L221.7 452.3 L221.8 454.3 L221.8 456.3 L222.0 458.3 L222.2 460.3 L222.2 462.3 L222.2 464.3 L222.2 466.3 L222.2 468.3 L222.1 470.3 L222.0 472.3 L222.1 474.3 L222.1 476.3 L222.1 478.3 L222.1 480.3 L222.1 482.3 L221.9 484.3 L221.8 486.3 L221.8 488.3 L221.7 490.3 L221.7 492.3 L221.8 494.3 L222.0 496.3 L222.0 498.3" fill="none" stroke="#161616" stroke-width="1.8"/>
<path d="M223.3 399.9 L223.4 401.9 L223.4 403.9 L223.2 405.9 L223.1 407.9 L223.1 409.9 L223.0 411.9 L223.0 413.9 L223.2 415.9 L223.5 417.9 L223.6 419.9 L223.7 421.9 L223.9 423.9 L223.8 425.9 L223.6 427.9 L223.6 429.9 L223.5 431.9 L223.4 433.9 L223.4 435.9 L223.5 437.9 L223.5 439.9 L223.3 441.9 L223.3 443.9 L223.2 445.9" fill="none" stroke="#161616" stroke-width="1.8"/>
<path d="M229.4 382.3 L229.3 384.3 L229.3 386.3 L229.3 388.3 L229.1 390.3 L229.0 392.3 L229.1 394.3 L229.1 396.3 L229.1 398.3 L229.1 400.3 L229.1 402.3 L228.9 404.3 L228.8 406.3 L228.9 408.3 L228.9 410.3 L228.9 412.3 L229.0 414.3 L229.2 416.3 L229.3 418.3 L229.3 420.3 L229.4 422.3 L229.3 424.3 L229.2 426.3 L229.1 428.3 L229.2 430.3 L229.1 432.3 L229.1 434.3 L229.2 436.3 L229.1 438.3 L229.0 440.3 L229.0 442.3 L228.9 444.3 L228.8 446.3 L228.8 448.3 L228.9 450.3 L229.0 452.3 L229.1 454.3 L229.3 456.3 L229.4 458.3 L229.3 460.3 L229.3 462.3 L229.3 464.3 L229.2 466.3 L229.1 468.3 L229.1 470.3 L229.2 472.3 L229.2 474.3 L229.1 476.3 L229.1 478.3 L229.0 480.3 L228.8 482.3 L228.8 484.3 L228.8 486.3 L228.8 488.3 L228.9 490.3 L229.1 492.3 L229.2 494.3 L229.3 496.3 L229.3 498.3" fill="none" stroke="#5c0a16" stroke-width="2.4"/>
<path d="M234.3 382.3 L234.4 384.3 L234.4 386.3 L234.5 388.3 L234.5 390.3 L234.3 392.3 L234.2 394.3 L234.2 396.3 L234.2 398.3 L234.2 400.3 L234.2 402.3 L234.3 404.3 L234.1 406.3 L234.0 408.3 L234.0 410.3 L234.0 412.3 L233.9 414.3 L234.0 416.3 L234.2 418.3 L234.2 420.3 L234.3 422.3 L234.5 424.3 L234.5 426.3 L234.4 428.3 L234.3 430.3 L234.3 432.3 L234.2 434.3 L234.2 436.3 L234.3 438.3 L234.3 440.3 L234.2 442.3 L234.2 444.3 L234.1 446.3 L234.0 448.3 L233.9 450.3 L233.9 452.3 L234.0 454.3 L234.0 456.3 L234.2 458.3 L234.4 460.3 L234.4 462.3 L234.4 464.3 L234.4 466.3 L234.4 468.3 L234.2 470.3 L234.3 472.3 L234.3 474.3 L234.3 476.3 L234.3 478.3 L234.3 480.3 L234.2 482.3 L234.1 484.3 L234.0 486.3 L234.0 488.3 L233.9 490.3 L233.9 492.3 L234.1 494.3 L234.2 496.3 L234.2 498.3" fill="none" stroke="#5c0a16" stroke-width="2.4"/>
<path d="M239.3 382.3 L239.4 384.3 L239.3 386.3 L239.4 388.3 L239.3 390.3 L239.2 392.3 L239.1 394.3 L239.1 396.3 L239.1 398.3 L239.1 400.3 L239.1 402.3 L239.1 404.3 L239.0 406.3 L238.9 408.3 L238.9 410.3 L238.8 412.3 L238.8 414.3 L238.9 416.3 L239.1 418.3 L239.2 420.3 L239.3 422.3 L239.4 424.3 L239.4 426.3 L239.2 428.3 L239.2 430.3 L239.2 432.3 L239.1 434.3 L239.1 436.3 L239.2 438.3 L239.2 440.3 L239.1 442.3 L239.1 444.3 L239.0 446.3 L238.8 448.3 L238.8 450.3 L238.8 452.3 L238.9 454.3 L239.0 456.3 L239.1 458.3 L239.3 460.3 L239.3 462.3 L239.3 464.3 L239.3 466.3 L239.2 468.3 L239.1 470.3 L239.2 472.3 L239.2 474.3 L239.2 476.3 L239.2 478.3 L239.2 480.3 L239.1 482.3 L238.9 484.3 L238.9 486.3 L238.8 488.3 L238.8 490.3 L238.8 492.3 L239.0 494.3 L239.1 496.3 L239.2 498.3" fill="none" stroke="#5c0a16" stroke-width="2.4"/>
<path d="M242.8 382.3 L242.8 384.3 L242.8 386.3 L242.8 388.3 L242.8 390.3 L242.7 392.3 L242.8 394.3 L242.8 396.3 L242.8 398.3 L243.0 400.3 L243.1 402.3 L243.1 404.3 L243.1 406.3 L243.1 408.3 L243.0 410.3 L242.9 412.3 L242.9 414.3 L242.9 416.3 L242.8 418.3 L242.8 420.3 L242.9 422.3 L242.9 424.3 L242.8 426.3 L242.8 428.3 L242.8 430.3 L242.7 432.3 L242.7 434.3 L242.9 436.3 L243.0 438.3 L243.0 440.3 L243.1 442.3 L243.2 444.3 L243.1 446.3 L243.0 448.3 L243.0 450.3 L242.9 452.3 L242.8 454.3 L242.9 456.3 L242.9 458.3 L242.9 460.3 L242.8 462.3 L242.9 464.3 L242.8 466.3 L242.7 468.3 L242.7 470.3 L242.8 472.3 L242.8 474.3 L242.9 476.3 L243.1 478.3 L243.1 480.3 L243.1 482.3 L243.1 484.3 L243.1 486.3 L242.9 488.3 L242.9 490.3 L242.9 492.3 L242.9 494.3 L242.9 496.3 L242.9 498.3" fill="none" stroke="#5c0a16" stroke-width="2.4"/>
<path d="M259.0 382.3 L259.0 384.3 L259.0 386.3 L259.0 388.3 L259.1 390.3 L259.2 392.3 L259.2 394.3 L259.3 396.3 L259.4 398.3 L259.3 400.3 L259.2 402.3 L259.1 404.3 L259.1 406.3 L259.0 408.3 L259.0 410.3 L259.1 412.3 L259.0 414.3 L259.0 416.3 L259.1 418.3 L259.0 420.3 L258.9 422.3 L259.0 424.3 L259.0 426.3 L259.1 428.3 L259.1 430.3 L259.3 432.3 L259.3 434.3 L259.3 436.3 L259.3 438.3 L259.3 440.3 L259.1 442.3 L259.0 444.3 L259.1 446.3 L259.0 448.3 L259.0 450.3 L259.1 452.3 L259.1 454.3 L259.0 456.3 L259.0 458.3 L259.0 460.3 L258.9 462.3 L258.9 464.3 L259.0 466.3 L259.2 468.3 L259.2 470.3 L259.3 472.3 L259.4 474.3 L259.3 476.3 L259.2 478.3 L259.2 480.3 L259.1 482.3 L259.0 484.3 L259.0 486.3 L259.1 488.3 L259.1 490.3 L259.0 492.3 L259.0 494.3 L259.0 496.3 L258.9 498.3" fill="none" stroke="#5c0a16" stroke-width="2.4"/>
<path d="M263.7 382.3 L263.6 384.3 L263.6 386.3 L263.5 388.3 L263.4 390.3 L263.3 392.3 L263.4 394.3 L263.4 396.3 L263.3 398.3 L263.4 400.3 L263.3 402.3 L263.2 404.3 L263.1 406.3 L263.2 408.3 L263.2 410.3 L263.2 412.3 L263.4 414.3 L263.6 416.3 L263.6 418.3 L263.6 420.3 L263.7 422.3 L263.6 424.3 L263.4 426.3 L263.4 428.3 L263.4 430.3 L263.4 432.3 L263.4 434.3 L263.5 436.3 L263.4 438.3 L263.3 440.3 L263.2 442.3 L263.2 444.3 L263.1 446.3 L263.1 448.3 L263.3 450.3 L263.4 452.3 L263.5 454.3 L263.6 456.3 L263.7 458.3 L263.6 460.3 L263.5 462.3 L263.6 464.3 L263.5 466.3 L263.4 468.3 L263.5 470.3 L263.5 472.3 L263.4 474.3 L263.4 476.3 L263.4 478.3 L263.2 480.3 L263.1 482.3 L263.1 484.3 L263.2 486.3 L263.2 488.3 L263.3 490.3 L263.5 492.3 L263.6 494.3 L263.6 496.3 L263.6 498.3" fill="none" stroke="#5c0a16" stroke-width="2.4"/>
<path d="M268.7 382.3 L268.7 384.3 L268.7 386.3 L268.8 388.3 L268.9 390.3 L269.0 392.3 L269.0 394.3 L269.1 396.3 L269.0 398.3 L268.8 400.3 L268.8 402.3 L268.8 404.3 L268.7 406.3 L268.7 408.3 L268.7 410.3 L268.7 412.3 L268.7 414.3 L268.7 416.3 L268.7 418.3 L268.7 420.3 L268.6 422.3 L268.7 424.3 L268.8 426.3 L268.9 428.3 L269.0 430.3 L269.1 432.3 L269.0 434.3 L269.0 436.3 L268.9 438.3 L268.8 440.3" fill="none" stroke="#161616" stroke-width="1.8"/>
<path d="M268.7 441.1 L268.7 443.1 L268.9 445.1 L269.0 447.1 L269.0 449.1 L269.0 451.1 L269.0 453.1 L268.9 455.1 L268.8 457.1 L268.8 459.1 L268.8 461.1 L268.8 463.1 L268.8 465.1 L268.8 467.1 L268.8 469.1 L268.7 471.1 L268.6 473.1 L268.6 475.1 L268.6 477.1 L268.6 479.1 L268.8 481.1 L268.9 483.1 L268.9 485.1 L269.0 487.1 L269.0 489.1 L268.9 491.1 L268.9 493.1 L268.9 495.1 L268.8 497.1 L268.8 499.1" fill="none" stroke="#141414" stroke-width="1.7" stroke-dasharray="4 3"/>
<path d="M273.4 382.3 L273.4 384.3 L273.4 386.3 L273.3 388.3 L273.4 390.3 L273.5 392.3 L273.5 394.3 L273.6 396.3 L273.7 398.3 L273.8 400.3 L273.7 402.3 L273.6 404.3 L273.6 406.3 L273.5 408.3 L273.4 410.3 L273.4 412.3 L273.4 414.3 L273.4 416.3 L273.4 418.3 L273.5 420.3 L273.4 422.3 L273.3 424.3 L273.4 426.3 L273.4 428.3 L273.4 430.3 L273.5 432.3 L273.6 434.3 L273.7 436.3 L273.7 438.3 L273.7 440.3 L273.7 442.3 L273.6 444.3 L273.5 446.3 L273.5 448.3 L273.4 450.3 L273.4 452.3 L273.5 454.3 L273.5 456.3 L273.4 458.3 L273.4 460.3 L273.4 462.3 L273.3 464.3 L273.3 466.3 L273.4 468.3 L273.5 470.3 L273.5 472.3 L273.7 474.3 L273.8 476.3 L273.7 478.3 L273.6 480.3 L273.6 482.3 L273.6 484.3 L273.5 486.3 L273.5 488.3 L273.5 490.3 L273.5 492.3 L273.4 494.3 L273.5 496.3 L273.4 498.3" fill="none" stroke="#5c0a16" stroke-width="2.4"/>
<path d="M276.5 382.3 L276.5 384.3 L276.5 386.3 L276.5 388.3 L276.7 390.3 L276.7 392.3 L276.8 394.3 L276.8 396.3 L276.9 398.3 L276.7 400.3 L276.7 402.3 L276.6 404.3 L276.5 406.3 L276.5 408.3 L276.5 410.3 L276.6 412.3 L276.5 414.3 L276.5 416.3 L276.5 418.3 L276.5 420.3 L276.4 422.3 L276.5 424.3 L276.5 426.3 L276.6 428.3 L276.7 430.3 L276.8 432.3 L276.8 434.3 L276.8 436.3 L276.8 438.3 L276.7 440.3 L276.6 442.3 L276.5 444.3 L276.6 446.3 L276.5 448.3 L276.5 450.3 L276.6 452.3 L276.6 454.3 L276.5 456.3 L276.5 458.3 L276.5 460.3 L276.4 462.3 L276.4 464.3 L276.6 466.3 L276.7 468.3 L276.7 470.3 L276.8 472.3 L276.9 474.3 L276.8 476.3 L276.7 478.3 L276.7 480.3 L276.6 482.3 L276.5 484.3 L276.5 486.3 L276.6 488.3 L276.6 490.3 L276.5 492.3 L276.5 494.3 L276.5 496.3 L276.4 498.3" fill="none" stroke="#5c0a16" stroke-width="2.4"/>
<path d="M279.4 423.4 L279.5 425.4 L279.6 427.4 L279.7 429.4 L279.9 431.4 L279.9 433.4 L279.9 435.4 L279.8 437.4 L279.8 439.4 L279.6 441.4 L279.5 443.4 L279.5 445.4 L279.5 447.4 L279.5 449.4 L279.5 451.4 L279.6 453.4 L279.5 455.4 L279.4 457.4 L279.4 459.4 L279.4 461.4 L279.4 463.4 L279.5 465.4 L279.7 467.4 L279.8 469.4 L279.8 471.4 L279.9 473.4 L279.9 475.4 L279.7 477.4 L279.7 479.4 L279.6 481.4 L279.5 483.4 L279.5 485.4 L279.6 487.4" fill="none" stroke="#141414" stroke-width="1.7" stroke-dasharray="4 3"/>
<ellipse cx="294.7" cy="420.4" rx="2.4" ry="3.4" fill="#cadc78" fill-opacity="0.75"/>
<ellipse cx="295.1" cy="419.2" rx="2.8" ry="1.7" fill="#cadc78" fill-opacity="0.75"/>
<ellipse cx="297.5" cy="423.5" rx="2.5" ry="3.4" fill="#cadc78" fill-opacity="0.75"/>
<ellipse cx="295.8" cy="466.4" rx="2.6" ry="3.2" fill="#cadc78" fill-opacity="0.75"/>
<ellipse cx="298.8" cy="485.8" rx="2.0" ry="2.3" fill="#cadc78" fill-opacity="0.75"/>
<ellipse cx="296.2" cy="470.6" rx="2.2" ry="2.0" fill="#cadc78" fill-opacity="0.75"/>
<ellipse cx="295.8" cy="464.4" rx="2.4" ry="2.9" fill="#cadc78" fill-opacity="0.75"/>
<ellipse cx="297.5" cy="439.7" rx="1.7" ry="2.9" fill="#cadc78" fill-opacity="0.75"/>
<ellipse cx="294.6" cy="437.6" rx="2.6" ry="2.9" fill="#cadc78" fill-opacity="0.75"/>
<path d="M302.0 382.3 L302.1 384.3 L302.0 386.3 L302.0 388.3 L301.8 390.3 L301.4 392.3 L301.4 394.3 L301.5 396.3 L301.4 398.3 L301.3 400.3 L301.4 402.3 L301.4 404.3 L301.0 406.3 L300.8 408.3 L300.8 410.3 L300.7 412.3 L300.8 414.3 L301.2 416.3 L301.6 418.3 L301.7 420.3 L302.0 422.3 L302.2 424.3 L301.9 426.3 L301.7 428.3 L301.7 430.3 L301.6 432.3 L301.4 434.3 L301.5 436.3 L301.6 438.3 L301.5 440.3 L301.2 442.3 L301.2 444.3 L301.0 446.3 L300.6 448.3 L300.6 450.3 L300.9 452.3" fill="none" stroke="#141414" stroke-width="1.4" stroke-dasharray="4 3"/>
<path d="M294.5 399.9 L294.5 401.9 L294.2 403.9 L294.2 405.9 L294.3 407.9 L294.3 409.9 L294.4 411.9 L294.7 413.9 L295.0 415.9 L295.0 417.9 L295.0 419.9 L295.0 421.9 L294.8 423.9 L294.6 425.9 L294.6 427.9 L294.7 429.9 L294.6 431.9 L294.6 433.9" fill="none" stroke="#141414" stroke-width="1.4" stroke-dasharray="4 3"/>
</g>
<rect x="192.40" y="382.30" width="120.40" height="117.50" fill="none" stroke="#ababab" stroke-width="1.1"/>
<line x1="192.40" x2="193.90" y1="410.30" y2="410.30" stroke="#8a8a8a" stroke-width="0.8"/>
<line x1="192.40" x2="193.90" y1="437.00" y2="437.00" stroke="#8a8a8a" stroke-width="0.8"/>
<line x1="192.40" x2="193.90" y1="463.70" y2="463.70" stroke="#8a8a8a" stroke-width="0.8"/>
<line x1="192.40" x2="193.90" y1="490.40" y2="490.40" stroke="#8a8a8a" stroke-width="0.8"/>
<line x1="222.50" x2="222.50" y1="499.80" y2="498.30" stroke="#8a8a8a" stroke-width="0.8"/>
<line x1="252.60" x2="252.60" y1="499.80" y2="498.30" stroke="#8a8a8a" stroke-width="0.8"/>
<line x1="282.70" x2="282.70" y1="499.80" y2="498.30" stroke="#8a8a8a" stroke-width="0.8"/>
<text y="378.10" class="ti" x="210.40" letter-spacing="0.3" font-size="15.5px">(h)</text>
<text y="378.10" class="ti" x="233.60" font-style="italic" font-size="16px">f</text>
<text y="379.20" class="ti eq" x="242.40">=</text>
<text y="378.10" class="ti" x="253.00" font-size="15px" textLength="40.30" lengthAdjust="spacingAndGlyphs">338Hz</text>
<text x="192.40" y="517.30" class="tk" text-anchor="middle">-40</text>
<text x="222.50" y="517.30" class="tk" text-anchor="middle">-20</text>
<text x="252.60" y="517.30" class="tk" text-anchor="middle">0</text>
<text x="282.70" y="517.30" class="tk" text-anchor="middle">20</text>
<text x="312.80" y="517.30" class="tk" text-anchor="middle">40</text>
<text x="188.10" y="414.70" class="tk" text-anchor="end">20</text>
<text x="188.10" y="441.40" class="tk" text-anchor="end">40</text>
<text x="188.10" y="468.10" class="tk" text-anchor="end">60</text>
<text x="188.10" y="494.80" class="tk" text-anchor="end">80</text>
<linearGradient id="gi" x1="0" x2="1" y1="0" y2="0"><stop offset="0.0042" stop-color="#000000"/><stop offset="0.0125" stop-color="#000000"/><stop offset="0.0208" stop-color="#000000"/><stop offset="0.0291" stop-color="#000000"/><stop offset="0.0374" stop-color="#000000"/><stop offset="0.0457" stop-color="#000000"/><stop offset="0.0540" stop-color="#000000"/><stop offset="0.0623" stop-color="#000000"/><stop offset="0.0706" stop-color="#000000"/><stop offset="0.0789" stop-color="#000000"/><stop offset="0.0872" stop-color="#000000"/><stop offset="0.0955" stop-color="#000000"/><stop offset="0.1038" stop-color="#060606"/><stop offset="0.1121" stop-color="#2d2d2d"/><stop offset="0.1204" stop-color="#2d2d2d"/><stop offset="0.1287" stop-color="#2e2e2e"/><stop offset="0.1370" stop-color="#2e2e2e"/><stop offset="0.1453" stop-color="#2e2e2e"/><stop offset="0.1537" stop-color="#2f2f2f"/><stop offset="0.1620" stop-color="#2f2f2f"/><stop offset="0.1703" stop-color="#303030"/><stop offset="0.1786" stop-color="#303030"/><stop offset="0.1869" stop-color="#313131"/><stop offset="0.1952" stop-color="#313131"/><stop offset="0.2035" stop-color="#313131"/><stop offset="0.2118" stop-color="#323232"/><stop offset="0.2201" stop-color="#323232"/><stop offset="0.2284" stop-color="#333333"/><stop offset="0.2367" stop-color="#898989"/><stop offset="0.2450" stop-color="#bdbdbd"/><stop offset="0.2533" stop-color="#b1b1b1"/><stop offset="0.2616" stop-color="#adadad"/><stop offset="0.2699" stop-color="#aeaeae"/><stop offset="0.2782" stop-color="#afafaf"/><stop offset="0.2865" stop-color="#b1b1b1"/><stop offset="0.2949" stop-color="#b2b2b2"/><stop offset="0.3032" stop-color="#b2b2b2"/><stop offset="0.3115" stop-color="#b2b2b2"/><stop offset="0.3198" stop-color="#b2b2b2"/><stop offset="0.3281" stop-color="#b2b2b2"/><stop offset="0.3364" stop-color="#b2b2b2"/><stop offset="0.3447" stop-color="#b5b5b5"/><stop offset="0.3530" stop-color="#bbbbbb"/><stop offset="0.3613" stop-color="#c0c0c0"/><stop offset="0.3696" stop-color="#d1d1d1"/><stop offset="0.3779" stop-color="#e9e9e9"/><stop offset="0.3862" stop-color="#e9e9e9"/><stop offset="0.3945" stop-color="#ededed"/><stop offset="0.4028" stop-color="#f4f4f4"/><stop offset="0.4111" stop-color="#a6a6a6"/><stop offset="0.4194" stop-color="#0d0d0d"/><stop offset="0.4277" stop-color="#0c0c0c"/><stop offset="0.4360" stop-color="#0c0c0c"/><stop offset="0.4444" stop-color="#0b0b0b"/><stop offset="0.4527" stop-color="#0b0b0b"/><stop offset="0.4610" stop-color="#0a0a0a"/><stop offset="0.4693" stop-color="#0a0a0a"/><stop offset="0.4776" stop-color="#0a0a0a"/><stop offset="0.4859" stop-color="#090909"/><stop offset="0.4942" stop-color="#090909"/><stop offset="0.5025" stop-color="#080808"/><stop offset="0.5108" stop-color="#080808"/><stop offset="0.5191" stop-color="#070707"/><stop offset="0.5274" stop-color="#070707"/><stop offset="0.5357" stop-color="#060606"/><stop offset="0.5440" stop-color="#b6b6b6"/><stop offset="0.5523" stop-color="#d5d5d5"/><stop offset="0.5606" stop-color="#ededed"/><stop offset="0.5689" stop-color="#f0f0f0"/><stop offset="0.5772" stop-color="#f4f4f4"/><stop offset="0.5855" stop-color="#e5e5e5"/><stop offset="0.5939" stop-color="#b4b4b4"/><stop offset="0.6022" stop-color="#b6b6b6"/><stop offset="0.6105" stop-color="#b8b8b8"/><stop offset="0.6188" stop-color="#bababa"/><stop offset="0.6271" stop-color="#bcbcbc"/><stop offset="0.6354" stop-color="#bdbdbd"/><stop offset="0.6437" stop-color="#bfbfbf"/><stop offset="0.6520" stop-color="#c1c1c1"/><stop offset="0.6603" stop-color="#c2c2c2"/><stop offset="0.6686" stop-color="#dcdcdc"/><stop offset="0.6769" stop-color="#ededed"/><stop offset="0.6852" stop-color="#ededed"/><stop offset="0.6935" stop-color="#ededed"/><stop offset="0.7018" stop-color="#939393"/><stop offset="0.7101" stop-color="#8e8e8e"/><stop offset="0.7184" stop-color="#393939"/><stop offset="0.7267" stop-color="#060606"/><stop offset="0.7350" stop-color="#060606"/><stop offset="0.7434" stop-color="#060606"/><stop offset="0.7517" stop-color="#060606"/><stop offset="0.7600" stop-color="#060606"/><stop offset="0.7683" stop-color="#060606"/><stop offset="0.7766" stop-color="#060606"/><stop offset="0.7849" stop-color="#060606"/><stop offset="0.7932" stop-color="#060606"/><stop offset="0.8015" stop-color="#060606"/><stop offset="0.8098" stop-color="#404040"/><stop offset="0.8181" stop-color="#404040"/><stop offset="0.8264" stop-color="#404040"/><stop offset="0.8347" stop-color="#404040"/><stop offset="0.8430" stop-color="#404040"/><stop offset="0.8513" stop-color="#404040"/><stop offset="0.8596" stop-color="#404040"/><stop offset="0.8679" stop-color="#404040"/><stop offset="0.8762" stop-color="#404040"/><stop offset="0.8846" stop-color="#404040"/><stop offset="0.8929" stop-color="#404040"/><stop offset="0.9012" stop-color="#404040"/><stop offset="0.9095" stop-color="#404040"/><stop offset="0.9178" stop-color="#404040"/><stop offset="0.9261" stop-color="#404040"/><stop offset="0.9344" stop-color="#404040"/><stop offset="0.9427" stop-color="#404040"/><stop offset="0.9510" stop-color="#404040"/><stop offset="0.9593" stop-color="#404040"/><stop offset="0.9676" stop-color="#363636"/><stop offset="0.9759" stop-color="#2d2d2d"/><stop offset="0.9842" stop-color="#2d2d2d"/><stop offset="0.9925" stop-color="#2d2d2d"/><stop offset="1.0000" stop-color="#2d2d2d"/></linearGradient>
<rect x="350.40" y="382.30" width="120.40" height="117.50" fill="url(#gi)" filter="url(#tex)"/>
<g clip-path="url(#ci)">
<rect x="380.90" y="382.30" width="14.00" height="117.50" fill="#ffffff" fill-opacity="0.30"/>
<rect x="422.40" y="382.30" width="9.00" height="117.50" fill="#ffffff" fill-opacity="0.25"/>
<path d="M379.8 382.3 L379.8 384.3 L379.8 386.3 L379.7 388.3 L379.8 390.3 L380.1 392.3 L380.2 394.3 L380.3 396.3 L380.5 398.3 L380.5 400.3 L380.3 402.3 L380.2 404.3 L380.1 406.3 L379.8 408.3 L379.8 410.3 L379.9 412.3 L379.9 414.3 L379.8 416.3 L379.9 418.3 L379.9 420.3 L379.7 422.3 L379.7 424.3 L379.8 426.3 L379.8 428.3 L379.9 430.3 L380.1 432.3 L380.4 434.3 L380.4 436.3 L380.4 438.3 L380.4 440.3 L380.3 442.3 L380.0 444.3 L379.9 446.3 L379.9 448.3 L379.8 450.3 L379.8 452.3 L380.0 454.3 L379.9 456.3 L379.8 458.3 L379.8 460.3 L379.7 462.3 L379.6 464.3 L379.7 466.3 L379.9 468.3 L380.1 470.3 L380.2 472.3 L380.4 474.3 L380.5 476.3 L380.4 478.3 L380.2 480.3 L380.2 482.3 L380.0 484.3 L379.9 486.3 L379.9 488.3 L380.0 490.3 L379.9 492.3 L379.9 494.3 L379.9 496.3 L379.8 498.3" fill="none" stroke="#161616" stroke-width="1.8"/>
<path d="M384.6 382.3 L384.4 384.3 L384.5 386.3 L384.6 388.3 L384.1 390.3 L383.8 392.3 L384.1 394.3 L384.3 396.3 L384.4 398.3 L385.2 400.3 L386.0 402.3 L386.1 404.3 L386.1 406.3 L386.2 408.3 L385.8 410.3 L385.0 412.3 L384.8 414.3 L384.8 416.3 L384.4 418.3 L384.4 420.3 L384.8 422.3 L384.7 424.3 L384.2 426.3 L384.2 428.3 L384.1 430.3 L383.7 432.3 L383.9 434.3 L384.6 436.3 L385.2 438.3 L385.5 440.3 L386.1 442.3 L386.5 444.3 L386.0 446.3 L385.6 448.3 L385.5 450.3 L385.0 452.3 L384.5 454.3 L384.7 456.3 L385.0 458.3 L384.7 460.3 L384.6 462.3 L384.7 464.3 L384.2 466.3 L383.6 468.3 L383.7 470.3 L384.1 472.3 L384.2 474.3 L384.7 476.3 L385.7 478.3 L386.0 480.3 L386.0 482.3 L386.1 484.3 L386.0 486.3 L385.3 488.3 L384.9 490.3 L385.1 492.3 L384.9 494.3 L384.7 496.3 L385.0 498.3" fill="none" stroke="#161616" stroke-width="1.8"/>
<path d="M387.8 382.3 L387.9 384.3 L387.7 386.3 L387.6 388.3 L388.3 390.3 L388.9 392.3 L389.1 394.3 L389.6 396.3 L390.0 398.3 L389.6 400.3 L389.0 402.3 L388.8 404.3 L388.3 406.3 L387.7 408.3 L387.7 410.3 L388.1 412.3 L388.0 414.3 L387.9 416.3 L388.1 418.3 L388.0 420.3 L387.4 422.3 L387.4 424.3 L387.8 426.3 L388.0 428.3 L388.4 430.3 L389.3 432.3 L389.8 434.3 L389.6 436.3 L389.6 438.3 L389.5 440.3 L388.8 442.3 L388.2 444.3 L388.2 446.3 L388.1 448.3 L387.8 450.3 L388.0 452.3 L388.3 454.3 L388.0 456.3 L387.6 458.3 L387.7 460.3 L387.5 462.3 L387.3 464.3 L387.8 466.3 L388.6 468.3 L388.9 470.3 L389.3 472.3 L389.9 474.3 L389.8 476.3 L389.2 478.3 L388.9 480.3 L388.7 482.3 L388.2 484.3 L387.9 486.3 L388.3 488.3 L388.4 490.3 L388.0 492.3 L388.0 494.3 L388.0 496.3 L387.4 498.3" fill="none" stroke="#161616" stroke-width="1.8"/>
<path d="M391.9 382.3 L392.0 384.3 L391.8 386.3 L391.7 388.3 L392.2 390.3 L392.8 392.3 L393.0 394.3 L393.4 396.3 L393.9 398.3 L393.5 400.3 L393.0 402.3 L392.8 404.3 L392.4 406.3 L391.8 408.3 L391.8 410.3 L392.1 412.3 L392.0 414.3 L391.9 416.3 L392.1 418.3 L392.0 420.3 L391.6 422.3 L391.5 424.3 L391.9 426.3 L392.0 428.3 L392.3 430.3 L393.1 432.3 L393.6 434.3 L393.5 436.3 L393.5 438.3 L393.4 440.3 L392.8 442.3 L392.2 444.3 L392.2 446.3 L392.1 448.3 L391.9 450.3 L392.1 452.3 L392.4 454.3 L392.1 456.3 L391.7 458.3 L391.7 460.3 L391.6 462.3 L391.4 464.3 L391.8 466.3 L392.5 468.3 L392.8 470.3 L393.2 472.3 L393.7 474.3 L393.7 476.3 L393.1 478.3 L392.9 480.3 L392.7 482.3 L392.2 484.3 L392.0 486.3 L392.3 488.3 L392.4 490.3 L392.1 492.3 L392.1 494.3 L392.1 496.3 L391.6 498.3" fill="none" stroke="#161616" stroke-width="1.8"/>
<path d="M396.8 382.3 L396.9 384.3 L396.7 386.3 L396.7 388.3 L396.9 390.3 L396.8 392.3 L396.7 394.3 L396.6 396.3 L396.6 398.3 L396.5 400.3 L396.6 402.3 L396.8 404.3 L397.0 406.3 L397.1 408.3 L397.3 410.3 L397.4 412.3 L397.3 414.3 L397.1 416.3 L397.1 418.3 L396.9 420.3 L396.8 422.3 L396.8 424.3 L396.9 426.3 L396.8 428.3 L396.8 430.3 L396.8 432.3 L396.7 434.3 L396.5 436.3 L396.5 438.3 L396.6 440.3 L396.7 442.3 L396.8 444.3 L397.2 446.3 L397.3 448.3 L397.3 450.3 L397.3 452.3 L397.3 454.3 L397.0 456.3 L396.9 458.3 L397.0 460.3 L396.9 462.3 L396.8 464.3 L396.9 466.3 L396.9 468.3 L396.7 470.3 L396.6 472.3 L396.6 474.3 L396.5 476.3 L396.4 478.3 L396.7 480.3 L396.9 482.3 L397.0 484.3 L397.2 486.3 L397.4 488.3 L397.3 490.3 L397.1 492.3 L397.1 494.3 L397.0 496.3 L396.9 498.3" fill="none" stroke="#5c0a16" stroke-width="2.4"/>
<path d="M418.7 382.3 L418.8 384.3 L418.7 386.3 L418.7 388.3 L418.9 390.3 L419.1 392.3 L419.1 394.3 L419.3 396.3 L419.4 398.3 L419.2 400.3 L419.0 402.3 L419.0 404.3 L418.8 406.3 L418.7 408.3 L418.7 410.3 L418.8 412.3 L418.8 414.3 L418.8 416.3 L418.8 418.3 L418.8 420.3 L418.6 422.3 L418.7 424.3 L418.8 426.3 L418.8 428.3 L418.9 430.3 L419.2 432.3 L419.3 434.3 L419.2 436.3 L419.2 438.3 L419.2 440.3 L418.9 442.3 L418.8 444.3 L418.8 446.3 L418.8 448.3 L418.7 450.3 L418.8 452.3 L418.9 454.3 L418.8 456.3 L418.7 458.3 L418.7 460.3 L418.6 462.3 L418.6 464.3 L418.8 466.3 L419.0 468.3 L419.1 470.3 L419.2 472.3 L419.3 474.3 L419.3 476.3 L419.1 478.3 L419.0 480.3 L419.0 482.3 L418.8 484.3 L418.8 486.3 L418.9 488.3 L418.9 490.3 L418.8 492.3 L418.8 494.3 L418.8 496.3 L418.6 498.3" fill="none" stroke="#5c0a16" stroke-width="2.4"/>
<path d="M423.1 382.3 L423.1 384.3 L423.2 386.3 L423.0 388.3 L422.8 390.3 L423.0 392.3 L423.3 394.3 L423.4 396.3 L423.7 398.3 L424.2 400.3 L424.2 402.3 L424.0 404.3 L424.0 406.3 L423.8 408.3 L423.3 410.3 L423.1 412.3 L423.2 414.3 L423.2 416.3 L423.1 418.3 L423.3 420.3 L423.3 422.3 L423.0 424.3 L422.9 426.3 L423.0 428.3 L422.9 430.3 L422.9 432.3 L423.4 434.3 L423.8 436.3 L423.9 438.3 L424.1 440.3 L424.3 442.3 L424.0 444.3 L423.6 446.3 L423.5 448.3 L423.4 450.3 L423.1 452.3 L423.2 454.3 L423.4 456.3 L423.3 458.3 L423.1 460.3 L423.1 462.3 L423.0 464.3 L422.7 466.3 L422.7 468.3 L423.1 470.3 L423.2 472.3 L423.5 474.3 L423.9 476.3 L424.2 478.3 L424.0 480.3 L424.0 482.3 L423.9 484.3 L423.6 486.3 L423.3 488.3 L423.4 490.3 L423.4 492.3 L423.3 494.3 L423.3 496.3 L423.4 498.3" fill="none" stroke="#161616" stroke-width="1.8"/>
<path d="M427.8 382.3 L427.6 384.3 L427.5 386.3 L427.1 388.3 L427.0 390.3 L427.4 392.3 L427.3 394.3 L427.0 396.3 L427.0 398.3 L426.8 400.3 L426.3 402.3 L426.3 404.3 L426.8 406.3 L427.1 408.3 L427.4 410.3 L428.2 412.3 L428.6 414.3 L428.4 416.3 L428.3 418.3 L428.2 420.3 L427.8 422.3 L427.2 424.3 L427.4 426.3 L427.5 428.3 L427.3 430.3 L427.3 432.3 L427.4 434.3 L427.0 436.3 L426.5 438.3 L426.4 440.3 L426.5 442.3 L426.3 444.3 L426.8 446.3 L427.6 448.3 L428.0 450.3 L428.2 452.3 L428.5 454.3 L428.5 456.3 L428.0 458.3 L427.7 460.3 L427.7 462.3 L427.5 464.3 L427.3 466.3 L427.6 468.3 L427.7 470.3 L427.2 472.3 L427.0 474.3 L426.9 476.3 L426.4 478.3 L426.0 480.3 L426.4 482.3 L426.9 484.3 L427.1 486.3 L427.7 488.3 L428.4 490.3 L428.4 492.3 L428.1 494.3 L428.2 496.3 L428.0 498.3" fill="none" stroke="#161616" stroke-width="1.8"/>
<path d="M432.8 382.3 L432.7 384.3 L432.7 386.3 L432.5 388.3 L432.6 390.3 L432.7 392.3 L432.6 394.3 L432.5 396.3 L432.5 398.3 L432.4 400.3 L432.3 402.3 L432.3 404.3 L432.6 406.3 L432.7 408.3 L432.8 410.3 L433.1 412.3 L433.2 414.3 L433.0 416.3 L433.0 418.3 L432.9 420.3 L432.7 422.3 L432.6 424.3 L432.7 426.3 L432.7 428.3 L432.6 430.3 L432.7 432.3 L432.7 434.3 L432.5 436.3 L432.3 438.3 L432.3 440.3 L432.4 442.3 L432.4 444.3 L432.6 446.3 L432.9 448.3 L433.0 450.3 L433.0 452.3 L433.1 454.3 L433.1 456.3 L432.8 458.3 L432.8 460.3 L432.8 462.3 L432.7 464.3 L432.7 466.3 L432.8 468.3 L432.7 470.3 L432.6 472.3 L432.5 474.3 L432.4 476.3 L432.2 478.3 L432.2 480.3 L432.4 482.3 L432.6 484.3 L432.7 486.3 L433.0 488.3 L433.1 490.3 L433.0 492.3 L433.0 494.3 L433.0 496.3 L432.8 498.3" fill="none" stroke="#5c0a16" stroke-width="2.4"/>
<path d="M380.8 403.4 q0.3 2.2 -1.8 4.4" fill="none" stroke="#161616" stroke-width="1.3"/>
<path d="M381.3 386.6 q-1.8 1.8 -1.1 3.6" fill="none" stroke="#161616" stroke-width="1.3"/>
<path d="M381.9 416.4 q-1.1 1.7 -1.6 3.5" fill="none" stroke="#161616" stroke-width="1.3"/>
<path d="M392.5 393.9 q1.1 1.7 -0.3 3.4" fill="none" stroke="#161616" stroke-width="1.3"/>
<path d="M387.8 424.0 q-1.3 1.7 -1.1 3.3" fill="none" stroke="#161616" stroke-width="1.3"/>
<path d="M380.9 425.9 q1.9 1.1 -1.0 2.3" fill="none" stroke="#161616" stroke-width="1.3"/>
<path d="M382.5 429.5 q-1.1 1.1 -0.1 2.2" fill="none" stroke="#161616" stroke-width="1.3"/>
<path d="M390.7 414.8 q1.5 1.8 1.1 3.6" fill="none" stroke="#161616" stroke-width="1.3"/>
<path d="M384.4 414.2 q1.3 1.6 -1.3 3.1" fill="none" stroke="#161616" stroke-width="1.3"/>
<path d="M387.6 425.4 q-0.1 1.3 0.1 2.5" fill="none" stroke="#161616" stroke-width="1.3"/>
<path d="M389.4 386.4 q-1.7 1.4 -0.1 2.9" fill="none" stroke="#161616" stroke-width="1.3"/>
<path d="M387.1 421.2 q0.4 1.5 0.5 3.1" fill="none" stroke="#161616" stroke-width="1.3"/>
<path d="M382.7 400.8 q-0.3 2.2 -0.9 4.5" fill="none" stroke="#161616" stroke-width="1.3"/>
<path d="M381.0 393.8 q0.9 1.2 1.0 2.4" fill="none" stroke="#161616" stroke-width="1.3"/>
<path d="M391.3 434.5 q0.1 1.8 1.5 3.5" fill="none" stroke="#161616" stroke-width="1.3"/>
<path d="M385.3 432.4 q-0.1 2.1 1.9 4.3" fill="none" stroke="#161616" stroke-width="1.3"/>
<path d="M390.0 403.8 q-0.8 2.2 1.9 4.5" fill="none" stroke="#161616" stroke-width="1.3"/>
<path d="M392.0 392.1 q-0.8 1.1 0.6 2.2" fill="none" stroke="#161616" stroke-width="1.3"/>
<path d="M386.7 416.1 q-0.9 1.1 0.6 2.1" fill="none" stroke="#161616" stroke-width="1.3"/>
<path d="M385.5 400.5 q-0.9 1.9 1.1 3.9" fill="none" stroke="#161616" stroke-width="1.3"/>
<path d="M381.2 398.1 q-1.4 1.5 -1.3 3.0" fill="none" stroke="#161616" stroke-width="1.3"/>
<path d="M389.8 419.3 q1.5 2.2 2.0 4.4" fill="none" stroke="#161616" stroke-width="1.3"/>
<path d="M384.7 390.8 q0.1 1.4 -0.1 2.8" fill="none" stroke="#161616" stroke-width="1.3"/>
<path d="M386.9 401.3 q-0.1 2.1 -1.0 4.1" fill="none" stroke="#161616" stroke-width="1.3"/>
<path d="M391.4 425.0 q1.2 1.4 -0.8 2.7" fill="none" stroke="#161616" stroke-width="1.3"/>
<path d="M380.0 389.3 q-1.3 1.7 0.1 3.3" fill="none" stroke="#161616" stroke-width="1.3"/>
<path d="M380.6 393.1 q1.9 2.0 -0.2 3.9" fill="none" stroke="#161616" stroke-width="1.3"/>
<path d="M390.1 434.1 q-1.9 1.0 -0.7 2.1" fill="none" stroke="#161616" stroke-width="1.3"/>
<path d="M385.5 400.2 q-1.6 1.1 0.1 2.1" fill="none" stroke="#161616" stroke-width="1.3"/>
<path d="M384.0 395.4 q-1.0 2.0 -0.4 4.0" fill="none" stroke="#161616" stroke-width="1.3"/>
<path d="M380.5 405.0 q1.7 1.8 0.7 3.6" fill="none" stroke="#161616" stroke-width="1.3"/>
<path d="M390.4 395.4 q1.2 1.2 0.7 2.3" fill="none" stroke="#161616" stroke-width="1.3"/>
<path d="M386.5 426.2 q-1.3 1.7 -0.9 3.4" fill="none" stroke="#161616" stroke-width="1.3"/>
<path d="M380.1 416.3 q-0.1 2.1 1.8 4.2" fill="none" stroke="#161616" stroke-width="1.3"/>
<path d="M388.6 431.4 q-0.3 2.0 0.5 4.0" fill="none" stroke="#161616" stroke-width="1.3"/>
<path d="M386.6 391.3 q2.0 1.2 0.5 2.5" fill="none" stroke="#161616" stroke-width="1.3"/>
<path d="M387.0 403.9 q1.2 1.4 -0.2 2.9" fill="none" stroke="#161616" stroke-width="1.3"/>
<path d="M385.8 433.0 q0.1 1.2 -0.5 2.4" fill="none" stroke="#161616" stroke-width="1.3"/>
<path d="M385.3 427.3 q0.4 2.0 1.7 4.1" fill="none" stroke="#161616" stroke-width="1.3"/>
<path d="M380.3 412.7 q-0.9 1.7 -0.1 3.4" fill="none" stroke="#161616" stroke-width="1.3"/>
<path d="M389.1 430.5 q-0.5 1.1 0.4 2.3" fill="none" stroke="#161616" stroke-width="1.3"/>
<path d="M386.6 429.7 q-1.2 2.2 0.7 4.4" fill="none" stroke="#161616" stroke-width="1.3"/>
<path d="M391.9 391.9 q-0.7 1.5 1.0 3.0" fill="none" stroke="#161616" stroke-width="1.3"/>
<path d="M383.4 432.5 q-0.4 2.2 -0.9 4.4" fill="none" stroke="#161616" stroke-width="1.3"/>
<path d="M383.6 389.3 q-1.7 1.3 1.2 2.6" fill="none" stroke="#161616" stroke-width="1.3"/>
<path d="M382.9 392.9 q1.0 1.1 0.1 2.2" fill="none" stroke="#161616" stroke-width="1.3"/>
<path d="M390.8 415.7 q-0.9 2.0 -1.9 4.0" fill="none" stroke="#161616" stroke-width="1.3"/>
<path d="M392.4 386.0 q-0.9 1.3 -0.1 2.7" fill="none" stroke="#161616" stroke-width="1.3"/>
<path d="M387.0 384.8 q-1.4 1.3 1.2 2.6" fill="none" stroke="#161616" stroke-width="1.3"/>
<path d="M391.7 391.7 q0.6 2.2 0.9 4.5" fill="none" stroke="#161616" stroke-width="1.3"/>
<path d="M381.7 385.2 q-1.2 1.9 -1.4 3.9" fill="none" stroke="#161616" stroke-width="1.3"/>
<path d="M390.6 428.6 q0.1 1.1 0.9 2.1" fill="none" stroke="#161616" stroke-width="1.3"/>
<path d="M384.9 388.0 q-0.9 1.5 1.4 3.0" fill="none" stroke="#161616" stroke-width="1.3"/>
<path d="M381.6 390.0 q1.7 1.2 -0.4 2.3" fill="none" stroke="#161616" stroke-width="1.3"/>
<path d="M380.9 392.5 q1.9 2.2 2.0 4.3" fill="none" stroke="#161616" stroke-width="1.3"/>
<path d="M383.1 401.0 q0.8 2.2 -0.1 4.4" fill="none" stroke="#161616" stroke-width="1.3"/>
<path d="M384.0 383.4 q1.1 1.4 0.8 2.9" fill="none" stroke="#161616" stroke-width="1.3"/>
<path d="M387.3 406.8 q0.1 1.7 -0.2 3.3" fill="none" stroke="#161616" stroke-width="1.3"/>
<path d="M390.7 392.9 q1.4 1.7 1.5 3.5" fill="none" stroke="#161616" stroke-width="1.3"/>
<path d="M382.2 433.2 q-0.9 2.1 -1.5 4.1" fill="none" stroke="#161616" stroke-width="1.3"/>
<path d="M382.5 385.1 q1.5 2.2 -0.5 4.4" fill="none" stroke="#161616" stroke-width="1.3"/>
<path d="M381.4 383.0 q2.0 2.1 1.4 4.2" fill="none" stroke="#161616" stroke-width="1.3"/>
<path d="M388.8 410.1 q0.2 2.0 -1.6 3.9" fill="none" stroke="#161616" stroke-width="1.3"/>
<path d="M385.6 390.0 q0.0 1.8 -0.7 3.5" fill="none" stroke="#161616" stroke-width="1.3"/>
<path d="M384.8 399.1 q1.9 1.4 0.3 2.9" fill="none" stroke="#161616" stroke-width="1.3"/>
<path d="M392.1 427.9 q1.9 2.0 -1.0 4.1" fill="none" stroke="#161616" stroke-width="1.3"/>
<path d="M383.4 388.8 q-0.6 1.6 0.9 3.3" fill="none" stroke="#161616" stroke-width="1.3"/>
<path d="M388.3 397.2 q-0.1 2.2 -0.2 4.4" fill="none" stroke="#161616" stroke-width="1.3"/>
<path d="M386.8 428.6 q-0.2 2.2 0.2 4.5" fill="none" stroke="#161616" stroke-width="1.3"/>
<path d="M387.9 386.0 q1.1 1.5 1.1 3.1" fill="none" stroke="#161616" stroke-width="1.3"/>
<path d="M380.7 427.5 q-0.5 1.5 1.4 3.0" fill="none" stroke="#161616" stroke-width="1.3"/>
<path d="M382.7 411.3 q1.5 2.1 -0.3 4.2" fill="none" stroke="#161616" stroke-width="1.3"/>
<path d="M389.1 401.4 q-0.4 1.4 0.0 2.8" fill="none" stroke="#161616" stroke-width="1.3"/>
<path d="M384.7 416.8 q-1.4 2.1 0.4 4.2" fill="none" stroke="#161616" stroke-width="1.3"/>
<path d="M382.8 401.9 q-1.7 1.8 -1.3 3.5" fill="none" stroke="#161616" stroke-width="1.3"/>
<path d="M424.0 395.6 q1.7 1.0 0.1 2.1" fill="none" stroke="#161616" stroke-width="1.3"/>
<path d="M425.7 417.0 q1.7 2.0 1.5 4.1" fill="none" stroke="#161616" stroke-width="1.3"/>
<path d="M424.9 414.4 q-0.5 1.2 0.9 2.3" fill="none" stroke="#161616" stroke-width="1.3"/>
<path d="M425.2 424.1 q1.3 1.4 -0.9 2.7" fill="none" stroke="#161616" stroke-width="1.3"/>
<path d="M426.2 386.3 q-2.0 1.0 -0.4 2.1" fill="none" stroke="#161616" stroke-width="1.3"/>
<path d="M428.1 390.9 q0.0 1.3 -0.4 2.7" fill="none" stroke="#161616" stroke-width="1.3"/>
<path d="M424.9 411.8 q-1.6 1.8 -0.3 3.6" fill="none" stroke="#161616" stroke-width="1.3"/>
<path d="M429.2 414.8 q1.0 1.1 -0.2 2.2" fill="none" stroke="#161616" stroke-width="1.3"/>
<path d="M429.3 385.4 q-0.3 1.0 -0.0 2.0" fill="none" stroke="#161616" stroke-width="1.3"/>
<path d="M428.6 421.1 q0.3 1.4 -0.3 2.8" fill="none" stroke="#161616" stroke-width="1.3"/>
<path d="M428.5 391.8 q0.6 1.5 -1.2 3.0" fill="none" stroke="#161616" stroke-width="1.3"/>
<path d="M421.6 426.2 q-1.7 1.7 0.3 3.3" fill="none" stroke="#161616" stroke-width="1.3"/>
<path d="M423.3 404.3 q-0.9 2.1 0.2 4.1" fill="none" stroke="#161616" stroke-width="1.3"/>
<path d="M429.3 413.4 q-0.8 1.7 -1.1 3.3" fill="none" stroke="#161616" stroke-width="1.3"/>
<path d="M428.6 388.5 q-0.6 1.7 0.5 3.3" fill="none" stroke="#161616" stroke-width="1.3"/>
<path d="M427.5 425.1 q-1.2 2.1 1.1 4.1" fill="none" stroke="#161616" stroke-width="1.3"/>
<path d="M421.9 402.6 q1.5 1.4 -0.9 2.8" fill="none" stroke="#161616" stroke-width="1.3"/>
<path d="M423.1 421.0 q1.7 2.2 -1.7 4.3" fill="none" stroke="#161616" stroke-width="1.3"/>
<path d="M424.6 392.3 q-0.0 1.2 -1.1 2.5" fill="none" stroke="#161616" stroke-width="1.3"/>
<path d="M424.5 422.3 q-0.4 2.0 -1.8 4.1" fill="none" stroke="#161616" stroke-width="1.3"/>
<path d="M424.5 390.6 q0.8 1.3 -0.7 2.6" fill="none" stroke="#161616" stroke-width="1.3"/>
<path d="M424.1 387.5 q0.3 1.3 -0.2 2.6" fill="none" stroke="#161616" stroke-width="1.3"/>
<path d="M423.4 415.2 q0.4 1.3 0.5 2.5" fill="none" stroke="#161616" stroke-width="1.3"/>
<path d="M422.8 417.6 q0.4 1.5 0.1 3.0" fill="none" stroke="#161616" stroke-width="1.3"/>
<path d="M426.4 403.1 q1.4 1.1 0.7 2.1" fill="none" stroke="#161616" stroke-width="1.3"/>
<path d="M425.3 409.5 q0.7 1.3 1.1 2.7" fill="none" stroke="#161616" stroke-width="1.3"/>
<path d="M423.2 420.7 q2.0 2.2 -0.8 4.5" fill="none" stroke="#161616" stroke-width="1.3"/>
<path d="M425.3 390.7 q0.9 1.9 -0.7 3.8" fill="none" stroke="#161616" stroke-width="1.3"/>
<path d="M426.1 387.4 q-0.1 1.7 1.2 3.3" fill="none" stroke="#161616" stroke-width="1.3"/>
<path d="M425.7 422.9 q0.3 1.6 -0.0 3.1" fill="none" stroke="#161616" stroke-width="1.3"/>
<rect x="373.4" y="416.4" width="1.6" height="1.6" fill="#141414"/>
<rect x="371.2" y="429.6" width="1.6" height="1.6" fill="#141414"/>
<rect x="372.6" y="418.8" width="1.6" height="1.6" fill="#141414"/>
<rect x="373.6" y="432.5" width="1.6" height="1.6" fill="#141414"/>
<rect x="372.5" y="434.9" width="1.6" height="1.6" fill="#141414"/>
<rect x="373.4" y="429.3" width="1.6" height="1.6" fill="#141414"/>
<rect x="371.8" y="411.9" width="1.6" height="1.6" fill="#141414"/>
<path d="M462.0 425.5 q0.3 1.4 -0.1 2.9" fill="none" stroke="#161616" stroke-width="1.3"/>
<path d="M453.4 423.3 q-1.6 1.7 -0.5 3.4" fill="none" stroke="#161616" stroke-width="1.3"/>
<path d="M459.5 401.1 q-0.4 1.9 -1.3 3.8" fill="none" stroke="#161616" stroke-width="1.3"/>
<path d="M452.3 406.3 q-1.8 1.7 -1.4 3.4" fill="none" stroke="#161616" stroke-width="1.3"/>
<path d="M458.0 394.1 q-1.6 1.6 -1.2 3.3" fill="none" stroke="#161616" stroke-width="1.3"/>
<path d="M459.2 436.5 q-0.4 2.1 0.1 4.2" fill="none" stroke="#161616" stroke-width="1.3"/>
<path d="M449.7 398.5 q-1.5 1.4 1.2 2.8" fill="none" stroke="#161616" stroke-width="1.3"/>
<path d="M467.4 410.3 q1.9 1.5 -0.8 3.1" fill="none" stroke="#161616" stroke-width="1.3"/>
<path d="M452.1 415.9 q-1.1 1.6 -1.1 3.3" fill="none" stroke="#161616" stroke-width="1.3"/>
<path d="M468.1 428.8 q-1.6 1.9 1.6 3.8" fill="none" stroke="#161616" stroke-width="1.3"/>
<path d="M462.5 426.4 q1.9 1.3 -0.1 2.6" fill="none" stroke="#161616" stroke-width="1.3"/>
<path d="M454.9 427.1 q-0.9 1.2 0.5 2.4" fill="none" stroke="#161616" stroke-width="1.3"/>
<path d="M458.6 404.2 q0.0 2.1 1.2 4.2" fill="none" stroke="#161616" stroke-width="1.3"/>
<path d="M462.1 407.4 q0.2 2.0 -1.1 4.0" fill="none" stroke="#161616" stroke-width="1.3"/>
<path d="M460.1 405.1 q0.6 1.1 -0.8 2.1" fill="none" stroke="#161616" stroke-width="1.3"/>
<path d="M452.6 426.8 q1.4 1.6 1.4 3.3" fill="none" stroke="#161616" stroke-width="1.3"/>
<path d="M462.9 404.2 q1.0 1.1 0.1 2.1" fill="none" stroke="#161616" stroke-width="1.3"/>
<path d="M466.8 394.2 q1.0 1.2 1.1 2.4" fill="none" stroke="#161616" stroke-width="1.3"/>
<path d="M458.1 425.7 q0.7 1.2 0.1 2.4" fill="none" stroke="#161616" stroke-width="1.3"/>
<path d="M460.5 391.8 q1.5 1.2 0.3 2.3" fill="none" stroke="#161616" stroke-width="1.3"/>
<path d="M451.2 382.7 q-0.4 1.1 0.7 2.2" fill="none" stroke="#161616" stroke-width="1.3"/>
<path d="M457.5 440.7 q0.8 1.8 -0.9 3.5" fill="none" stroke="#161616" stroke-width="1.3"/>
<path d="M448.4 398.8 q-1.9 1.9 -1.3 3.7" fill="none" stroke="#161616" stroke-width="1.3"/>
<path d="M458.8 401.6 q1.2 2.2 -1.8 4.4" fill="none" stroke="#161616" stroke-width="1.3"/>
<path d="M456.2 429.6 q-0.7 1.6 0.6 3.1" fill="none" stroke="#161616" stroke-width="1.3"/>
<path d="M452.9 408.9 q-1.1 2.0 -0.7 4.0" fill="none" stroke="#161616" stroke-width="1.3"/>
<path d="M456.7 387.9 q0.2 1.4 0.2 2.8" fill="none" stroke="#161616" stroke-width="1.3"/>
<path d="M460.3 399.3 q-0.6 1.0 -0.9 2.1" fill="none" stroke="#161616" stroke-width="1.3"/>
<path d="M452.3 415.7 q0.4 1.3 0.8 2.7" fill="none" stroke="#161616" stroke-width="1.3"/>
<path d="M461.6 425.5 q-0.8 1.7 -0.3 3.3" fill="none" stroke="#161616" stroke-width="1.3"/>
<path d="M449.7 429.0 q1.7 1.6 -1.3 3.3" fill="none" stroke="#161616" stroke-width="1.3"/>
<path d="M460.0 418.9 q2.0 1.5 -1.2 3.1" fill="none" stroke="#161616" stroke-width="1.3"/>
<path d="M451.8 403.8 q-0.0 2.2 -1.8 4.5" fill="none" stroke="#161616" stroke-width="1.3"/>
<path d="M458.0 396.8 q-2.0 2.2 -0.4 4.3" fill="none" stroke="#161616" stroke-width="1.3"/>
<path d="M457.9 382.6 q1.6 1.9 1.5 3.8" fill="none" stroke="#161616" stroke-width="1.3"/>
<path d="M449.4 422.0 q-0.8 1.4 -0.1 2.8" fill="none" stroke="#161616" stroke-width="1.3"/>
<path d="M454.5 390.1 q1.9 1.8 -1.5 3.6" fill="none" stroke="#161616" stroke-width="1.3"/>
<path d="M449.3 438.9 q1.0 1.2 -1.0 2.5" fill="none" stroke="#161616" stroke-width="1.3"/>
<path d="M459.0 427.5 q-1.7 1.6 0.5 3.3" fill="none" stroke="#161616" stroke-width="1.3"/>
<path d="M461.9 412.4 q-1.7 2.2 -2.0 4.4" fill="none" stroke="#161616" stroke-width="1.3"/>
<path d="M461.9 495.5 q0.2 1.5 0.7 3.1" fill="none" stroke="#161616" stroke-width="1.3"/>
<path d="M456.2 468.4 q-0.8 1.8 -1.6 3.5" fill="none" stroke="#161616" stroke-width="1.3"/>
<path d="M463.2 456.2 q-0.6 1.6 -0.9 3.2" fill="none" stroke="#161616" stroke-width="1.3"/>
<path d="M461.4 484.7 q-1.2 2.2 -0.1 4.4" fill="none" stroke="#161616" stroke-width="1.3"/>
<path d="M455.1 444.5 q0.4 1.3 0.3 2.6" fill="none" stroke="#161616" stroke-width="1.3"/>
<path d="M453.2 451.7 q0.0 1.1 -0.8 2.2" fill="none" stroke="#161616" stroke-width="1.3"/>
<path d="M453.5 493.0 q-0.3 1.7 -0.6 3.4" fill="none" stroke="#161616" stroke-width="1.3"/>
<path d="M449.2 484.1 q0.9 1.9 -0.6 3.9" fill="none" stroke="#161616" stroke-width="1.3"/>
<path d="M453.8 453.9 q0.4 1.3 -0.9 2.6" fill="none" stroke="#161616" stroke-width="1.3"/>
<path d="M461.2 483.8 q-0.1 1.1 0.7 2.3" fill="none" stroke="#161616" stroke-width="1.3"/>
<path d="M456.0 470.6 q-0.4 1.5 -1.0 3.1" fill="none" stroke="#161616" stroke-width="1.3"/>
<path d="M461.3 483.1 q1.6 2.1 -1.4 4.3" fill="none" stroke="#161616" stroke-width="1.3"/>
<path d="M464.4 482.9 q1.1 2.2 -1.7 4.4" fill="none" stroke="#161616" stroke-width="1.3"/>
<path d="M466.4 448.2 q-0.8 1.7 1.5 3.5" fill="none" stroke="#161616" stroke-width="1.3"/>
<path d="M465.5 494.3 q-1.1 1.5 -1.2 3.1" fill="none" stroke="#161616" stroke-width="1.3"/>
<path d="M465.0 465.9 q1.7 1.4 -0.2 2.8" fill="none" stroke="#161616" stroke-width="1.3"/>
<path d="M453.5 442.1 q-0.5 2.2 -0.9 4.4" fill="none" stroke="#161616" stroke-width="1.3"/>
<path d="M467.9 457.6 q-1.0 1.1 0.9 2.2" fill="none" stroke="#161616" stroke-width="1.3"/>
<path d="M452.8 496.1 q-0.7 1.3 1.1 2.6" fill="none" stroke="#161616" stroke-width="1.3"/>
<path d="M454.5 453.7 q-0.4 1.7 0.2 3.4" fill="none" stroke="#161616" stroke-width="1.3"/>
<path d="M458.5 458.6 q1.0 2.0 1.8 4.1" fill="none" stroke="#161616" stroke-width="1.3"/>
<path d="M464.8 445.2 q-1.4 1.3 -0.9 2.6" fill="none" stroke="#161616" stroke-width="1.3"/>
</g>
<rect x="350.40" y="382.30" width="120.40" height="117.50" fill="none" stroke="#ababab" stroke-width="1.1"/>
<line x1="350.40" x2="351.90" y1="410.30" y2="410.30" stroke="#8a8a8a" stroke-width="0.8"/>
<line x1="350.40" x2="351.90" y1="437.00" y2="437.00" stroke="#8a8a8a" stroke-width="0.8"/>
<line x1="350.40" x2="351.90" y1="463.70" y2="463.70" stroke="#8a8a8a" stroke-width="0.8"/>
<line x1="350.40" x2="351.90" y1="490.40" y2="490.40" stroke="#8a8a8a" stroke-width="0.8"/>
<line x1="380.50" x2="380.50" y1="499.80" y2="498.30" stroke="#8a8a8a" stroke-width="0.8"/>
<line x1="410.60" x2="410.60" y1="499.80" y2="498.30" stroke="#8a8a8a" stroke-width="0.8"/>
<line x1="440.70" x2="440.70" y1="499.80" y2="498.30" stroke="#8a8a8a" stroke-width="0.8"/>
<text y="378.10" class="ti" x="368.40" letter-spacing="0.3" font-size="15.5px">(i)</text>
<text y="378.10" class="ti" x="391.60" font-style="italic" font-size="16px">f</text>
<text y="379.20" class="ti eq" x="400.40">=</text>
<text y="378.10" class="ti" x="411.00" font-size="15px" textLength="40.30" lengthAdjust="spacingAndGlyphs">388Hz</text>
<text x="350.40" y="517.30" class="tk" text-anchor="middle">-40</text>
<text x="380.50" y="517.30" class="tk" text-anchor="middle">-20</text>
<text x="410.60" y="517.30" class="tk" text-anchor="middle">0</text>
<text x="440.70" y="517.30" class="tk" text-anchor="middle">20</text>
<text x="470.80" y="517.30" class="tk" text-anchor="middle">40</text>
<text x="346.10" y="414.70" class="tk" text-anchor="end">20</text>
<text x="346.10" y="441.40" class="tk" text-anchor="end">40</text>
<text x="346.10" y="468.10" class="tk" text-anchor="end">60</text>
<text x="346.10" y="494.80" class="tk" text-anchor="end">80</text>
<text class="lb" transform="translate(10.2 74.85) rotate(-90)" x="-27.2" textLength="54.4" lengthAdjust="spacingAndGlyphs">Snapshot</text>
<text class="lb" transform="translate(10.2 257.85) rotate(-90)" x="-27.2" textLength="54.4" lengthAdjust="spacingAndGlyphs">Snapshot</text>
<text class="lb" transform="translate(10.2 441.15) rotate(-90)" x="-27.2" textLength="54.4" lengthAdjust="spacingAndGlyphs">Snapshot</text>
<text class="lb" x="95.80" y="531.5" text-anchor="middle">DOA [°]</text>
<text class="lb" x="252.60" y="531.5" text-anchor="middle">DOA [°]</text>
<text class="lb" x="410.60" y="531.5" text-anchor="middle">DOA [°]</text>
<rect x="484.20" y="15.60" width="15.80" height="313.30" fill="url(#cbar)" stroke="#ababab" stroke-width="1.1"/>
<text x="503.30" y="20.00" class="tk">0</text>
<line x1="498.50" x2="500.00" y1="46.93" y2="46.93" stroke="#8a8a8a" stroke-width="0.8"/>
<text x="503.30" y="51.33" class="tk">-2</text>
<line x1="498.50" x2="500.00" y1="78.26" y2="78.26" stroke="#8a8a8a" stroke-width="0.8"/>
<text x="503.30" y="82.66" class="tk">-4</text>
<line x1="498.50" x2="500.00" y1="109.59" y2="109.59" stroke="#8a8a8a" stroke-width="0.8"/>
<text x="503.30" y="113.99" class="tk">-6</text>
<line x1="498.50" x2="500.00" y1="140.92" y2="140.92" stroke="#8a8a8a" stroke-width="0.8"/>
<text x="503.30" y="145.32" class="tk">-8</text>
<line x1="498.50" x2="500.00" y1="172.25" y2="172.25" stroke="#8a8a8a" stroke-width="0.8"/>
<text x="503.30" y="176.65" class="tk">-10</text>
<line x1="498.50" x2="500.00" y1="203.58" y2="203.58" stroke="#8a8a8a" stroke-width="0.8"/>
<text x="503.30" y="207.98" class="tk">-12</text>
<line x1="498.50" x2="500.00" y1="234.91" y2="234.91" stroke="#8a8a8a" stroke-width="0.8"/>
<text x="503.30" y="239.31" class="tk">-14</text>
<line x1="498.50" x2="500.00" y1="266.24" y2="266.24" stroke="#8a8a8a" stroke-width="0.8"/>
<text x="503.30" y="270.64" class="tk">-16</text>
<line x1="498.50" x2="500.00" y1="297.57" y2="297.57" stroke="#8a8a8a" stroke-width="0.8"/>
<text x="503.30" y="301.97" class="tk">-18</text>
<text x="503.30" y="333.30" class="tk">-20</text>
</g>
</svg>
</body></html>
